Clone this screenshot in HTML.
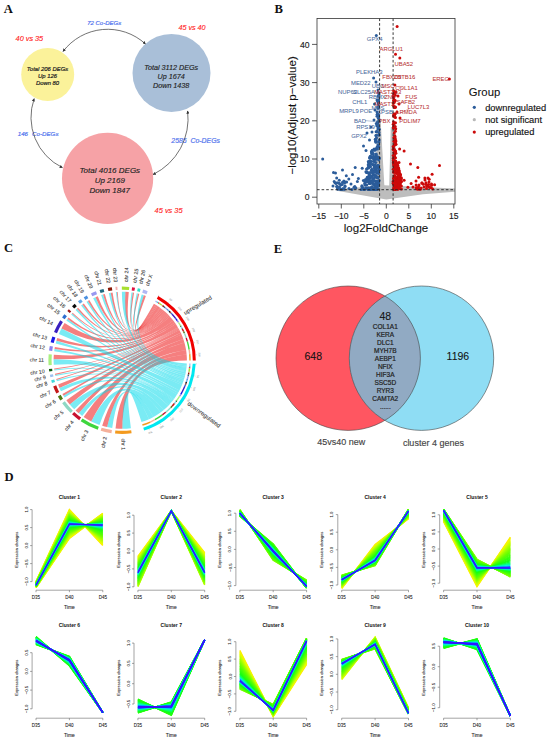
<!DOCTYPE html>
<html><head><meta charset="utf-8"><title>Figure</title>
<style>
html,body{margin:0;padding:0;background:#fff;width:550px;height:744px;overflow:hidden}
svg{display:block}

</style></head><body>
<svg width="550" height="744" viewBox="0 0 550 744" font-family='"Liberation Sans", sans-serif'>
<text x="3.80" y="13.10" font-size="12.6" fill="#111" text-anchor="start" font-weight="bold" font-family='"Liberation Serif", serif'>A</text>
<text x="274.50" y="13.10" font-size="12.6" fill="#111" text-anchor="start" font-weight="bold" font-family='"Liberation Serif", serif'>B</text>
<text x="4.10" y="251.60" font-size="12.6" fill="#111" text-anchor="start" font-weight="bold" font-family='"Liberation Serif", serif'>C</text>
<text x="273.80" y="252.60" font-size="12.6" fill="#111" text-anchor="start" font-weight="bold" font-family='"Liberation Serif", serif'>E</text>
<text x="4.40" y="481.30" font-size="12.6" fill="#111" text-anchor="start" font-weight="bold" font-family='"Liberation Serif", serif'>D</text>
<circle cx="47.7" cy="74.4" r="26.5" fill="#FBF29A"/>
<circle cx="171.5" cy="72.9" r="39" fill="#A9BFD8"/>
<circle cx="107.6" cy="178.4" r="45.6" fill="#F6A2A6"/>
<text x="47.50" y="70.52" font-size="5.9" fill="#222" text-anchor="middle" font-style="italic" stroke="#222" stroke-width="0.20">Total 206 DEGs</text>
<text x="47.50" y="77.92" font-size="5.9" fill="#222" text-anchor="middle" font-style="italic" stroke="#222" stroke-width="0.20">Up 126</text>
<text x="47.50" y="85.32" font-size="5.9" fill="#222" text-anchor="middle" font-style="italic" stroke="#222" stroke-width="0.20">Down 80</text>
<text x="171.20" y="69.79" font-size="7.2" fill="#222" text-anchor="middle" font-style="italic" stroke="#222" stroke-width="0.14">Total 3112 DEGs</text>
<text x="171.20" y="78.79" font-size="7.2" fill="#222" text-anchor="middle" font-style="italic" stroke="#222" stroke-width="0.14">Up 1674</text>
<text x="171.20" y="87.79" font-size="7.2" fill="#222" text-anchor="middle" font-style="italic" stroke="#222" stroke-width="0.14">Down 1438</text>
<text x="109.80" y="172.98" font-size="8.0" fill="#222" text-anchor="middle" font-style="italic" stroke="#222" stroke-width="0.14">Total 4016 DEGs</text>
<text x="109.80" y="182.78" font-size="8.0" fill="#222" text-anchor="middle" font-style="italic" stroke="#222" stroke-width="0.14">Up 2169</text>
<text x="109.80" y="192.58" font-size="8.0" fill="#222" text-anchor="middle" font-style="italic" stroke="#222" stroke-width="0.14">Down 1847</text>
<text x="29.40" y="40.63" font-size="7.3" fill="#F22" text-anchor="middle" font-style="italic" stroke="#F22" stroke-width="0.14">40 vs 35</text>
<text x="192.00" y="30.19" font-size="7.2" fill="#F22" text-anchor="middle" font-style="italic" stroke="#F22" stroke-width="0.14">45 vs 40</text>
<text x="168.60" y="212.66" font-size="7.4" fill="#F22" text-anchor="middle" font-style="italic" stroke="#F22" stroke-width="0.14">45 vs 35</text>
<text x="104.20" y="25.36" font-size="6.0" fill="#5577EE" text-anchor="middle" font-style="italic" stroke="#5577EE" stroke-width="0.20">72 Co-DEGs</text>
<text x="17.70" y="135.73" font-size="6.2" fill="#5577EE" text-anchor="start" font-style="italic" stroke="#5577EE" stroke-width="0.20">146</text>
<text x="32.00" y="135.73" font-size="6.2" fill="#5577EE" text-anchor="start" font-style="italic" stroke="#5577EE" stroke-width="0.20">Co-DEGs</text>
<text x="171.30" y="143.48" font-size="6.9" fill="#5577EE" text-anchor="start" font-style="italic" stroke="#5577EE" stroke-width="0.20">2585</text>
<text x="190.50" y="143.48" font-size="6.9" fill="#5577EE" text-anchor="start" font-style="italic" stroke="#5577EE" stroke-width="0.20">Co-DEGs</text>
<defs><marker id="ah" viewBox="0 0 10 10" refX="9" refY="5" markerWidth="4.2" markerHeight="4.2" orient="auto-start-reverse"><path d="M0,0 L10,5 L0,10 z" fill="#333"/></marker></defs>
<path d="M63,51.5 A56,56 0 0 1 145.5,44" fill="none" stroke="#444" stroke-width="0.75" marker-start="url(#ah)" marker-end="url(#ah)"/>
<path d="M34.2,98.6 A56,56 0 0 0 62.5,167.7" fill="none" stroke="#444" stroke-width="0.75" marker-start="url(#ah)" marker-end="url(#ah)"/>
<path d="M187.6,110.9 A62,62 0 0 1 153,174.5" fill="none" stroke="#444" stroke-width="0.75" marker-start="url(#ah)" marker-end="url(#ah)"/>
<rect x="317.0" y="18.5" width="138.0" height="185.5" fill="#fff"/>
<path d="M336.7,189.2 L384,185.2 L455,188.4 L455,191.8 L423,194.2 L386.3,199.6 L336.7,190.8 Z" fill="#BDBDBD"/>
<path d="M376.5,120 L380.6,120 L384.8,193 L376.5,193 Z" fill="#BDBDBD"/>
<path d="M390.8,127 L395.5,127 L395.5,193 L389.0,193 Z" fill="#BDBDBD"/>
<circle cx="375.7" cy="172.0" r="1.5" fill="#2B5C9A"/>
<circle cx="378.6" cy="165.5" r="1.5" fill="#2B5C9A"/>
<circle cx="378.3" cy="167.6" r="1.5" fill="#2B5C9A"/>
<circle cx="369.2" cy="189.2" r="1.5" fill="#2B5C9A"/>
<circle cx="375.7" cy="159.5" r="1.5" fill="#2B5C9A"/>
<circle cx="369.6" cy="161.2" r="1.5" fill="#2B5C9A"/>
<circle cx="367.5" cy="177.4" r="1.5" fill="#2B5C9A"/>
<circle cx="373.0" cy="174.9" r="1.5" fill="#2B5C9A"/>
<circle cx="364.4" cy="189.4" r="1.5" fill="#2B5C9A"/>
<circle cx="377.9" cy="183.4" r="1.5" fill="#2B5C9A"/>
<circle cx="368.8" cy="166.6" r="1.5" fill="#2B5C9A"/>
<circle cx="368.9" cy="165.4" r="1.5" fill="#2B5C9A"/>
<circle cx="367.0" cy="172.2" r="1.5" fill="#2B5C9A"/>
<circle cx="376.9" cy="189.6" r="1.5" fill="#2B5C9A"/>
<circle cx="365.3" cy="185.3" r="1.5" fill="#2B5C9A"/>
<circle cx="378.1" cy="157.8" r="1.5" fill="#2B5C9A"/>
<circle cx="378.7" cy="183.1" r="1.5" fill="#2B5C9A"/>
<circle cx="374.5" cy="175.0" r="1.5" fill="#2B5C9A"/>
<circle cx="378.3" cy="185.4" r="1.5" fill="#2B5C9A"/>
<circle cx="378.9" cy="169.5" r="1.5" fill="#2B5C9A"/>
<circle cx="371.6" cy="161.5" r="1.5" fill="#2B5C9A"/>
<circle cx="365.4" cy="180.9" r="1.5" fill="#2B5C9A"/>
<circle cx="362.2" cy="186.9" r="1.5" fill="#2B5C9A"/>
<circle cx="372.5" cy="182.7" r="1.5" fill="#2B5C9A"/>
<circle cx="373.2" cy="189.5" r="1.5" fill="#2B5C9A"/>
<circle cx="367.7" cy="181.6" r="1.5" fill="#2B5C9A"/>
<circle cx="373.1" cy="164.5" r="1.5" fill="#2B5C9A"/>
<circle cx="370.5" cy="182.3" r="1.5" fill="#2B5C9A"/>
<circle cx="366.9" cy="169.0" r="1.5" fill="#2B5C9A"/>
<circle cx="369.5" cy="158.1" r="1.5" fill="#2B5C9A"/>
<circle cx="377.4" cy="167.2" r="1.5" fill="#2B5C9A"/>
<circle cx="375.3" cy="189.4" r="1.5" fill="#2B5C9A"/>
<circle cx="372.3" cy="180.8" r="1.5" fill="#2B5C9A"/>
<circle cx="361.1" cy="189.5" r="1.5" fill="#2B5C9A"/>
<circle cx="378.5" cy="186.0" r="1.5" fill="#2B5C9A"/>
<circle cx="374.9" cy="185.6" r="1.5" fill="#2B5C9A"/>
<circle cx="378.7" cy="160.0" r="1.5" fill="#2B5C9A"/>
<circle cx="368.5" cy="181.4" r="1.5" fill="#2B5C9A"/>
<circle cx="375.9" cy="175.5" r="1.5" fill="#2B5C9A"/>
<circle cx="374.6" cy="187.8" r="1.5" fill="#2B5C9A"/>
<circle cx="377.6" cy="165.4" r="1.5" fill="#2B5C9A"/>
<circle cx="378.3" cy="189.1" r="1.5" fill="#2B5C9A"/>
<circle cx="367.0" cy="188.1" r="1.5" fill="#2B5C9A"/>
<circle cx="378.2" cy="172.5" r="1.5" fill="#2B5C9A"/>
<circle cx="378.0" cy="181.6" r="1.5" fill="#2B5C9A"/>
<circle cx="369.1" cy="174.8" r="1.5" fill="#2B5C9A"/>
<circle cx="365.3" cy="182.3" r="1.5" fill="#2B5C9A"/>
<circle cx="363.3" cy="188.4" r="1.5" fill="#2B5C9A"/>
<circle cx="379.3" cy="169.5" r="1.5" fill="#2B5C9A"/>
<circle cx="362.0" cy="186.5" r="1.5" fill="#2B5C9A"/>
<circle cx="374.7" cy="157.7" r="1.5" fill="#2B5C9A"/>
<circle cx="366.9" cy="179.5" r="1.5" fill="#2B5C9A"/>
<circle cx="376.8" cy="173.1" r="1.5" fill="#2B5C9A"/>
<circle cx="370.2" cy="177.9" r="1.5" fill="#2B5C9A"/>
<circle cx="377.7" cy="188.8" r="1.5" fill="#2B5C9A"/>
<circle cx="369.7" cy="189.2" r="1.5" fill="#2B5C9A"/>
<circle cx="369.2" cy="163.7" r="1.5" fill="#2B5C9A"/>
<circle cx="378.7" cy="167.9" r="1.5" fill="#2B5C9A"/>
<circle cx="376.4" cy="171.7" r="1.5" fill="#2B5C9A"/>
<circle cx="368.8" cy="187.8" r="1.5" fill="#2B5C9A"/>
<circle cx="376.5" cy="186.8" r="1.5" fill="#2B5C9A"/>
<circle cx="369.9" cy="182.9" r="1.5" fill="#2B5C9A"/>
<circle cx="377.9" cy="157.1" r="1.5" fill="#2B5C9A"/>
<circle cx="373.8" cy="158.1" r="1.5" fill="#2B5C9A"/>
<circle cx="375.1" cy="176.8" r="1.5" fill="#2B5C9A"/>
<circle cx="368.3" cy="177.1" r="1.5" fill="#2B5C9A"/>
<circle cx="365.5" cy="179.6" r="1.5" fill="#2B5C9A"/>
<circle cx="379.1" cy="180.4" r="1.5" fill="#2B5C9A"/>
<circle cx="375.5" cy="158.8" r="1.5" fill="#2B5C9A"/>
<circle cx="369.2" cy="176.4" r="1.5" fill="#2B5C9A"/>
<circle cx="365.7" cy="188.2" r="1.5" fill="#2B5C9A"/>
<circle cx="377.7" cy="166.0" r="1.5" fill="#2B5C9A"/>
<circle cx="375.8" cy="180.9" r="1.5" fill="#2B5C9A"/>
<circle cx="375.5" cy="166.3" r="1.5" fill="#2B5C9A"/>
<circle cx="376.0" cy="170.5" r="1.5" fill="#2B5C9A"/>
<circle cx="374.4" cy="180.8" r="1.5" fill="#2B5C9A"/>
<circle cx="370.4" cy="183.3" r="1.5" fill="#2B5C9A"/>
<circle cx="375.5" cy="166.5" r="1.5" fill="#2B5C9A"/>
<circle cx="378.4" cy="183.0" r="1.5" fill="#2B5C9A"/>
<circle cx="373.5" cy="171.0" r="1.5" fill="#2B5C9A"/>
<circle cx="370.7" cy="189.5" r="1.5" fill="#2B5C9A"/>
<circle cx="373.6" cy="184.2" r="1.5" fill="#2B5C9A"/>
<circle cx="376.4" cy="177.6" r="1.5" fill="#2B5C9A"/>
<circle cx="376.5" cy="171.1" r="1.5" fill="#2B5C9A"/>
<circle cx="373.4" cy="181.3" r="1.5" fill="#2B5C9A"/>
<circle cx="377.1" cy="167.7" r="1.5" fill="#2B5C9A"/>
<circle cx="376.7" cy="181.3" r="1.5" fill="#2B5C9A"/>
<circle cx="375.8" cy="162.5" r="1.5" fill="#2B5C9A"/>
<circle cx="378.9" cy="158.1" r="1.5" fill="#2B5C9A"/>
<circle cx="372.2" cy="175.7" r="1.5" fill="#2B5C9A"/>
<circle cx="376.3" cy="186.4" r="1.5" fill="#2B5C9A"/>
<circle cx="373.8" cy="159.7" r="1.5" fill="#2B5C9A"/>
<circle cx="375.6" cy="169.5" r="1.5" fill="#2B5C9A"/>
<circle cx="368.6" cy="168.0" r="1.5" fill="#2B5C9A"/>
<circle cx="374.1" cy="166.0" r="1.5" fill="#2B5C9A"/>
<circle cx="371.4" cy="170.4" r="1.5" fill="#2B5C9A"/>
<circle cx="376.2" cy="172.0" r="1.5" fill="#2B5C9A"/>
<circle cx="375.4" cy="171.5" r="1.5" fill="#2B5C9A"/>
<circle cx="363.3" cy="189.3" r="1.5" fill="#2B5C9A"/>
<circle cx="373.8" cy="178.4" r="1.5" fill="#2B5C9A"/>
<circle cx="373.7" cy="185.1" r="1.5" fill="#2B5C9A"/>
<circle cx="365.9" cy="171.7" r="1.5" fill="#2B5C9A"/>
<circle cx="367.2" cy="177.3" r="1.5" fill="#2B5C9A"/>
<circle cx="362.9" cy="188.8" r="1.5" fill="#2B5C9A"/>
<circle cx="365.4" cy="182.3" r="1.5" fill="#2B5C9A"/>
<circle cx="361.9" cy="185.7" r="1.5" fill="#2B5C9A"/>
<circle cx="369.6" cy="177.5" r="1.5" fill="#2B5C9A"/>
<circle cx="373.5" cy="172.4" r="1.5" fill="#2B5C9A"/>
<circle cx="377.6" cy="184.5" r="1.5" fill="#2B5C9A"/>
<circle cx="368.0" cy="189.6" r="1.5" fill="#2B5C9A"/>
<circle cx="369.1" cy="183.4" r="1.5" fill="#2B5C9A"/>
<circle cx="376.2" cy="187.6" r="1.5" fill="#2B5C9A"/>
<circle cx="363.4" cy="180.5" r="1.5" fill="#2B5C9A"/>
<circle cx="366.5" cy="172.4" r="1.5" fill="#2B5C9A"/>
<circle cx="369.5" cy="174.8" r="1.5" fill="#2B5C9A"/>
<circle cx="378.7" cy="173.5" r="1.5" fill="#2B5C9A"/>
<circle cx="372.4" cy="164.5" r="1.5" fill="#2B5C9A"/>
<circle cx="375.0" cy="164.8" r="1.5" fill="#2B5C9A"/>
<circle cx="365.1" cy="180.7" r="1.5" fill="#2B5C9A"/>
<circle cx="373.1" cy="173.0" r="1.5" fill="#2B5C9A"/>
<circle cx="379.0" cy="158.9" r="1.5" fill="#2B5C9A"/>
<circle cx="370.1" cy="172.5" r="1.5" fill="#2B5C9A"/>
<circle cx="368.3" cy="161.5" r="1.5" fill="#2B5C9A"/>
<circle cx="371.2" cy="187.8" r="1.5" fill="#2B5C9A"/>
<circle cx="367.2" cy="172.3" r="1.5" fill="#2B5C9A"/>
<circle cx="377.8" cy="171.8" r="1.5" fill="#2B5C9A"/>
<circle cx="369.9" cy="180.5" r="1.5" fill="#2B5C9A"/>
<circle cx="366.7" cy="184.9" r="1.5" fill="#2B5C9A"/>
<circle cx="373.1" cy="158.2" r="1.5" fill="#2B5C9A"/>
<circle cx="378.4" cy="158.7" r="1.5" fill="#2B5C9A"/>
<circle cx="368.7" cy="173.0" r="1.5" fill="#2B5C9A"/>
<circle cx="374.3" cy="157.9" r="1.5" fill="#2B5C9A"/>
<circle cx="368.3" cy="179.2" r="1.5" fill="#2B5C9A"/>
<circle cx="374.3" cy="157.8" r="1.5" fill="#2B5C9A"/>
<circle cx="370.3" cy="183.2" r="1.5" fill="#2B5C9A"/>
<circle cx="372.3" cy="187.5" r="1.5" fill="#2B5C9A"/>
<circle cx="368.1" cy="178.3" r="1.5" fill="#2B5C9A"/>
<circle cx="377.2" cy="166.0" r="1.5" fill="#2B5C9A"/>
<circle cx="370.4" cy="189.4" r="1.5" fill="#2B5C9A"/>
<circle cx="378.2" cy="183.5" r="1.5" fill="#2B5C9A"/>
<circle cx="370.0" cy="166.0" r="1.5" fill="#2B5C9A"/>
<circle cx="364.6" cy="183.7" r="1.5" fill="#2B5C9A"/>
<circle cx="372.3" cy="157.6" r="1.5" fill="#2B5C9A"/>
<circle cx="371.9" cy="172.6" r="1.5" fill="#2B5C9A"/>
<circle cx="373.8" cy="171.2" r="1.5" fill="#2B5C9A"/>
<circle cx="368.1" cy="167.5" r="1.5" fill="#2B5C9A"/>
<circle cx="370.5" cy="166.8" r="1.5" fill="#2B5C9A"/>
<circle cx="369.4" cy="175.2" r="1.5" fill="#2B5C9A"/>
<circle cx="371.2" cy="182.9" r="1.5" fill="#2B5C9A"/>
<circle cx="369.3" cy="177.6" r="1.5" fill="#2B5C9A"/>
<circle cx="374.1" cy="167.4" r="1.5" fill="#2B5C9A"/>
<circle cx="365.1" cy="189.1" r="1.5" fill="#2B5C9A"/>
<circle cx="378.0" cy="177.9" r="1.5" fill="#2B5C9A"/>
<circle cx="374.3" cy="161.7" r="1.5" fill="#2B5C9A"/>
<circle cx="375.1" cy="189.4" r="1.5" fill="#2B5C9A"/>
<circle cx="372.5" cy="178.8" r="1.5" fill="#2B5C9A"/>
<circle cx="374.5" cy="168.8" r="1.5" fill="#2B5C9A"/>
<circle cx="378.0" cy="177.0" r="1.5" fill="#2B5C9A"/>
<circle cx="369.3" cy="180.2" r="1.5" fill="#2B5C9A"/>
<circle cx="370.1" cy="163.2" r="1.5" fill="#2B5C9A"/>
<circle cx="376.4" cy="182.9" r="1.5" fill="#2B5C9A"/>
<circle cx="376.2" cy="188.6" r="1.5" fill="#2B5C9A"/>
<circle cx="371.8" cy="169.3" r="1.5" fill="#2B5C9A"/>
<circle cx="375.5" cy="183.2" r="1.5" fill="#2B5C9A"/>
<circle cx="370.0" cy="160.8" r="1.5" fill="#2B5C9A"/>
<circle cx="372.3" cy="177.1" r="1.5" fill="#2B5C9A"/>
<circle cx="369.1" cy="176.5" r="1.5" fill="#2B5C9A"/>
<circle cx="371.7" cy="186.7" r="1.5" fill="#2B5C9A"/>
<circle cx="368.2" cy="164.8" r="1.5" fill="#2B5C9A"/>
<circle cx="376.1" cy="184.8" r="1.5" fill="#2B5C9A"/>
<circle cx="375.2" cy="165.6" r="1.5" fill="#2B5C9A"/>
<circle cx="374.0" cy="189.3" r="1.5" fill="#2B5C9A"/>
<circle cx="379.3" cy="158.0" r="1.5" fill="#2B5C9A"/>
<circle cx="366.7" cy="169.1" r="1.5" fill="#2B5C9A"/>
<circle cx="370.2" cy="163.6" r="1.5" fill="#2B5C9A"/>
<circle cx="379.2" cy="121.7" r="1.5" fill="#2B5C9A"/>
<circle cx="377.0" cy="116.2" r="1.5" fill="#2B5C9A"/>
<circle cx="378.8" cy="146.7" r="1.5" fill="#2B5C9A"/>
<circle cx="375.9" cy="154.2" r="1.5" fill="#2B5C9A"/>
<circle cx="375.8" cy="139.0" r="1.5" fill="#2B5C9A"/>
<circle cx="376.3" cy="123.6" r="1.5" fill="#2B5C9A"/>
<circle cx="373.5" cy="155.9" r="1.5" fill="#2B5C9A"/>
<circle cx="370.1" cy="157.3" r="1.5" fill="#2B5C9A"/>
<circle cx="378.4" cy="127.3" r="1.5" fill="#2B5C9A"/>
<circle cx="377.9" cy="101.6" r="1.5" fill="#2B5C9A"/>
<circle cx="376.5" cy="137.8" r="1.5" fill="#2B5C9A"/>
<circle cx="377.7" cy="125.4" r="1.5" fill="#2B5C9A"/>
<circle cx="378.5" cy="96.1" r="1.5" fill="#2B5C9A"/>
<circle cx="376.3" cy="157.8" r="1.5" fill="#2B5C9A"/>
<circle cx="376.1" cy="154.1" r="1.5" fill="#2B5C9A"/>
<circle cx="379.0" cy="132.5" r="1.5" fill="#2B5C9A"/>
<circle cx="378.0" cy="128.9" r="1.5" fill="#2B5C9A"/>
<circle cx="376.2" cy="148.4" r="1.5" fill="#2B5C9A"/>
<circle cx="377.5" cy="148.9" r="1.5" fill="#2B5C9A"/>
<circle cx="376.1" cy="131.7" r="1.5" fill="#2B5C9A"/>
<circle cx="374.6" cy="150.0" r="1.5" fill="#2B5C9A"/>
<circle cx="377.3" cy="114.2" r="1.5" fill="#2B5C9A"/>
<circle cx="378.4" cy="116.2" r="1.5" fill="#2B5C9A"/>
<circle cx="376.1" cy="156.8" r="1.5" fill="#2B5C9A"/>
<circle cx="370.9" cy="156.6" r="1.5" fill="#2B5C9A"/>
<circle cx="376.8" cy="125.8" r="1.5" fill="#2B5C9A"/>
<circle cx="378.5" cy="101.8" r="1.5" fill="#2B5C9A"/>
<circle cx="378.1" cy="144.8" r="1.5" fill="#2B5C9A"/>
<circle cx="376.5" cy="158.5" r="1.5" fill="#2B5C9A"/>
<circle cx="370.8" cy="157.9" r="1.5" fill="#2B5C9A"/>
<circle cx="378.9" cy="94.8" r="1.5" fill="#2B5C9A"/>
<circle cx="372.5" cy="150.6" r="1.5" fill="#2B5C9A"/>
<circle cx="379.0" cy="92.9" r="1.5" fill="#2B5C9A"/>
<circle cx="377.6" cy="106.9" r="1.5" fill="#2B5C9A"/>
<circle cx="377.3" cy="123.4" r="1.5" fill="#2B5C9A"/>
<circle cx="374.3" cy="149.9" r="1.5" fill="#2B5C9A"/>
<circle cx="377.2" cy="124.3" r="1.5" fill="#2B5C9A"/>
<circle cx="375.4" cy="140.9" r="1.5" fill="#2B5C9A"/>
<circle cx="378.6" cy="105.9" r="1.5" fill="#2B5C9A"/>
<circle cx="378.1" cy="108.3" r="1.5" fill="#2B5C9A"/>
<circle cx="378.4" cy="104.1" r="1.5" fill="#2B5C9A"/>
<circle cx="377.9" cy="125.9" r="1.5" fill="#2B5C9A"/>
<circle cx="377.8" cy="113.9" r="1.5" fill="#2B5C9A"/>
<circle cx="370.1" cy="156.4" r="1.5" fill="#2B5C9A"/>
<circle cx="371.6" cy="151.7" r="1.5" fill="#2B5C9A"/>
<circle cx="378.5" cy="100.7" r="1.5" fill="#2B5C9A"/>
<circle cx="377.0" cy="112.1" r="1.5" fill="#2B5C9A"/>
<circle cx="378.9" cy="135.1" r="1.5" fill="#2B5C9A"/>
<circle cx="377.5" cy="123.8" r="1.5" fill="#2B5C9A"/>
<circle cx="375.8" cy="135.4" r="1.5" fill="#2B5C9A"/>
<circle cx="371.9" cy="154.0" r="1.5" fill="#2B5C9A"/>
<circle cx="376.4" cy="141.6" r="1.5" fill="#2B5C9A"/>
<circle cx="377.9" cy="101.5" r="1.5" fill="#2B5C9A"/>
<circle cx="374.1" cy="148.9" r="1.5" fill="#2B5C9A"/>
<circle cx="373.1" cy="153.6" r="1.5" fill="#2B5C9A"/>
<circle cx="375.4" cy="149.9" r="1.5" fill="#2B5C9A"/>
<circle cx="378.6" cy="158.4" r="1.5" fill="#2B5C9A"/>
<circle cx="379.0" cy="142.0" r="1.5" fill="#2B5C9A"/>
<circle cx="378.4" cy="118.3" r="1.5" fill="#2B5C9A"/>
<circle cx="379.1" cy="135.0" r="1.5" fill="#2B5C9A"/>
<circle cx="376.2" cy="155.6" r="1.5" fill="#2B5C9A"/>
<circle cx="377.2" cy="146.8" r="1.5" fill="#2B5C9A"/>
<circle cx="377.2" cy="114.8" r="1.5" fill="#2B5C9A"/>
<circle cx="371.4" cy="151.7" r="1.5" fill="#2B5C9A"/>
<circle cx="372.3" cy="150.2" r="1.5" fill="#2B5C9A"/>
<circle cx="379.2" cy="139.9" r="1.5" fill="#2B5C9A"/>
<circle cx="375.9" cy="142.3" r="1.5" fill="#2B5C9A"/>
<circle cx="376.5" cy="135.2" r="1.5" fill="#2B5C9A"/>
<circle cx="378.6" cy="114.5" r="1.5" fill="#2B5C9A"/>
<circle cx="372.7" cy="153.6" r="1.5" fill="#2B5C9A"/>
<circle cx="379.2" cy="119.6" r="1.5" fill="#2B5C9A"/>
<circle cx="377.6" cy="121.7" r="1.5" fill="#2B5C9A"/>
<circle cx="378.3" cy="92.6" r="1.5" fill="#2B5C9A"/>
<circle cx="377.1" cy="157.6" r="1.5" fill="#2B5C9A"/>
<circle cx="375.3" cy="139.3" r="1.5" fill="#2B5C9A"/>
<circle cx="379.3" cy="129.3" r="1.5" fill="#2B5C9A"/>
<circle cx="376.9" cy="131.6" r="1.5" fill="#2B5C9A"/>
<circle cx="370.4" cy="156.5" r="1.5" fill="#2B5C9A"/>
<circle cx="378.6" cy="99.8" r="1.5" fill="#2B5C9A"/>
<circle cx="378.1" cy="96.3" r="1.5" fill="#2B5C9A"/>
<circle cx="340.6" cy="189.4" r="1.5" fill="#2B5C9A"/>
<circle cx="344.4" cy="189.3" r="1.5" fill="#2B5C9A"/>
<circle cx="340.9" cy="185.1" r="1.5" fill="#2B5C9A"/>
<circle cx="342.1" cy="189.4" r="1.5" fill="#2B5C9A"/>
<circle cx="335.5" cy="173.1" r="1.5" fill="#2B5C9A"/>
<circle cx="339.0" cy="183.3" r="1.5" fill="#2B5C9A"/>
<circle cx="344.5" cy="182.9" r="1.5" fill="#2B5C9A"/>
<circle cx="336.6" cy="186.5" r="1.5" fill="#2B5C9A"/>
<circle cx="337.2" cy="182.7" r="1.5" fill="#2B5C9A"/>
<circle cx="357.4" cy="181.6" r="1.5" fill="#2B5C9A"/>
<circle cx="355.8" cy="187.9" r="1.5" fill="#2B5C9A"/>
<circle cx="335.0" cy="182.7" r="1.5" fill="#2B5C9A"/>
<circle cx="346.6" cy="182.1" r="1.5" fill="#2B5C9A"/>
<circle cx="343.9" cy="181.1" r="1.5" fill="#2B5C9A"/>
<circle cx="352.5" cy="174.6" r="1.5" fill="#2B5C9A"/>
<circle cx="342.2" cy="184.4" r="1.5" fill="#2B5C9A"/>
<circle cx="355.0" cy="187.7" r="1.5" fill="#2B5C9A"/>
<circle cx="337.4" cy="186.6" r="1.5" fill="#2B5C9A"/>
<circle cx="336.7" cy="177.9" r="1.5" fill="#2B5C9A"/>
<circle cx="354.8" cy="186.6" r="1.5" fill="#2B5C9A"/>
<circle cx="337.8" cy="189.2" r="1.5" fill="#2B5C9A"/>
<circle cx="340.6" cy="189.1" r="1.5" fill="#2B5C9A"/>
<circle cx="345.2" cy="182.0" r="1.5" fill="#2B5C9A"/>
<circle cx="340.6" cy="189.3" r="1.5" fill="#2B5C9A"/>
<circle cx="351.9" cy="189.4" r="1.5" fill="#2B5C9A"/>
<circle cx="339.5" cy="186.9" r="1.5" fill="#2B5C9A"/>
<circle cx="343.8" cy="189.0" r="1.5" fill="#2B5C9A"/>
<circle cx="345.0" cy="186.5" r="1.5" fill="#2B5C9A"/>
<circle cx="322.7" cy="159.0" r="1.5" fill="#2B5C9A"/>
<circle cx="333.5" cy="172.6" r="1.5" fill="#2B5C9A"/>
<circle cx="342.5" cy="170.0" r="1.5" fill="#2B5C9A"/>
<circle cx="346.3" cy="175.8" r="1.5" fill="#2B5C9A"/>
<circle cx="334.2" cy="181.5" r="1.5" fill="#2B5C9A"/>
<circle cx="339.3" cy="180.3" r="1.5" fill="#2B5C9A"/>
<circle cx="342.5" cy="182.2" r="1.5" fill="#2B5C9A"/>
<circle cx="348.8" cy="179.0" r="1.5" fill="#2B5C9A"/>
<circle cx="340.0" cy="184.0" r="1.5" fill="#2B5C9A"/>
<circle cx="345.0" cy="186.0" r="1.5" fill="#2B5C9A"/>
<circle cx="337.4" cy="188.0" r="1.5" fill="#2B5C9A"/>
<circle cx="355.2" cy="167.5" r="1.5" fill="#2B5C9A"/>
<circle cx="362.2" cy="168.2" r="1.5" fill="#2B5C9A"/>
<circle cx="358.4" cy="178.4" r="1.5" fill="#2B5C9A"/>
<circle cx="354.0" cy="187.3" r="1.5" fill="#2B5C9A"/>
<circle cx="333.0" cy="186.0" r="1.5" fill="#2B5C9A"/>
<circle cx="343.0" cy="188.5" r="1.5" fill="#2B5C9A"/>
<circle cx="351.0" cy="184.0" r="1.5" fill="#2B5C9A"/>
<circle cx="349.0" cy="188.5" r="1.5" fill="#2B5C9A"/>
<circle cx="336.0" cy="183.5" r="1.5" fill="#2B5C9A"/>
<circle cx="366.0" cy="150.4" r="1.5" fill="#2B5C9A"/>
<circle cx="371.7" cy="153.5" r="1.5" fill="#2B5C9A"/>
<circle cx="368.5" cy="162.5" r="1.5" fill="#2B5C9A"/>
<circle cx="369.5" cy="140.0" r="1.5" fill="#2B5C9A"/>
<circle cx="372.0" cy="132.0" r="1.5" fill="#2B5C9A"/>
<circle cx="374.0" cy="120.0" r="1.5" fill="#2B5C9A"/>
<circle cx="371.0" cy="127.0" r="1.5" fill="#2B5C9A"/>
<circle cx="375.0" cy="110.0" r="1.5" fill="#2B5C9A"/>
<circle cx="373.6" cy="78.0" r="1.5" fill="#2B5C9A"/>
<circle cx="376.0" cy="81.9" r="1.5" fill="#2B5C9A"/>
<circle cx="376.3" cy="35.5" r="1.5" fill="#2B5C9A"/>
<circle cx="377.0" cy="100.0" r="1.5" fill="#2B5C9A"/>
<circle cx="374.5" cy="104.0" r="1.5" fill="#2B5C9A"/>
<circle cx="378.0" cy="90.0" r="1.5" fill="#2B5C9A"/>
<circle cx="367.0" cy="133.0" r="1.5" fill="#2B5C9A"/>
<circle cx="363.5" cy="146.0" r="1.5" fill="#2B5C9A"/>
<circle cx="396.7" cy="171.1" r="1.5" fill="#CC0A0A"/>
<circle cx="396.5" cy="166.4" r="1.5" fill="#CC0A0A"/>
<circle cx="396.8" cy="170.9" r="1.5" fill="#CC0A0A"/>
<circle cx="400.1" cy="180.3" r="1.5" fill="#CC0A0A"/>
<circle cx="400.1" cy="174.1" r="1.5" fill="#CC0A0A"/>
<circle cx="397.8" cy="171.9" r="1.5" fill="#CC0A0A"/>
<circle cx="400.0" cy="184.7" r="1.5" fill="#CC0A0A"/>
<circle cx="394.2" cy="181.9" r="1.5" fill="#CC0A0A"/>
<circle cx="394.6" cy="188.8" r="1.5" fill="#CC0A0A"/>
<circle cx="398.9" cy="184.9" r="1.5" fill="#CC0A0A"/>
<circle cx="393.7" cy="184.3" r="1.5" fill="#CC0A0A"/>
<circle cx="396.7" cy="170.7" r="1.5" fill="#CC0A0A"/>
<circle cx="393.6" cy="189.3" r="1.5" fill="#CC0A0A"/>
<circle cx="396.2" cy="187.7" r="1.5" fill="#CC0A0A"/>
<circle cx="398.3" cy="167.6" r="1.5" fill="#CC0A0A"/>
<circle cx="394.9" cy="175.4" r="1.5" fill="#CC0A0A"/>
<circle cx="396.2" cy="180.7" r="1.5" fill="#CC0A0A"/>
<circle cx="393.2" cy="183.2" r="1.5" fill="#CC0A0A"/>
<circle cx="399.7" cy="176.3" r="1.5" fill="#CC0A0A"/>
<circle cx="393.8" cy="171.9" r="1.5" fill="#CC0A0A"/>
<circle cx="394.6" cy="177.8" r="1.5" fill="#CC0A0A"/>
<circle cx="396.2" cy="172.4" r="1.5" fill="#CC0A0A"/>
<circle cx="396.9" cy="164.9" r="1.5" fill="#CC0A0A"/>
<circle cx="395.8" cy="187.9" r="1.5" fill="#CC0A0A"/>
<circle cx="395.4" cy="165.7" r="1.5" fill="#CC0A0A"/>
<circle cx="396.9" cy="180.5" r="1.5" fill="#CC0A0A"/>
<circle cx="399.1" cy="170.6" r="1.5" fill="#CC0A0A"/>
<circle cx="401.3" cy="177.8" r="1.5" fill="#CC0A0A"/>
<circle cx="394.0" cy="175.9" r="1.5" fill="#CC0A0A"/>
<circle cx="395.6" cy="169.1" r="1.5" fill="#CC0A0A"/>
<circle cx="401.4" cy="189.0" r="1.5" fill="#CC0A0A"/>
<circle cx="398.0" cy="189.2" r="1.5" fill="#CC0A0A"/>
<circle cx="400.6" cy="179.2" r="1.5" fill="#CC0A0A"/>
<circle cx="395.0" cy="181.6" r="1.5" fill="#CC0A0A"/>
<circle cx="394.8" cy="184.5" r="1.5" fill="#CC0A0A"/>
<circle cx="396.0" cy="176.9" r="1.5" fill="#CC0A0A"/>
<circle cx="394.7" cy="171.1" r="1.5" fill="#CC0A0A"/>
<circle cx="395.2" cy="182.7" r="1.5" fill="#CC0A0A"/>
<circle cx="396.8" cy="163.4" r="1.5" fill="#CC0A0A"/>
<circle cx="396.6" cy="167.9" r="1.5" fill="#CC0A0A"/>
<circle cx="394.4" cy="181.4" r="1.5" fill="#CC0A0A"/>
<circle cx="396.0" cy="168.5" r="1.5" fill="#CC0A0A"/>
<circle cx="394.6" cy="189.2" r="1.5" fill="#CC0A0A"/>
<circle cx="399.2" cy="188.2" r="1.5" fill="#CC0A0A"/>
<circle cx="394.2" cy="166.2" r="1.5" fill="#CC0A0A"/>
<circle cx="395.1" cy="169.6" r="1.5" fill="#CC0A0A"/>
<circle cx="399.3" cy="173.3" r="1.5" fill="#CC0A0A"/>
<circle cx="399.2" cy="175.1" r="1.5" fill="#CC0A0A"/>
<circle cx="393.2" cy="182.1" r="1.5" fill="#CC0A0A"/>
<circle cx="398.1" cy="178.4" r="1.5" fill="#CC0A0A"/>
<circle cx="396.4" cy="186.6" r="1.5" fill="#CC0A0A"/>
<circle cx="393.4" cy="183.5" r="1.5" fill="#CC0A0A"/>
<circle cx="396.4" cy="183.7" r="1.5" fill="#CC0A0A"/>
<circle cx="399.1" cy="179.4" r="1.5" fill="#CC0A0A"/>
<circle cx="401.5" cy="181.5" r="1.5" fill="#CC0A0A"/>
<circle cx="398.6" cy="169.0" r="1.5" fill="#CC0A0A"/>
<circle cx="397.8" cy="173.0" r="1.5" fill="#CC0A0A"/>
<circle cx="399.8" cy="177.7" r="1.5" fill="#CC0A0A"/>
<circle cx="398.2" cy="182.4" r="1.5" fill="#CC0A0A"/>
<circle cx="396.9" cy="173.4" r="1.5" fill="#CC0A0A"/>
<circle cx="393.8" cy="184.4" r="1.5" fill="#CC0A0A"/>
<circle cx="396.2" cy="188.4" r="1.5" fill="#CC0A0A"/>
<circle cx="399.2" cy="176.4" r="1.5" fill="#CC0A0A"/>
<circle cx="395.2" cy="172.3" r="1.5" fill="#CC0A0A"/>
<circle cx="394.5" cy="165.3" r="1.5" fill="#CC0A0A"/>
<circle cx="393.6" cy="172.2" r="1.5" fill="#CC0A0A"/>
<circle cx="397.5" cy="171.1" r="1.5" fill="#CC0A0A"/>
<circle cx="397.2" cy="164.3" r="1.5" fill="#CC0A0A"/>
<circle cx="399.1" cy="173.1" r="1.5" fill="#CC0A0A"/>
<circle cx="397.2" cy="171.5" r="1.5" fill="#CC0A0A"/>
<circle cx="397.5" cy="186.1" r="1.5" fill="#CC0A0A"/>
<circle cx="394.4" cy="166.4" r="1.5" fill="#CC0A0A"/>
<circle cx="395.5" cy="163.7" r="1.5" fill="#CC0A0A"/>
<circle cx="393.2" cy="181.6" r="1.5" fill="#CC0A0A"/>
<circle cx="394.6" cy="181.7" r="1.5" fill="#CC0A0A"/>
<circle cx="399.8" cy="174.2" r="1.5" fill="#CC0A0A"/>
<circle cx="396.2" cy="165.9" r="1.5" fill="#CC0A0A"/>
<circle cx="394.1" cy="181.8" r="1.5" fill="#CC0A0A"/>
<circle cx="397.0" cy="173.1" r="1.5" fill="#CC0A0A"/>
<circle cx="395.7" cy="172.3" r="1.5" fill="#CC0A0A"/>
<circle cx="394.3" cy="166.7" r="1.5" fill="#CC0A0A"/>
<circle cx="395.4" cy="183.8" r="1.5" fill="#CC0A0A"/>
<circle cx="400.0" cy="175.1" r="1.5" fill="#CC0A0A"/>
<circle cx="398.5" cy="186.9" r="1.5" fill="#CC0A0A"/>
<circle cx="394.6" cy="170.6" r="1.5" fill="#CC0A0A"/>
<circle cx="397.9" cy="188.8" r="1.5" fill="#CC0A0A"/>
<circle cx="398.2" cy="168.6" r="1.5" fill="#CC0A0A"/>
<circle cx="395.9" cy="171.9" r="1.5" fill="#CC0A0A"/>
<circle cx="397.6" cy="180.8" r="1.5" fill="#CC0A0A"/>
<circle cx="394.7" cy="166.1" r="1.5" fill="#CC0A0A"/>
<circle cx="398.3" cy="184.4" r="1.5" fill="#CC0A0A"/>
<circle cx="394.0" cy="164.0" r="1.5" fill="#CC0A0A"/>
<circle cx="394.1" cy="189.3" r="1.5" fill="#CC0A0A"/>
<circle cx="398.0" cy="176.9" r="1.5" fill="#CC0A0A"/>
<circle cx="394.7" cy="186.6" r="1.5" fill="#CC0A0A"/>
<circle cx="398.2" cy="176.0" r="1.5" fill="#CC0A0A"/>
<circle cx="398.3" cy="173.0" r="1.5" fill="#CC0A0A"/>
<circle cx="397.2" cy="188.8" r="1.5" fill="#CC0A0A"/>
<circle cx="398.6" cy="168.4" r="1.5" fill="#CC0A0A"/>
<circle cx="400.3" cy="183.5" r="1.5" fill="#CC0A0A"/>
<circle cx="400.0" cy="174.4" r="1.5" fill="#CC0A0A"/>
<circle cx="399.0" cy="185.6" r="1.5" fill="#CC0A0A"/>
<circle cx="395.8" cy="168.2" r="1.5" fill="#CC0A0A"/>
<circle cx="394.8" cy="188.2" r="1.5" fill="#CC0A0A"/>
<circle cx="393.9" cy="187.2" r="1.5" fill="#CC0A0A"/>
<circle cx="398.3" cy="187.3" r="1.5" fill="#CC0A0A"/>
<circle cx="399.6" cy="188.1" r="1.5" fill="#CC0A0A"/>
<circle cx="398.5" cy="171.6" r="1.5" fill="#CC0A0A"/>
<circle cx="397.4" cy="169.4" r="1.5" fill="#CC0A0A"/>
<circle cx="397.8" cy="165.4" r="1.5" fill="#CC0A0A"/>
<circle cx="400.5" cy="175.0" r="1.5" fill="#CC0A0A"/>
<circle cx="394.0" cy="188.2" r="1.5" fill="#CC0A0A"/>
<circle cx="394.9" cy="188.8" r="1.5" fill="#CC0A0A"/>
<circle cx="397.0" cy="182.1" r="1.5" fill="#CC0A0A"/>
<circle cx="398.4" cy="173.3" r="1.5" fill="#CC0A0A"/>
<circle cx="396.6" cy="188.5" r="1.5" fill="#CC0A0A"/>
<circle cx="396.2" cy="177.5" r="1.5" fill="#CC0A0A"/>
<circle cx="398.2" cy="187.9" r="1.5" fill="#CC0A0A"/>
<circle cx="398.9" cy="182.1" r="1.5" fill="#CC0A0A"/>
<circle cx="401.3" cy="178.8" r="1.5" fill="#CC0A0A"/>
<circle cx="393.5" cy="164.7" r="1.5" fill="#CC0A0A"/>
<circle cx="397.8" cy="170.9" r="1.5" fill="#CC0A0A"/>
<circle cx="394.1" cy="184.1" r="1.5" fill="#CC0A0A"/>
<circle cx="396.1" cy="179.3" r="1.5" fill="#CC0A0A"/>
<circle cx="399.2" cy="171.6" r="1.5" fill="#CC0A0A"/>
<circle cx="395.6" cy="181.9" r="1.5" fill="#CC0A0A"/>
<circle cx="399.0" cy="178.7" r="1.5" fill="#CC0A0A"/>
<circle cx="396.7" cy="169.9" r="1.5" fill="#CC0A0A"/>
<circle cx="396.0" cy="184.1" r="1.5" fill="#CC0A0A"/>
<circle cx="396.0" cy="168.0" r="1.5" fill="#CC0A0A"/>
<circle cx="396.7" cy="189.0" r="1.5" fill="#CC0A0A"/>
<circle cx="398.8" cy="185.4" r="1.5" fill="#CC0A0A"/>
<circle cx="395.4" cy="188.7" r="1.5" fill="#CC0A0A"/>
<circle cx="397.2" cy="188.3" r="1.5" fill="#CC0A0A"/>
<circle cx="395.5" cy="163.4" r="1.5" fill="#CC0A0A"/>
<circle cx="401.0" cy="181.8" r="1.5" fill="#CC0A0A"/>
<circle cx="396.1" cy="188.4" r="1.5" fill="#CC0A0A"/>
<circle cx="393.2" cy="169.2" r="1.5" fill="#CC0A0A"/>
<circle cx="395.4" cy="170.7" r="1.5" fill="#CC0A0A"/>
<circle cx="395.3" cy="189.4" r="1.5" fill="#CC0A0A"/>
<circle cx="396.4" cy="179.9" r="1.5" fill="#CC0A0A"/>
<circle cx="393.6" cy="178.2" r="1.5" fill="#CC0A0A"/>
<circle cx="401.4" cy="185.9" r="1.5" fill="#CC0A0A"/>
<circle cx="397.1" cy="180.3" r="1.5" fill="#CC0A0A"/>
<circle cx="395.5" cy="188.5" r="1.5" fill="#CC0A0A"/>
<circle cx="396.3" cy="164.4" r="1.5" fill="#CC0A0A"/>
<circle cx="393.6" cy="178.5" r="1.5" fill="#CC0A0A"/>
<circle cx="399.7" cy="181.6" r="1.5" fill="#CC0A0A"/>
<circle cx="398.2" cy="180.5" r="1.5" fill="#CC0A0A"/>
<circle cx="396.4" cy="166.2" r="1.5" fill="#CC0A0A"/>
<circle cx="393.2" cy="124.3" r="1.5" fill="#CC0A0A"/>
<circle cx="396.2" cy="162.4" r="1.5" fill="#CC0A0A"/>
<circle cx="395.6" cy="141.8" r="1.5" fill="#CC0A0A"/>
<circle cx="395.3" cy="107.3" r="1.5" fill="#CC0A0A"/>
<circle cx="396.0" cy="144.2" r="1.5" fill="#CC0A0A"/>
<circle cx="395.3" cy="113.7" r="1.5" fill="#CC0A0A"/>
<circle cx="395.5" cy="157.8" r="1.5" fill="#CC0A0A"/>
<circle cx="395.9" cy="141.1" r="1.5" fill="#CC0A0A"/>
<circle cx="393.6" cy="90.8" r="1.5" fill="#CC0A0A"/>
<circle cx="393.9" cy="141.2" r="1.5" fill="#CC0A0A"/>
<circle cx="393.9" cy="137.6" r="1.5" fill="#CC0A0A"/>
<circle cx="393.5" cy="121.7" r="1.5" fill="#CC0A0A"/>
<circle cx="394.5" cy="156.8" r="1.5" fill="#CC0A0A"/>
<circle cx="394.5" cy="160.9" r="1.5" fill="#CC0A0A"/>
<circle cx="395.2" cy="100.4" r="1.5" fill="#CC0A0A"/>
<circle cx="393.2" cy="155.4" r="1.5" fill="#CC0A0A"/>
<circle cx="395.4" cy="107.1" r="1.5" fill="#CC0A0A"/>
<circle cx="393.5" cy="127.4" r="1.5" fill="#CC0A0A"/>
<circle cx="395.9" cy="153.2" r="1.5" fill="#CC0A0A"/>
<circle cx="393.2" cy="96.5" r="1.5" fill="#CC0A0A"/>
<circle cx="394.4" cy="156.0" r="1.5" fill="#CC0A0A"/>
<circle cx="395.4" cy="151.4" r="1.5" fill="#CC0A0A"/>
<circle cx="395.4" cy="144.6" r="1.5" fill="#CC0A0A"/>
<circle cx="394.7" cy="157.6" r="1.5" fill="#CC0A0A"/>
<circle cx="394.7" cy="92.8" r="1.5" fill="#CC0A0A"/>
<circle cx="393.5" cy="160.3" r="1.5" fill="#CC0A0A"/>
<circle cx="394.1" cy="123.7" r="1.5" fill="#CC0A0A"/>
<circle cx="394.5" cy="144.9" r="1.5" fill="#CC0A0A"/>
<circle cx="395.7" cy="128.8" r="1.5" fill="#CC0A0A"/>
<circle cx="394.8" cy="152.9" r="1.5" fill="#CC0A0A"/>
<circle cx="394.8" cy="151.6" r="1.5" fill="#CC0A0A"/>
<circle cx="393.5" cy="116.0" r="1.5" fill="#CC0A0A"/>
<circle cx="395.1" cy="136.8" r="1.5" fill="#CC0A0A"/>
<circle cx="396.3" cy="162.7" r="1.5" fill="#CC0A0A"/>
<circle cx="394.6" cy="141.4" r="1.5" fill="#CC0A0A"/>
<circle cx="395.2" cy="126.4" r="1.5" fill="#CC0A0A"/>
<circle cx="395.0" cy="161.5" r="1.5" fill="#CC0A0A"/>
<circle cx="394.7" cy="162.1" r="1.5" fill="#CC0A0A"/>
<circle cx="393.2" cy="146.4" r="1.5" fill="#CC0A0A"/>
<circle cx="394.5" cy="149.5" r="1.5" fill="#CC0A0A"/>
<circle cx="395.5" cy="122.7" r="1.5" fill="#CC0A0A"/>
<circle cx="394.7" cy="144.7" r="1.5" fill="#CC0A0A"/>
<circle cx="395.5" cy="117.6" r="1.5" fill="#CC0A0A"/>
<circle cx="395.3" cy="95.3" r="1.5" fill="#CC0A0A"/>
<circle cx="393.6" cy="149.3" r="1.5" fill="#CC0A0A"/>
<circle cx="393.3" cy="97.1" r="1.5" fill="#CC0A0A"/>
<circle cx="395.2" cy="139.2" r="1.5" fill="#CC0A0A"/>
<circle cx="394.2" cy="133.1" r="1.5" fill="#CC0A0A"/>
<circle cx="393.8" cy="97.8" r="1.5" fill="#CC0A0A"/>
<circle cx="395.4" cy="131.3" r="1.5" fill="#CC0A0A"/>
<circle cx="394.2" cy="158.3" r="1.5" fill="#CC0A0A"/>
<circle cx="394.7" cy="135.8" r="1.5" fill="#CC0A0A"/>
<circle cx="394.5" cy="154.8" r="1.5" fill="#CC0A0A"/>
<circle cx="393.5" cy="161.4" r="1.5" fill="#CC0A0A"/>
<circle cx="393.6" cy="146.7" r="1.5" fill="#CC0A0A"/>
<circle cx="393.7" cy="93.5" r="1.5" fill="#CC0A0A"/>
<circle cx="395.5" cy="150.9" r="1.5" fill="#CC0A0A"/>
<circle cx="393.8" cy="115.1" r="1.5" fill="#CC0A0A"/>
<circle cx="394.6" cy="107.0" r="1.5" fill="#CC0A0A"/>
<circle cx="394.9" cy="143.5" r="1.5" fill="#CC0A0A"/>
<circle cx="393.9" cy="152.6" r="1.5" fill="#CC0A0A"/>
<circle cx="394.2" cy="102.5" r="1.5" fill="#CC0A0A"/>
<circle cx="393.5" cy="100.5" r="1.5" fill="#CC0A0A"/>
<circle cx="393.3" cy="158.3" r="1.5" fill="#CC0A0A"/>
<circle cx="394.5" cy="115.2" r="1.5" fill="#CC0A0A"/>
<circle cx="393.3" cy="162.7" r="1.5" fill="#CC0A0A"/>
<circle cx="394.3" cy="107.5" r="1.5" fill="#CC0A0A"/>
<circle cx="393.2" cy="103.0" r="1.5" fill="#CC0A0A"/>
<circle cx="393.5" cy="128.2" r="1.5" fill="#CC0A0A"/>
<circle cx="394.7" cy="116.9" r="1.5" fill="#CC0A0A"/>
<circle cx="393.7" cy="126.3" r="1.5" fill="#CC0A0A"/>
<circle cx="393.4" cy="95.4" r="1.5" fill="#CC0A0A"/>
<circle cx="395.7" cy="161.3" r="1.5" fill="#CC0A0A"/>
<circle cx="393.4" cy="160.2" r="1.5" fill="#CC0A0A"/>
<circle cx="394.9" cy="138.3" r="1.5" fill="#CC0A0A"/>
<circle cx="394.8" cy="101.0" r="1.5" fill="#CC0A0A"/>
<circle cx="395.5" cy="161.1" r="1.5" fill="#CC0A0A"/>
<circle cx="393.4" cy="105.6" r="1.5" fill="#CC0A0A"/>
<circle cx="393.8" cy="113.9" r="1.5" fill="#CC0A0A"/>
<circle cx="393.1" cy="149.5" r="1.5" fill="#CC0A0A"/>
<circle cx="428.7" cy="184.6" r="1.5" fill="#CC0A0A"/>
<circle cx="431.6" cy="185.3" r="1.5" fill="#CC0A0A"/>
<circle cx="416.4" cy="188.2" r="1.5" fill="#CC0A0A"/>
<circle cx="418.6" cy="177.2" r="1.5" fill="#CC0A0A"/>
<circle cx="417.5" cy="189.2" r="1.5" fill="#CC0A0A"/>
<circle cx="420.4" cy="189.3" r="1.5" fill="#CC0A0A"/>
<circle cx="421.9" cy="183.0" r="1.5" fill="#CC0A0A"/>
<circle cx="426.5" cy="188.6" r="1.5" fill="#CC0A0A"/>
<circle cx="416.1" cy="185.0" r="1.5" fill="#CC0A0A"/>
<circle cx="427.2" cy="185.6" r="1.5" fill="#CC0A0A"/>
<circle cx="424.9" cy="177.9" r="1.5" fill="#CC0A0A"/>
<circle cx="416.2" cy="187.7" r="1.5" fill="#CC0A0A"/>
<circle cx="423.3" cy="184.3" r="1.5" fill="#CC0A0A"/>
<circle cx="431.5" cy="184.0" r="1.5" fill="#CC0A0A"/>
<circle cx="426.7" cy="185.9" r="1.5" fill="#CC0A0A"/>
<circle cx="429.2" cy="179.3" r="1.5" fill="#CC0A0A"/>
<circle cx="419.2" cy="189.1" r="1.5" fill="#CC0A0A"/>
<circle cx="418.5" cy="186.7" r="1.5" fill="#CC0A0A"/>
<circle cx="431.3" cy="187.7" r="1.5" fill="#CC0A0A"/>
<circle cx="426.0" cy="182.7" r="1.5" fill="#CC0A0A"/>
<circle cx="432.7" cy="189.0" r="1.5" fill="#CC0A0A"/>
<circle cx="428.9" cy="187.0" r="1.5" fill="#CC0A0A"/>
<circle cx="399.6" cy="149.0" r="1.5" fill="#CC0A0A"/>
<circle cx="404.1" cy="151.0" r="1.5" fill="#CC0A0A"/>
<circle cx="410.5" cy="164.1" r="1.5" fill="#CC0A0A"/>
<circle cx="417.8" cy="167.5" r="1.5" fill="#CC0A0A"/>
<circle cx="439.5" cy="165.6" r="1.5" fill="#CC0A0A"/>
<circle cx="432.1" cy="174.3" r="1.5" fill="#CC0A0A"/>
<circle cx="404.1" cy="180.3" r="1.5" fill="#CC0A0A"/>
<circle cx="411.1" cy="183.5" r="1.5" fill="#CC0A0A"/>
<circle cx="407.9" cy="187.3" r="1.5" fill="#CC0A0A"/>
<circle cx="434.6" cy="184.7" r="1.5" fill="#CC0A0A"/>
<circle cx="416.0" cy="181.0" r="1.5" fill="#CC0A0A"/>
<circle cx="419.0" cy="185.0" r="1.5" fill="#CC0A0A"/>
<circle cx="422.0" cy="183.0" r="1.5" fill="#CC0A0A"/>
<circle cx="425.0" cy="180.0" r="1.5" fill="#CC0A0A"/>
<circle cx="427.0" cy="186.0" r="1.5" fill="#CC0A0A"/>
<circle cx="429.0" cy="182.0" r="1.5" fill="#CC0A0A"/>
<circle cx="421.0" cy="188.0" r="1.5" fill="#CC0A0A"/>
<circle cx="417.0" cy="188.0" r="1.5" fill="#CC0A0A"/>
<circle cx="424.0" cy="187.0" r="1.5" fill="#CC0A0A"/>
<circle cx="430.0" cy="187.5" r="1.5" fill="#CC0A0A"/>
<circle cx="428.0" cy="178.0" r="1.5" fill="#CC0A0A"/>
<circle cx="426.0" cy="184.0" r="1.5" fill="#CC0A0A"/>
<circle cx="413.0" cy="187.0" r="1.5" fill="#CC0A0A"/>
<circle cx="399.0" cy="162.5" r="1.5" fill="#CC0A0A"/>
<circle cx="397.1" cy="26.5" r="1.5" fill="#CC0A0A"/>
<circle cx="395.5" cy="54.3" r="1.5" fill="#CC0A0A"/>
<circle cx="399.8" cy="57.9" r="1.5" fill="#CC0A0A"/>
<circle cx="394.9" cy="85.0" r="1.5" fill="#CC0A0A"/>
<circle cx="449.4" cy="79.0" r="1.5" fill="#CC0A0A"/>
<circle cx="396.0" cy="92.0" r="1.5" fill="#CC0A0A"/>
<circle cx="398.0" cy="96.0" r="1.5" fill="#CC0A0A"/>
<circle cx="394.0" cy="100.0" r="1.5" fill="#CC0A0A"/>
<circle cx="399.0" cy="104.0" r="1.5" fill="#CC0A0A"/>
<circle cx="397.0" cy="112.0" r="1.5" fill="#CC0A0A"/>
<circle cx="400.0" cy="118.0" r="1.5" fill="#CC0A0A"/>
<text x="374.70" y="40.72" font-size="5.9" fill="#4A6A9C" text-anchor="middle" stroke="#4A6A9C" stroke-width="0.05">GPX4</text>
<text x="391.30" y="51.22" font-size="5.9" fill="#B83434" text-anchor="middle" stroke="#B83434" stroke-width="0.05">ARGLU1</text>
<text x="403.80" y="65.72" font-size="5.9" fill="#B83434" text-anchor="middle" stroke="#B83434" stroke-width="0.05">UBA52</text>
<text x="369.30" y="74.42" font-size="5.9" fill="#4A6A9C" text-anchor="middle" stroke="#4A6A9C" stroke-width="0.05">PLEKHA3</text>
<text x="392.00" y="78.52" font-size="5.9" fill="#B83434" text-anchor="middle" stroke="#B83434" stroke-width="0.05">FBXO3</text>
<text x="404.50" y="78.52" font-size="5.9" fill="#B83434" text-anchor="middle" stroke="#B83434" stroke-width="0.05">ZBTB16</text>
<text x="440.80" y="81.42" font-size="5.9" fill="#B83434" text-anchor="middle" stroke="#B83434" stroke-width="0.05">EREG</text>
<text x="360.80" y="84.72" font-size="5.9" fill="#4A6A9C" text-anchor="middle" stroke="#4A6A9C" stroke-width="0.05">MED22</text>
<text x="378.00" y="87.82" font-size="5.9" fill="#4A6A9C" text-anchor="middle" stroke="#4A6A9C" stroke-width="0.05">UBC</text>
<text x="388.00" y="87.82" font-size="5.9" fill="#B83434" text-anchor="middle" stroke="#B83434" stroke-width="0.05">MSC</text>
<text x="406.50" y="89.82" font-size="5.9" fill="#B83434" text-anchor="middle" stroke="#B83434" stroke-width="0.05">COL1A1</text>
<text x="347.50" y="94.02" font-size="5.9" fill="#4A6A9C" text-anchor="middle" stroke="#4A6A9C" stroke-width="0.05">NUP62</text>
<text x="364.00" y="93.62" font-size="5.9" fill="#4A6A9C" text-anchor="middle" stroke="#4A6A9C" stroke-width="0.05">SLC25A</text>
<text x="384.00" y="94.02" font-size="5.9" fill="#B83434" text-anchor="middle" stroke="#B83434" stroke-width="0.05">MAST2</text>
<text x="398.00" y="94.02" font-size="5.9" fill="#B83434" text-anchor="middle" stroke="#B83434" stroke-width="0.05">13</text>
<text x="411.20" y="99.02" font-size="5.9" fill="#B83434" text-anchor="middle" stroke="#B83434" stroke-width="0.05">FUS</text>
<text x="377.30" y="99.42" font-size="5.9" fill="#4A6A9C" text-anchor="middle" stroke="#4A6A9C" stroke-width="0.05">RBMX</text>
<text x="390.00" y="99.42" font-size="5.9" fill="#B83434" text-anchor="middle" stroke="#B83434" stroke-width="0.05">ZNF</text>
<text x="359.80" y="104.12" font-size="5.9" fill="#4A6A9C" text-anchor="middle" stroke="#4A6A9C" stroke-width="0.05">CHL1</text>
<text x="384.30" y="105.62" font-size="5.9" fill="#B83434" text-anchor="middle" stroke="#B83434" stroke-width="0.05">MAST1</text>
<text x="405.80" y="104.12" font-size="5.9" fill="#B83434" text-anchor="middle" stroke="#B83434" stroke-width="0.05">SAFB2</text>
<text x="418.40" y="109.32" font-size="5.9" fill="#B83434" text-anchor="middle" stroke="#B83434" stroke-width="0.05">LUC7L3</text>
<text x="349.00" y="113.32" font-size="5.9" fill="#4A6A9C" text-anchor="middle" stroke="#4A6A9C" stroke-width="0.05">MRPL9</text>
<text x="366.00" y="113.32" font-size="5.9" fill="#4A6A9C" text-anchor="middle" stroke="#4A6A9C" stroke-width="0.05">POE</text>
<text x="378.00" y="110.12" font-size="5.9" fill="#4A6A9C" text-anchor="middle" stroke="#4A6A9C" stroke-width="0.05">MBS</text>
<text x="385.00" y="114.12" font-size="5.9" fill="#4A6A9C" text-anchor="middle" stroke="#4A6A9C" stroke-width="0.05">KPSB</text>
<text x="406.50" y="114.12" font-size="5.9" fill="#B83434" text-anchor="middle" stroke="#B83434" stroke-width="0.05">LRMDA</text>
<text x="360.00" y="122.62" font-size="5.9" fill="#4A6A9C" text-anchor="middle" stroke="#4A6A9C" stroke-width="0.05">BAD</text>
<text x="384.50" y="122.62" font-size="5.9" fill="#B83434" text-anchor="middle" stroke="#B83434" stroke-width="0.05">PBX</text>
<text x="410.00" y="123.42" font-size="5.9" fill="#B83434" text-anchor="middle" stroke="#B83434" stroke-width="0.05">PDLIM7</text>
<text x="365.50" y="128.82" font-size="5.9" fill="#4A6A9C" text-anchor="middle" stroke="#4A6A9C" stroke-width="0.05">RPS19</text>
<text x="359.00" y="137.82" font-size="5.9" fill="#4A6A9C" text-anchor="middle" stroke="#4A6A9C" stroke-width="0.05">GPX2</text>
<line x1="399" y1="86" x2="403" y2="89" stroke="#B83434" stroke-width="0.4"/>
<line x1="404" y1="101" x2="399" y2="104" stroke="#B83434" stroke-width="0.4"/>
<line x1="409" y1="109" x2="400" y2="113" stroke="#B83434" stroke-width="0.4"/>
<line x1="365" y1="120.5" x2="378" y2="122" stroke="#4A6A9C" stroke-width="0.4"/>
<line x1="377" y1="126" x2="380" y2="124" stroke="#4A6A9C" stroke-width="0.4"/>
<line x1="379.6" y1="18.5" x2="379.6" y2="204.0" stroke="#222" stroke-width="0.9" stroke-dasharray="2.6,2"/>
<line x1="393.1" y1="18.5" x2="393.1" y2="204.0" stroke="#222" stroke-width="0.9" stroke-dasharray="2.6,2"/>
<line x1="317.0" y1="189.7" x2="455.0" y2="189.7" stroke="#222" stroke-width="0.9" stroke-dasharray="2.6,2"/>
<rect x="317.0" y="18.5" width="138.0" height="185.5" fill="none" stroke="#333" stroke-width="0.8"/>
<line x1="312.0" y1="197.2" x2="317.0" y2="197.2" stroke="#333" stroke-width="0.8"/>
<text x="309.60" y="200.30" font-size="8.6" fill="#222" text-anchor="end" stroke="#222" stroke-width="0.14">0</text>
<line x1="312.0" y1="159.0" x2="317.0" y2="159.0" stroke="#333" stroke-width="0.8"/>
<text x="309.60" y="162.10" font-size="8.6" fill="#222" text-anchor="end" stroke="#222" stroke-width="0.14">10</text>
<line x1="312.0" y1="120.8" x2="317.0" y2="120.8" stroke="#333" stroke-width="0.8"/>
<text x="309.60" y="123.90" font-size="8.6" fill="#222" text-anchor="end" stroke="#222" stroke-width="0.14">20</text>
<line x1="312.0" y1="82.6" x2="317.0" y2="82.6" stroke="#333" stroke-width="0.8"/>
<text x="309.60" y="85.70" font-size="8.6" fill="#222" text-anchor="end" stroke="#222" stroke-width="0.14">30</text>
<line x1="312.0" y1="44.4" x2="317.0" y2="44.4" stroke="#333" stroke-width="0.8"/>
<text x="309.60" y="47.50" font-size="8.6" fill="#222" text-anchor="end" stroke="#222" stroke-width="0.14">40</text>
<line x1="318.8" y1="204.0" x2="318.8" y2="208.5" stroke="#333" stroke-width="0.8"/>
<text x="318.80" y="219.30" font-size="8.6" fill="#222" text-anchor="middle" stroke="#222" stroke-width="0.14">−15</text>
<line x1="341.3" y1="204.0" x2="341.3" y2="208.5" stroke="#333" stroke-width="0.8"/>
<text x="341.30" y="219.30" font-size="8.6" fill="#222" text-anchor="middle" stroke="#222" stroke-width="0.14">−10</text>
<line x1="363.8" y1="204.0" x2="363.8" y2="208.5" stroke="#333" stroke-width="0.8"/>
<text x="363.80" y="219.30" font-size="8.6" fill="#222" text-anchor="middle" stroke="#222" stroke-width="0.14">−5</text>
<line x1="386.3" y1="204.0" x2="386.3" y2="208.5" stroke="#333" stroke-width="0.8"/>
<text x="386.30" y="219.30" font-size="8.6" fill="#222" text-anchor="middle" stroke="#222" stroke-width="0.14">0</text>
<line x1="408.8" y1="204.0" x2="408.8" y2="208.5" stroke="#333" stroke-width="0.8"/>
<text x="408.80" y="219.30" font-size="8.6" fill="#222" text-anchor="middle" stroke="#222" stroke-width="0.14">5</text>
<line x1="431.3" y1="204.0" x2="431.3" y2="208.5" stroke="#333" stroke-width="0.8"/>
<text x="431.30" y="219.30" font-size="8.6" fill="#222" text-anchor="middle" stroke="#222" stroke-width="0.14">10</text>
<line x1="453.8" y1="204.0" x2="453.8" y2="208.5" stroke="#333" stroke-width="0.8"/>
<text x="453.80" y="219.30" font-size="8.6" fill="#222" text-anchor="middle" stroke="#222" stroke-width="0.14">15</text>
<text x="386.00" y="232.44" font-size="11.5" fill="#111" text-anchor="middle" stroke="#111" stroke-width="0.08">log2FoldChange</text>
<text x="295.94" y="115.40" font-size="11.5" fill="#111" text-anchor="middle" transform="rotate(-90.00 295.94 115.40)" stroke="#111" stroke-width="0.08">−log10(Adjust p−value)</text>
<text x="468.80" y="95.70" font-size="11.3" fill="#111" text-anchor="start" stroke="#111" stroke-width="0.08">Group</text>
<circle cx="474.3" cy="107.3" r="1.6" fill="#2B5C9A"/>
<text x="485.20" y="110.65" font-size="9.3" fill="#111" text-anchor="start" stroke="#111" stroke-width="0.14">downregulated</text>
<circle cx="474.3" cy="119.7" r="1.6" fill="#B8B8B8"/>
<text x="485.20" y="123.05" font-size="9.3" fill="#111" text-anchor="start" stroke="#111" stroke-width="0.14">not significant</text>
<circle cx="474.3" cy="132.1" r="1.6" fill="#CC0A0A"/>
<text x="485.20" y="135.45" font-size="9.3" fill="#111" text-anchor="start" stroke="#111" stroke-width="0.14">upregulated</text>
<circle cx="348.2" cy="358.2" r="72.2" fill="#FF5661"/>
<circle cx="421.5" cy="358.2" r="72.2" fill="#8FDDF4"/>
<clipPath id="vc"><circle cx="348.2" cy="358.2" r="72.2"/></clipPath>
<circle cx="421.5" cy="358.2" r="72.2" fill="#91AAC3" clip-path="url(#vc)"/>
<circle cx="348.2" cy="358.2" r="72.2" fill="none" stroke="#444" stroke-width="0.6"/>
<circle cx="421.5" cy="358.2" r="72.2" fill="none" stroke="#444" stroke-width="0.6"/>
<text x="385.30" y="319.58" font-size="10.5" fill="#111" text-anchor="middle" stroke="#111" stroke-width="0.08">48</text>
<text x="385.30" y="329.34" font-size="6.5" fill="#222" text-anchor="middle" stroke="#222" stroke-width="0.20">COL1A1</text>
<text x="385.30" y="337.31" font-size="6.5" fill="#222" text-anchor="middle" stroke="#222" stroke-width="0.20">KERA</text>
<text x="385.30" y="345.28" font-size="6.5" fill="#222" text-anchor="middle" stroke="#222" stroke-width="0.20">DLC1</text>
<text x="385.30" y="353.25" font-size="6.5" fill="#222" text-anchor="middle" stroke="#222" stroke-width="0.20">MYH7B</text>
<text x="385.30" y="361.22" font-size="6.5" fill="#222" text-anchor="middle" stroke="#222" stroke-width="0.20">AEBP1</text>
<text x="385.30" y="369.19" font-size="6.5" fill="#222" text-anchor="middle" stroke="#222" stroke-width="0.20">NFIX</text>
<text x="385.30" y="377.16" font-size="6.5" fill="#222" text-anchor="middle" stroke="#222" stroke-width="0.20">HIF3A</text>
<text x="385.30" y="385.13" font-size="6.5" fill="#222" text-anchor="middle" stroke="#222" stroke-width="0.20">SSC5D</text>
<text x="385.30" y="393.10" font-size="6.5" fill="#222" text-anchor="middle" stroke="#222" stroke-width="0.20">RYR3</text>
<text x="385.30" y="401.07" font-size="6.5" fill="#222" text-anchor="middle" stroke="#222" stroke-width="0.20">CAMTA2</text>
<text x="385.30" y="409.04" font-size="6.5" fill="#222" text-anchor="middle" stroke="#222" stroke-width="0.20">......</text>
<text x="313.30" y="360.28" font-size="10.5" fill="#111" text-anchor="middle" stroke="#111" stroke-width="0.08">648</text>
<text x="457.90" y="360.28" font-size="10.5" fill="#111" text-anchor="middle" stroke="#111" stroke-width="0.08">1196</text>
<text x="341.20" y="445.04" font-size="9.0" fill="#444" text-anchor="middle" stroke="#444" stroke-width="0.14">45vs40 new</text>
<text x="433.40" y="445.74" font-size="9.0" fill="#444" text-anchor="middle" stroke="#444" stroke-width="0.14">cluster 4 genes</text>
<path d="M131.59,433.34 A73.7,73.7 0 0 1 115.04,433.61 L115.34,430.43 A70.5,70.5 0 0 0 131.18,430.16 Z" fill="#F39A1E"/>
<path d="M111.46,433.18 A73.7,73.7 0 0 1 100.68,430.77 L101.61,427.71 A70.5,70.5 0 0 0 111.92,430.01 Z" fill="#F5B09A"/>
<path d="M97.74,429.81 A73.7,73.7 0 0 1 80.67,421.21 L82.47,418.56 A70.5,70.5 0 0 0 98.80,426.79 Z" fill="#3DD63D"/>
<path d="M79.20,420.18 A73.7,73.7 0 0 1 72.03,414.33 L74.20,411.98 A70.5,70.5 0 0 0 81.06,417.57 Z" fill="#C8102E"/>
<path d="M70.63,413.00 A73.7,73.7 0 0 1 62.17,403.15 L64.78,401.29 A70.5,70.5 0 0 0 72.86,410.71 Z" fill="#8FD8C4"/>
<path d="M60.29,400.39 A73.7,73.7 0 0 1 57.89,396.43 L60.68,394.86 A70.5,70.5 0 0 0 62.97,398.65 Z" fill="#4E7A12"/>
<path d="M56.32,393.48 A73.7,73.7 0 0 1 53.20,386.42 L56.19,385.29 A70.5,70.5 0 0 0 59.17,392.04 Z" fill="#C41818"/>
<path d="M51.97,382.90 A73.7,73.7 0 0 1 51.18,380.32 L54.26,379.45 A70.5,70.5 0 0 0 55.01,381.92 Z" fill="#40D8D8"/>
<path d="M50.41,377.33 A73.7,73.7 0 0 1 49.85,374.82 L52.99,374.18 A70.5,70.5 0 0 0 53.52,376.59 Z" fill="#9CC0F0"/>
<path d="M49.25,371.40 A73.7,73.7 0 0 1 48.93,369.10 L52.11,368.72 A70.5,70.5 0 0 0 52.41,370.91 Z" fill="#0E5A0E"/>
<path d="M48.56,365.13 A73.7,73.7 0 0 1 48.64,354.34 L51.83,354.60 A70.5,70.5 0 0 0 51.75,364.92 Z" fill="#A8F080"/>
<path d="M49.05,350.50 A73.7,73.7 0 0 1 49.80,345.93 L52.94,346.56 A70.5,70.5 0 0 0 52.22,350.93 Z" fill="#8A80F0"/>
<path d="M50.62,342.30 A73.7,73.7 0 0 1 52.37,336.38 L55.40,337.41 A70.5,70.5 0 0 0 53.72,343.08 Z" fill="#1A1AE8"/>
<path d="M54.01,332.05 A73.7,73.7 0 0 1 60.22,320.22 L62.91,321.96 A70.5,70.5 0 0 0 56.97,333.27 Z" fill="#3A20C0"/>
<path d="M62.10,317.45 A73.7,73.7 0 0 1 64.42,314.37 L66.93,316.36 A70.5,70.5 0 0 0 64.70,319.31 Z" fill="#2E6ED0"/>
<path d="M67.33,310.94 A73.7,73.7 0 0 1 68.91,309.24 L71.22,311.45 A70.5,70.5 0 0 0 69.71,313.08 Z" fill="#A01818"/>
<path d="M72.03,306.17 A73.7,73.7 0 0 1 74.73,303.79 L76.78,306.24 A70.5,70.5 0 0 0 74.20,308.52 Z" fill="#0A0A0A"/>
<path d="M77.95,301.24 A73.7,73.7 0 0 1 80.89,299.15 L82.68,301.80 A70.5,70.5 0 0 0 79.87,303.80 Z" fill="#60A8E8"/>
<path d="M83.70,297.34 A73.7,73.7 0 0 1 86.82,295.54 L88.35,298.35 A70.5,70.5 0 0 0 85.37,300.07 Z" fill="#4A90E0"/>
<path d="M90.95,293.46 A73.7,73.7 0 0 1 95.93,291.35 L97.06,294.34 A70.5,70.5 0 0 0 92.31,296.36 Z" fill="#9898F0"/>
<path d="M99.57,290.08 A73.7,73.7 0 0 1 103.52,288.93 L104.33,292.03 A70.5,70.5 0 0 0 100.55,293.12 Z" fill="#1E6A80"/>
<path d="M107.78,287.95 A73.7,73.7 0 0 1 111.84,287.27 L112.29,290.44 A70.5,70.5 0 0 0 108.41,291.09 Z" fill="#8A1A08"/>
<path d="M115.42,286.85 A73.7,73.7 0 0 1 117.34,286.70 L117.55,289.90 A70.5,70.5 0 0 0 115.71,290.04 Z" fill="#F4B0B0"/>
<path d="M121.84,286.55 A73.7,73.7 0 0 1 129.29,286.90 L128.98,290.09 A70.5,70.5 0 0 0 121.85,289.75 Z" fill="#A8E030"/>
<path d="M132.10,287.23 A73.7,73.7 0 0 1 135.02,287.69 L134.46,290.84 A70.5,70.5 0 0 0 131.67,290.40 Z" fill="#E01040"/>
<path d="M137.80,288.24 A73.7,73.7 0 0 1 140.55,288.90 L139.75,292.00 A70.5,70.5 0 0 0 137.12,291.37 Z" fill="#30E0C8"/>
<path d="M143.16,289.62 A73.7,73.7 0 0 1 147.67,291.13 L146.56,294.13 A70.5,70.5 0 0 0 142.24,292.69 Z" fill="#B0B8F4"/>
<path d="M158.28,296.04 A73.7,73.7 0 0 1 195.80,360.51 L192.80,360.50 A70.7,70.7 0 0 0 156.81,298.66 Z" fill="#F00000"/>
<path d="M195.71,363.85 A73.7,73.7 0 0 1 144.14,430.58 L143.24,427.71 A70.7,70.7 0 0 0 192.72,363.70 Z" fill="#00E8F0"/>
<path d="M190.62,363.60 A68.6,68.6 0 0 1 190.47,365.82 L189.08,365.71 A67.2,67.2 0 0 0 189.22,363.53 Z" fill="#B0B8F4"/>
<path d="M155.78,300.48 A68.6,68.6 0 0 1 157.53,301.51 L156.81,302.71 A67.2,67.2 0 0 0 155.09,301.70 Z" fill="#B0B8F4"/>
<path d="M190.47,365.82 A68.6,68.6 0 0 1 190.35,367.14 L188.96,367.00 A67.2,67.2 0 0 0 189.08,365.71 Z" fill="#30E0C8"/>
<path d="M157.53,301.51 A68.6,68.6 0 0 1 158.56,302.14 L157.82,303.33 A67.2,67.2 0 0 0 156.81,302.71 Z" fill="#30E0C8"/>
<path d="M190.35,367.14 A68.6,68.6 0 0 1 190.20,368.52 L188.81,368.35 A67.2,67.2 0 0 0 188.96,367.00 Z" fill="#E01040"/>
<path d="M158.56,302.14 A68.6,68.6 0 0 1 159.62,302.82 L158.86,303.99 A67.2,67.2 0 0 0 157.82,303.33 Z" fill="#E01040"/>
<path d="M190.20,368.52 A68.6,68.6 0 0 1 189.69,371.97 L188.31,371.73 A67.2,67.2 0 0 0 188.81,368.35 Z" fill="#A8E030"/>
<path d="M159.62,302.82 A68.6,68.6 0 0 1 162.25,304.63 L161.43,305.76 A67.2,67.2 0 0 0 158.86,303.99 Z" fill="#A8E030"/>
<path d="M189.69,371.97 A68.6,68.6 0 0 1 189.53,372.86 L188.15,372.60 A67.2,67.2 0 0 0 188.31,371.73 Z" fill="#F4B0B0"/>
<path d="M162.25,304.63 A68.6,68.6 0 0 1 162.91,305.11 L162.08,306.24 A67.2,67.2 0 0 0 161.43,305.76 Z" fill="#F4B0B0"/>
<path d="M189.53,372.86 A68.6,68.6 0 0 1 189.15,374.75 L187.78,374.45 A67.2,67.2 0 0 0 188.15,372.60 Z" fill="#8A1A08"/>
<path d="M162.91,305.11 A68.6,68.6 0 0 1 164.31,306.18 L163.45,307.28 A67.2,67.2 0 0 0 162.08,306.24 Z" fill="#8A1A08"/>
<path d="M189.15,374.75 A68.6,68.6 0 0 1 188.72,376.62 L187.36,376.29 A67.2,67.2 0 0 0 187.78,374.45 Z" fill="#1E6A80"/>
<path d="M164.31,306.18 A68.6,68.6 0 0 1 165.68,307.27 L164.79,308.36 A67.2,67.2 0 0 0 163.45,307.28 Z" fill="#1E6A80"/>
<path d="M188.72,376.62 A68.6,68.6 0 0 1 188.07,379.07 L186.72,378.68 A67.2,67.2 0 0 0 187.36,376.29 Z" fill="#9898F0"/>
<path d="M165.68,307.27 A68.6,68.6 0 0 1 167.44,308.77 L166.51,309.82 A67.2,67.2 0 0 0 164.79,308.36 Z" fill="#9898F0"/>
<path d="M188.07,379.07 A68.6,68.6 0 0 1 187.59,380.68 L186.25,380.27 A67.2,67.2 0 0 0 186.72,378.68 Z" fill="#4A90E0"/>
<path d="M167.44,308.77 A68.6,68.6 0 0 1 168.58,309.80 L167.63,310.83 A67.2,67.2 0 0 0 166.51,309.82 Z" fill="#4A90E0"/>
<path d="M187.59,380.68 A68.6,68.6 0 0 1 187.06,382.29 L185.74,381.84 A67.2,67.2 0 0 0 186.25,380.27 Z" fill="#60A8E8"/>
<path d="M168.58,309.80 A68.6,68.6 0 0 1 169.70,310.85 L168.73,311.86 A67.2,67.2 0 0 0 167.63,310.83 Z" fill="#60A8E8"/>
<path d="M187.06,382.29 A68.6,68.6 0 0 1 186.50,383.87 L185.19,383.39 A67.2,67.2 0 0 0 185.74,381.84 Z" fill="#0A0A0A"/>
<path d="M169.70,310.85 A68.6,68.6 0 0 1 170.80,311.93 L169.80,312.92 A67.2,67.2 0 0 0 168.73,311.86 Z" fill="#0A0A0A"/>
<path d="M186.50,383.87 A68.6,68.6 0 0 1 186.12,384.89 L184.82,384.39 A67.2,67.2 0 0 0 185.19,383.39 Z" fill="#A01818"/>
<path d="M170.80,311.93 A68.6,68.6 0 0 1 171.49,312.64 L170.48,313.61 A67.2,67.2 0 0 0 169.80,312.92 Z" fill="#A01818"/>
<path d="M186.12,384.89 A68.6,68.6 0 0 1 185.45,386.57 L184.16,386.03 A67.2,67.2 0 0 0 184.82,384.39 Z" fill="#2E6ED0"/>
<path d="M171.49,312.64 A68.6,68.6 0 0 1 172.62,313.84 L171.59,314.79 A67.2,67.2 0 0 0 170.48,313.61 Z" fill="#2E6ED0"/>
<path d="M185.45,386.57 A68.6,68.6 0 0 1 182.79,392.23 L181.55,391.58 A67.2,67.2 0 0 0 184.16,386.03 Z" fill="#3A20C0"/>
<path d="M172.62,313.84 A68.6,68.6 0 0 1 176.30,318.20 L175.20,319.06 A67.2,67.2 0 0 0 171.59,314.79 Z" fill="#3A20C0"/>
<path d="M182.79,392.23 A68.6,68.6 0 0 1 181.39,394.76 L180.18,394.05 A67.2,67.2 0 0 0 181.55,391.58 Z" fill="#1A1AE8"/>
<path d="M176.30,318.20 A68.6,68.6 0 0 1 177.88,320.31 L176.74,321.13 A67.2,67.2 0 0 0 175.20,319.06 Z" fill="#1A1AE8"/>
<path d="M181.39,394.76 A68.6,68.6 0 0 1 180.27,396.61 L179.08,395.87 A67.2,67.2 0 0 0 180.18,394.05 Z" fill="#8A80F0"/>
<path d="M177.88,320.31 A68.6,68.6 0 0 1 179.00,321.94 L177.84,322.72 A67.2,67.2 0 0 0 176.74,321.13 Z" fill="#8A80F0"/>
<path d="M180.27,396.61 A68.6,68.6 0 0 1 177.13,401.20 L176.01,400.37 A67.2,67.2 0 0 0 179.08,395.87 Z" fill="#A8F080"/>
<path d="M179.00,321.94 A68.6,68.6 0 0 1 181.22,325.45 L180.01,326.16 A67.2,67.2 0 0 0 177.84,322.72 Z" fill="#A8F080"/>
<path d="M177.13,401.20 A68.6,68.6 0 0 1 176.48,402.07 L175.37,401.21 A67.2,67.2 0 0 0 176.01,400.37 Z" fill="#0E5A0E"/>
<path d="M181.22,325.45 A68.6,68.6 0 0 1 181.71,326.30 L180.50,327.00 A67.2,67.2 0 0 0 180.01,326.16 Z" fill="#0E5A0E"/>
<path d="M176.48,402.07 A68.6,68.6 0 0 1 175.74,403.02 L174.64,402.14 A67.2,67.2 0 0 0 175.37,401.21 Z" fill="#9CC0F0"/>
<path d="M181.71,326.30 A68.6,68.6 0 0 1 182.25,327.26 L181.02,327.94 A67.2,67.2 0 0 0 180.50,327.00 Z" fill="#9CC0F0"/>
<path d="M175.74,403.02 A68.6,68.6 0 0 1 174.94,404.00 L173.86,403.10 A67.2,67.2 0 0 0 174.64,402.14 Z" fill="#40D8D8"/>
<path d="M182.25,327.26 A68.6,68.6 0 0 1 182.79,328.28 L181.56,328.93 A67.2,67.2 0 0 0 181.02,327.94 Z" fill="#40D8D8"/>
<path d="M174.94,404.00 A68.6,68.6 0 0 1 172.57,406.72 L171.54,405.77 A67.2,67.2 0 0 0 173.86,403.10 Z" fill="#C41818"/>
<path d="M182.79,328.28 A68.6,68.6 0 0 1 184.26,331.23 L182.99,331.82 A67.2,67.2 0 0 0 181.56,328.93 Z" fill="#C41818"/>
<path d="M172.57,406.72 A68.6,68.6 0 0 1 171.07,408.29 L170.07,407.31 A67.2,67.2 0 0 0 171.54,405.77 Z" fill="#4E7A12"/>
<path d="M184.26,331.23 A68.6,68.6 0 0 1 185.07,333.03 L183.78,333.59 A67.2,67.2 0 0 0 182.99,331.82 Z" fill="#4E7A12"/>
<path d="M171.07,408.29 A68.6,68.6 0 0 1 166.17,412.83 L165.27,411.75 A67.2,67.2 0 0 0 170.07,407.31 Z" fill="#8FD8C4"/>
<path d="M185.07,333.03 A68.6,68.6 0 0 1 186.88,337.68 L185.56,338.14 A67.2,67.2 0 0 0 183.78,333.59 Z" fill="#8FD8C4"/>
<path d="M166.17,412.83 A68.6,68.6 0 0 1 162.76,415.50 L161.93,414.37 A67.2,67.2 0 0 0 165.27,411.75 Z" fill="#C8102E"/>
<path d="M186.88,337.68 A68.6,68.6 0 0 1 188.07,341.45 L186.73,341.84 A67.2,67.2 0 0 0 185.56,338.14 Z" fill="#C8102E"/>
<path d="M162.76,415.50 A68.6,68.6 0 0 1 155.21,420.33 L154.53,419.11 A67.2,67.2 0 0 0 161.93,414.37 Z" fill="#3DD63D"/>
<path d="M188.07,341.45 A68.6,68.6 0 0 1 189.84,349.44 L188.46,349.66 A67.2,67.2 0 0 0 186.73,341.84 Z" fill="#3DD63D"/>
<path d="M155.21,420.33 A68.6,68.6 0 0 1 150.58,422.66 L150.00,421.38 A67.2,67.2 0 0 0 154.53,419.11 Z" fill="#F5B09A"/>
<path d="M189.84,349.44 A68.6,68.6 0 0 1 190.43,354.12 L189.03,354.25 A67.2,67.2 0 0 0 188.46,349.66 Z" fill="#F5B09A"/>
<path d="M150.58,422.66 A68.6,68.6 0 0 1 142.61,425.71 L142.20,424.37 A67.2,67.2 0 0 0 150.00,421.38 Z" fill="#F39A1E"/>
<path d="M190.43,354.12 A68.6,68.6 0 0 1 190.70,360.49 L189.30,360.48 A67.2,67.2 0 0 0 189.03,354.25 Z" fill="#F39A1E"/>
<path d="M122.46,428.75 A68.5,68.5 0 0 1 115.53,428.43 Q122.10,360.25 186.64,354.46 A64.8,64.8 0 0 1 186.90,360.48 Q122.10,360.25 122.46,428.75 Z" fill="#EB0000" fill-opacity="0.5"/>
<path d="M130.92,428.18 A68.5,68.5 0 0 1 122.46,428.75 Q122.10,360.25 149.01,419.20 A64.8,64.8 0 0 1 141.48,422.08 Q122.10,360.25 130.92,428.18 Z" fill="#00D8EA" fill-opacity="0.52"/>
<path d="M107.16,427.10 A68.5,68.5 0 0 1 102.19,425.79 Q122.10,360.25 186.09,350.04 A64.8,64.8 0 0 1 186.64,354.46 Q122.10,360.25 107.16,427.10 Z" fill="#EB0000" fill-opacity="0.5"/>
<path d="M112.21,428.03 A68.5,68.5 0 0 1 107.16,427.10 Q122.10,360.25 153.37,417.00 A64.8,64.8 0 0 1 149.01,419.20 Q122.10,360.25 112.21,428.03 Z" fill="#00D8EA" fill-opacity="0.52"/>
<path d="M91.27,421.42 A68.5,68.5 0 0 1 83.60,416.91 Q122.10,360.25 184.42,342.49 A64.8,64.8 0 0 1 186.09,350.04 Q122.10,360.25 91.27,421.42 Z" fill="#EB0000" fill-opacity="0.5"/>
<path d="M99.46,424.90 A68.5,68.5 0 0 1 91.27,421.42 Q122.10,360.25 160.51,412.44 A64.8,64.8 0 0 1 153.37,417.00 Q122.10,360.25 99.46,424.90 Z" fill="#00D8EA" fill-opacity="0.52"/>
<path d="M78.81,413.33 A68.5,68.5 0 0 1 75.56,410.51 Q122.10,360.25 183.29,338.93 A64.8,64.8 0 0 1 184.42,342.49 Q122.10,360.25 78.81,413.33 Z" fill="#EB0000" fill-opacity="0.5"/>
<path d="M82.22,415.95 A68.5,68.5 0 0 1 78.81,413.33 Q122.10,360.25 163.72,409.91 A64.8,64.8 0 0 1 160.51,412.44 Q122.10,360.25 82.22,415.95 Z" fill="#00D8EA" fill-opacity="0.52"/>
<path d="M69.74,404.41 A68.5,68.5 0 0 1 66.40,400.13 Q122.10,360.25 181.58,334.54 A64.8,64.8 0 0 1 183.29,338.93 Q122.10,360.25 69.74,404.41 Z" fill="#EB0000" fill-opacity="0.5"/>
<path d="M74.26,409.27 A68.5,68.5 0 0 1 69.74,404.41 Q122.10,360.25 168.36,405.63 A64.8,64.8 0 0 1 163.72,409.91 Q122.10,360.25 74.26,409.27 Z" fill="#00D8EA" fill-opacity="0.52"/>
<path d="M63.51,395.73 A68.5,68.5 0 0 1 62.42,393.88 Q122.10,360.25 180.82,332.84 A64.8,64.8 0 0 1 181.58,334.54 Q122.10,360.25 63.51,395.73 Z" fill="#EB0000" fill-opacity="0.5"/>
<path d="M64.65,397.56 A68.5,68.5 0 0 1 63.51,395.73 Q122.10,360.25 169.77,404.14 A64.8,64.8 0 0 1 168.36,405.63 Q122.10,360.25 64.65,397.56 Z" fill="#00D8EA" fill-opacity="0.52"/>
<path d="M59.43,387.89 A68.5,68.5 0 0 1 58.06,384.57 Q122.10,360.25 179.43,330.05 A64.8,64.8 0 0 1 180.82,332.84 Q122.10,360.25 59.43,387.89 Z" fill="#EB0000" fill-opacity="0.5"/>
<path d="M60.96,391.14 A68.5,68.5 0 0 1 59.43,387.89 Q122.10,360.25 172.01,401.57 A64.8,64.8 0 0 1 169.77,404.14 Q122.10,360.25 60.96,391.14 Z" fill="#00D8EA" fill-opacity="0.52"/>
<path d="M56.54,380.11 A68.5,68.5 0 0 1 56.19,378.90 Q122.10,360.25 178.92,329.09 A64.8,64.8 0 0 1 179.43,330.05 Q122.10,360.25 56.54,380.11 Z" fill="#EB0000" fill-opacity="0.5"/>
<path d="M56.92,381.30 A68.5,68.5 0 0 1 56.54,380.11 Q122.10,360.25 172.77,400.65 A64.8,64.8 0 0 1 172.01,401.57 Q122.10,360.25 56.92,381.30 Z" fill="#00D8EA" fill-opacity="0.52"/>
<path d="M55.20,374.96 A68.5,68.5 0 0 1 54.95,373.79 Q122.10,360.25 178.41,328.18 A64.8,64.8 0 0 1 178.92,329.09 Q122.10,360.25 55.20,374.96 Z" fill="#EB0000" fill-opacity="0.5"/>
<path d="M55.46,376.12 A68.5,68.5 0 0 1 55.20,374.96 Q122.10,360.25 173.47,399.75 A64.8,64.8 0 0 1 172.77,400.65 Q122.10,360.25 55.46,376.12 Z" fill="#00D8EA" fill-opacity="0.52"/>
<path d="M54.23,369.55 A68.5,68.5 0 0 1 54.10,368.48 Q122.10,360.25 177.94,327.38 A64.8,64.8 0 0 1 178.41,328.18 Q122.10,360.25 54.23,369.55 Z" fill="#EB0000" fill-opacity="0.5"/>
<path d="M54.39,370.61 A68.5,68.5 0 0 1 54.23,369.55 Q122.10,360.25 174.09,398.93 A64.8,64.8 0 0 1 173.47,399.75 Q122.10,360.25 54.39,370.61 Z" fill="#00D8EA" fill-opacity="0.52"/>
<path d="M53.61,359.27 A68.5,68.5 0 0 1 53.82,354.76 Q122.10,360.25 175.85,324.06 A64.8,64.8 0 0 1 177.94,327.38 Q122.10,360.25 53.61,359.27 Z" fill="#EB0000" fill-opacity="0.5"/>
<path d="M53.75,364.79 A68.5,68.5 0 0 1 53.61,359.27 Q122.10,360.25 177.05,394.60 A64.8,64.8 0 0 1 174.09,398.93 Q122.10,360.25 53.75,364.79 Z" fill="#00D8EA" fill-opacity="0.52"/>
<path d="M54.52,349.06 A68.5,68.5 0 0 1 54.90,346.94 Q122.10,360.25 174.79,322.53 A64.8,64.8 0 0 1 175.85,324.06 Q122.10,360.25 54.52,349.06 Z" fill="#EB0000" fill-opacity="0.5"/>
<path d="M54.20,351.19 A68.5,68.5 0 0 1 54.52,349.06 Q122.10,360.25 178.11,392.84 A64.8,64.8 0 0 1 177.05,394.60 Q122.10,360.25 54.20,351.19 Z" fill="#00D8EA" fill-opacity="0.52"/>
<path d="M56.42,340.79 A68.5,68.5 0 0 1 57.29,338.06 Q122.10,360.25 173.30,320.53 A64.8,64.8 0 0 1 174.79,322.53 Q122.10,360.25 56.42,340.79 Z" fill="#EB0000" fill-opacity="0.5"/>
<path d="M55.66,343.56 A68.5,68.5 0 0 1 56.42,340.79 Q122.10,360.25 179.43,390.46 A64.8,64.8 0 0 1 178.11,392.84 Q122.10,360.25 55.66,343.56 Z" fill="#00D8EA" fill-opacity="0.52"/>
<path d="M61.45,328.41 A68.5,68.5 0 0 1 64.59,323.04 Q122.10,360.25 169.82,316.41 A64.8,64.8 0 0 1 173.30,320.53 Q122.10,360.25 61.45,328.41 Z" fill="#EB0000" fill-opacity="0.5"/>
<path d="M58.81,334.04 A68.5,68.5 0 0 1 61.45,328.41 Q122.10,360.25 181.94,385.11 A64.8,64.8 0 0 1 179.43,390.46 Q122.10,360.25 58.81,334.04 Z" fill="#00D8EA" fill-opacity="0.52"/>
<path d="M67.39,319.03 A68.5,68.5 0 0 1 68.49,317.61 Q122.10,360.25 168.75,315.28 A64.8,64.8 0 0 1 169.82,316.41 Q122.10,360.25 67.39,319.03 Z" fill="#EB0000" fill-opacity="0.5"/>
<path d="M66.33,320.47 A68.5,68.5 0 0 1 67.39,319.03 Q122.10,360.25 182.58,383.52 A64.8,64.8 0 0 1 181.94,385.11 Q122.10,360.25 66.33,320.47 Z" fill="#00D8EA" fill-opacity="0.52"/>
<path d="M71.92,313.62 A68.5,68.5 0 0 1 72.66,312.84 Q122.10,360.25 168.10,314.61 A64.8,64.8 0 0 1 168.75,315.28 Q122.10,360.25 71.92,313.62 Z" fill="#EB0000" fill-opacity="0.5"/>
<path d="M71.19,314.41 A68.5,68.5 0 0 1 71.92,313.62 Q122.10,360.25 182.94,382.57 A64.8,64.8 0 0 1 182.58,383.52 Q122.10,360.25 71.19,314.41 Z" fill="#00D8EA" fill-opacity="0.52"/>
<path d="M76.80,308.87 A68.5,68.5 0 0 1 78.07,307.78 Q122.10,360.25 167.06,313.59 A64.8,64.8 0 0 1 168.10,314.61 Q122.10,360.25 76.80,308.87 Z" fill="#EB0000" fill-opacity="0.5"/>
<path d="M75.56,309.99 A68.5,68.5 0 0 1 76.80,308.87 Q122.10,360.25 183.47,381.07 A64.8,64.8 0 0 1 182.94,382.57 Q122.10,360.25 75.56,309.99 Z" fill="#00D8EA" fill-opacity="0.52"/>
<path d="M82.42,304.41 A68.5,68.5 0 0 1 83.80,303.46 Q122.10,360.25 166.01,312.59 A64.8,64.8 0 0 1 167.06,313.59 Q122.10,360.25 82.42,304.41 Z" fill="#EB0000" fill-opacity="0.5"/>
<path d="M81.07,305.40 A68.5,68.5 0 0 1 82.42,304.41 Q122.10,360.25 183.96,379.55 A64.8,64.8 0 0 1 183.47,381.07 Q122.10,360.25 81.07,305.40 Z" fill="#00D8EA" fill-opacity="0.52"/>
<path d="M87.85,300.93 A68.5,68.5 0 0 1 89.31,300.11 Q122.10,360.25 164.93,311.62 A64.8,64.8 0 0 1 166.01,312.59 Q122.10,360.25 87.85,300.93 Z" fill="#EB0000" fill-opacity="0.5"/>
<path d="M86.41,301.78 A68.5,68.5 0 0 1 87.85,300.93 Q122.10,360.25 184.41,378.03 A64.8,64.8 0 0 1 183.96,379.55 Q122.10,360.25 86.41,301.78 Z" fill="#00D8EA" fill-opacity="0.52"/>
<path d="M95.45,297.15 A68.5,68.5 0 0 1 97.78,296.21 Q122.10,360.25 163.27,310.21 A64.8,64.8 0 0 1 164.93,311.62 Q122.10,360.25 95.45,297.15 Z" fill="#EB0000" fill-opacity="0.5"/>
<path d="M93.15,298.17 A68.5,68.5 0 0 1 95.45,297.15 Q122.10,360.25 185.03,375.72 A64.8,64.8 0 0 1 184.41,378.03 Q122.10,360.25 93.15,298.17 Z" fill="#00D8EA" fill-opacity="0.52"/>
<path d="M102.99,294.47 A68.5,68.5 0 0 1 104.83,293.96 Q122.10,360.25 161.97,309.17 A64.8,64.8 0 0 1 163.27,310.21 Q122.10,360.25 102.99,294.47 Z" fill="#EB0000" fill-opacity="0.5"/>
<path d="M101.16,295.03 A68.5,68.5 0 0 1 102.99,294.47 Q122.10,360.25 185.44,373.95 A64.8,64.8 0 0 1 185.03,375.72 Q122.10,360.25 101.16,295.03 Z" fill="#00D8EA" fill-opacity="0.52"/>
<path d="M110.68,292.71 A68.5,68.5 0 0 1 112.57,292.42 Q122.10,360.25 160.65,308.17 A64.8,64.8 0 0 1 161.97,309.17 Q122.10,360.25 110.68,292.71 Z" fill="#EB0000" fill-opacity="0.5"/>
<path d="M108.79,293.05 A68.5,68.5 0 0 1 110.68,292.71 Q122.10,360.25 185.80,372.16 A64.8,64.8 0 0 1 185.44,373.95 Q122.10,360.25 108.79,293.05 Z" fill="#00D8EA" fill-opacity="0.52"/>
<path d="M116.79,291.96 A68.5,68.5 0 0 1 117.68,291.89 Q122.10,360.25 160.02,307.71 A64.8,64.8 0 0 1 160.65,308.17 Q122.10,360.25 116.79,291.96 Z" fill="#EB0000" fill-opacity="0.5"/>
<path d="M115.89,292.03 A68.5,68.5 0 0 1 116.79,291.96 Q122.10,360.25 185.95,371.32 A64.8,64.8 0 0 1 185.80,372.16 Q122.10,360.25 115.89,292.03 Z" fill="#00D8EA" fill-opacity="0.52"/>
<path d="M125.33,291.83 A68.5,68.5 0 0 1 128.78,292.08 Q122.10,360.25 157.55,306.00 A64.8,64.8 0 0 1 160.02,307.71 Q122.10,360.25 125.33,291.83 Z" fill="#EB0000" fill-opacity="0.5"/>
<path d="M121.86,291.75 A68.5,68.5 0 0 1 125.33,291.83 Q122.10,360.25 186.43,368.06 A64.8,64.8 0 0 1 185.95,371.32 Q122.10,360.25 121.86,291.75 Z" fill="#00D8EA" fill-opacity="0.52"/>
<path d="M132.76,292.58 A68.5,68.5 0 0 1 134.11,292.81 Q122.10,360.25 156.54,305.36 A64.8,64.8 0 0 1 157.55,306.00 Q122.10,360.25 132.76,292.58 Z" fill="#EB0000" fill-opacity="0.5"/>
<path d="M131.40,292.38 A68.5,68.5 0 0 1 132.76,292.58 Q122.10,360.25 186.57,366.76 A64.8,64.8 0 0 1 186.43,368.06 Q122.10,360.25 131.40,292.38 Z" fill="#00D8EA" fill-opacity="0.52"/>
<path d="M137.97,293.61 A68.5,68.5 0 0 1 139.25,293.93 Q122.10,360.25 155.57,304.76 A64.8,64.8 0 0 1 156.54,305.36 Q122.10,360.25 137.97,293.61 Z" fill="#EB0000" fill-opacity="0.5"/>
<path d="M136.69,293.32 A68.5,68.5 0 0 1 137.97,293.61 Q122.10,360.25 186.69,365.51 A64.8,64.8 0 0 1 186.57,366.76 Q122.10,360.25 136.69,293.32 Z" fill="#00D8EA" fill-opacity="0.52"/>
<path d="M143.78,295.27 A68.5,68.5 0 0 1 145.87,296.00 Q122.10,360.25 153.91,303.80 A64.8,64.8 0 0 1 155.57,304.76 Q122.10,360.25 143.78,295.27 Z" fill="#EB0000" fill-opacity="0.5"/>
<path d="M141.67,294.60 A68.5,68.5 0 0 1 143.78,295.27 Q122.10,360.25 186.82,363.42 A64.8,64.8 0 0 1 186.69,365.51 Q122.10,360.25 141.67,294.60 Z" fill="#00D8EA" fill-opacity="0.52"/>
<text x="123.40" y="438.54" font-size="5.2" fill="#333" text-anchor="start" transform="rotate(89.05 123.40 438.54)" stroke="#333" stroke-width="0.08" dominant-baseline="central">chr 1</text>
<text x="105.02" y="436.66" font-size="5.2" fill="#333" text-anchor="end" transform="rotate(282.60 105.02 436.66)" stroke="#333" stroke-width="0.08" dominant-baseline="central">chr 2</text>
<text x="86.86" y="430.17" font-size="5.2" fill="#333" text-anchor="end" transform="rotate(296.75 86.86 430.17)" stroke="#333" stroke-width="0.08" dominant-baseline="central">chr 3</text>
<text x="72.61" y="420.93" font-size="5.2" fill="#333" text-anchor="end" transform="rotate(309.20 72.61 420.93)" stroke="#333" stroke-width="0.08" dominant-baseline="central">chr 4</text>
<text x="62.69" y="411.26" font-size="5.2" fill="#333" text-anchor="end" transform="rotate(319.35 62.69 411.26)" stroke="#333" stroke-width="0.08" dominant-baseline="central">chr 5</text>
<text x="55.12" y="400.81" font-size="5.2" fill="#333" text-anchor="end" transform="rotate(328.80 55.12 400.81)" stroke="#333" stroke-width="0.08" dominant-baseline="central">chr 6</text>
<text x="50.46" y="391.85" font-size="5.2" fill="#333" text-anchor="end" transform="rotate(336.20 50.46 391.85)" stroke="#333" stroke-width="0.08" dominant-baseline="central">chr 7</text>
<text x="47.16" y="382.95" font-size="5.2" fill="#333" text-anchor="end" transform="rotate(343.15 47.16 382.95)" stroke="#333" stroke-width="0.08" dominant-baseline="central">chr 8</text>
<text x="45.63" y="377.06" font-size="5.2" fill="#333" text-anchor="end" transform="rotate(347.60 45.63 377.06)" stroke="#333" stroke-width="0.08" dominant-baseline="central">chr 9</text>
<text x="44.52" y="370.88" font-size="5.2" fill="#333" text-anchor="end" transform="rotate(352.20 44.52 370.88)" stroke="#333" stroke-width="0.08" dominant-baseline="central">chr 10</text>
<text x="43.80" y="359.70" font-size="5.2" fill="#333" text-anchor="end" transform="rotate(360.40 43.80 359.70)" stroke="#333" stroke-width="0.08" dominant-baseline="central">chr 11</text>
<text x="44.85" y="347.46" font-size="5.2" fill="#333" text-anchor="end" transform="rotate(369.40 44.85 347.46)" stroke="#333" stroke-width="0.08" dominant-baseline="central">chr 12</text>
<text x="47.02" y="338.01" font-size="5.2" fill="#333" text-anchor="end" transform="rotate(376.50 47.02 338.01)" stroke="#333" stroke-width="0.08" dominant-baseline="central">chr 13</text>
<text x="52.77" y="323.85" font-size="5.2" fill="#333" text-anchor="end" transform="rotate(387.70 52.77 323.85)" stroke="#333" stroke-width="0.08" dominant-baseline="central">chr 14</text>
<text x="59.57" y="313.13" font-size="5.2" fill="#333" text-anchor="end" transform="rotate(397.00 59.57 313.13)" stroke="#333" stroke-width="0.08" dominant-baseline="central">chr 15</text>
<text x="64.74" y="306.95" font-size="5.2" fill="#333" text-anchor="end" transform="rotate(402.90 64.74 306.95)" stroke="#333" stroke-width="0.08" dominant-baseline="central">chr 16</text>
<text x="70.32" y="301.52" font-size="5.2" fill="#333" text-anchor="end" transform="rotate(408.60 70.32 301.52)" stroke="#333" stroke-width="0.08" dominant-baseline="central">chr 17</text>
<text x="76.74" y="296.43" font-size="5.2" fill="#333" text-anchor="end" transform="rotate(414.60 76.74 296.43)" stroke="#333" stroke-width="0.08" dominant-baseline="central">chr 18</text>
<text x="82.95" y="292.44" font-size="5.2" fill="#333" text-anchor="end" transform="rotate(420.00 82.95 292.44)" stroke="#333" stroke-width="0.08" dominant-baseline="central">chr 19</text>
<text x="91.63" y="288.12" font-size="5.2" fill="#333" text-anchor="end" transform="rotate(427.10 91.63 288.12)" stroke="#333" stroke-width="0.08" dominant-baseline="central">chr 20</text>
<text x="100.25" y="285.06" font-size="5.2" fill="#333" text-anchor="end" transform="rotate(433.80 100.25 285.06)" stroke="#333" stroke-width="0.08" dominant-baseline="central">chr 21</text>
<text x="109.04" y="283.05" font-size="5.2" fill="#333" text-anchor="end" transform="rotate(440.40 109.04 283.05)" stroke="#333" stroke-width="0.08" dominant-baseline="central">chr 22</text>
<text x="116.02" y="282.19" font-size="5.2" fill="#333" text-anchor="end" transform="rotate(445.55 116.02 282.19)" stroke="#333" stroke-width="0.08" dominant-baseline="central">chr 23</text>
<text x="125.79" y="282.04" font-size="5.2" fill="#333" text-anchor="start" transform="rotate(272.70 125.79 282.04)" stroke="#333" stroke-width="0.08" dominant-baseline="central">chr 24</text>
<text x="134.28" y="282.90" font-size="5.2" fill="#333" text-anchor="start" transform="rotate(278.95 134.28 282.90)" stroke="#333" stroke-width="0.08" dominant-baseline="central">chr 25</text>
<text x="140.25" y="284.08" font-size="5.2" fill="#333" text-anchor="start" transform="rotate(283.40 140.25 284.08)" stroke="#333" stroke-width="0.08" dominant-baseline="central">chr 26</text>
<text x="146.88" y="285.97" font-size="5.2" fill="#333" text-anchor="start" transform="rotate(288.45 146.88 285.97)" stroke="#333" stroke-width="0.08" dominant-baseline="central">chr X</text>
<text x="184.20" y="313.20" font-size="6.0" fill="#3A3A3A" text-anchor="start" transform="rotate(-30.80 184.20 313.20)" stroke="#3A3A3A" stroke-width="0.06" dominant-baseline="central">upregulated</text>
<text x="188.30" y="403.00" font-size="6.0" fill="#3A3A3A" text-anchor="start" transform="rotate(36.40 188.30 403.00)" stroke="#3A3A3A" stroke-width="0.06" dominant-baseline="central">downregulated</text>
<line x1="158.38" y1="295.87" x2="158.92" y2="294.91" stroke="#999" stroke-width="0.35"/>
<line x1="168.41" y1="302.66" x2="169.10" y2="301.80" stroke="#999" stroke-width="0.35"/>
<text x="170.47" y="300.09" font-size="2.6" fill="#888" text-anchor="middle" transform="rotate(38.80 170.47 300.09)" dominant-baseline="central">50</text>
<line x1="177.19" y1="310.99" x2="178.01" y2="310.26" stroke="#999" stroke-width="0.35"/>
<text x="179.65" y="308.79" font-size="2.6" fill="#888" text-anchor="middle" transform="rotate(48.20 179.65 308.79)" dominant-baseline="central">100</text>
<line x1="184.50" y1="320.65" x2="185.42" y2="320.06" stroke="#999" stroke-width="0.35"/>
<text x="187.28" y="318.88" font-size="2.6" fill="#888" text-anchor="middle" transform="rotate(57.60 187.28 318.88)" dominant-baseline="central">150</text>
<line x1="190.13" y1="331.37" x2="191.14" y2="330.95" stroke="#999" stroke-width="0.35"/>
<text x="193.16" y="330.09" font-size="2.6" fill="#888" text-anchor="middle" transform="rotate(67.00 193.16 330.09)" dominant-baseline="central">200</text>
<line x1="193.93" y1="342.87" x2="195.00" y2="342.61" stroke="#999" stroke-width="0.35"/>
<text x="197.14" y="342.10" font-size="2.6" fill="#888" text-anchor="middle" transform="rotate(76.40 197.14 342.10)" dominant-baseline="central">250</text>
<line x1="195.80" y1="354.84" x2="196.90" y2="354.76" stroke="#999" stroke-width="0.35"/>
<text x="199.09" y="354.60" font-size="2.6" fill="#888" text-anchor="middle" transform="rotate(85.80 199.09 354.60)" dominant-baseline="central">300</text>
<line x1="195.91" y1="363.86" x2="197.01" y2="363.91" stroke="#999" stroke-width="0.35"/>
<line x1="194.33" y1="375.87" x2="195.41" y2="376.10" stroke="#999" stroke-width="0.35"/>
<text x="197.56" y="376.56" font-size="2.6" fill="#888" text-anchor="middle" transform="rotate(102.20 197.56 376.56)" dominant-baseline="central">50</text>
<line x1="190.81" y1="387.45" x2="191.83" y2="387.86" stroke="#999" stroke-width="0.35"/>
<text x="193.88" y="388.67" font-size="2.6" fill="#888" text-anchor="middle" transform="rotate(111.60 193.88 388.67)" dominant-baseline="central">100</text>
<line x1="185.44" y1="398.31" x2="186.39" y2="398.88" stroke="#999" stroke-width="0.35"/>
<text x="188.27" y="400.01" font-size="2.6" fill="#888" text-anchor="middle" transform="rotate(121.00 188.27 400.01)" dominant-baseline="central">150</text>
<line x1="178.38" y1="408.15" x2="179.22" y2="408.86" stroke="#999" stroke-width="0.35"/>
<text x="180.89" y="410.28" font-size="2.6" fill="#888" text-anchor="middle" transform="rotate(130.40 180.89 410.28)" dominant-baseline="central">200</text>
<line x1="169.80" y1="416.69" x2="170.51" y2="417.53" stroke="#999" stroke-width="0.35"/>
<text x="171.93" y="419.22" font-size="2.6" fill="#888" text-anchor="middle" transform="rotate(139.80 171.93 419.22)" dominant-baseline="central">250</text>
<line x1="159.94" y1="423.73" x2="160.50" y2="424.67" stroke="#999" stroke-width="0.35"/>
<text x="161.63" y="426.56" font-size="2.6" fill="#888" text-anchor="middle" transform="rotate(149.20 161.63 426.56)" dominant-baseline="central">300</text>
<line x1="149.06" y1="429.06" x2="149.47" y2="430.08" stroke="#999" stroke-width="0.35"/>
<text x="150.27" y="432.13" font-size="2.6" fill="#888" text-anchor="middle" transform="rotate(158.60 150.27 432.13)" dominant-baseline="central">350</text>
<path d="M36.00,581.60 L69.40,509.60 L102.80,545.60" fill="none" stroke="#FFE800" stroke-width="1.4" stroke-linejoin="miter"/>
<path d="M36.00,587.72 L69.40,538.40 L102.80,513.20" fill="none" stroke="#FFE800" stroke-width="1.4" stroke-linejoin="miter"/>
<path d="M36.00,581.74 L69.40,510.15 L102.80,544.81" fill="none" stroke="#F7F300" stroke-width="1.4" stroke-linejoin="miter"/>
<path d="M36.00,587.62 L69.40,537.85 L102.80,513.66" fill="none" stroke="#F7F300" stroke-width="1.4" stroke-linejoin="miter"/>
<path d="M36.00,581.88 L69.40,510.71 L102.80,544.02" fill="none" stroke="#EEFC00" stroke-width="1.4" stroke-linejoin="miter"/>
<path d="M36.00,587.53 L69.40,537.29 L102.80,514.11" fill="none" stroke="#EEFC00" stroke-width="1.4" stroke-linejoin="miter"/>
<path d="M36.00,582.02 L69.40,511.26 L102.80,543.23" fill="none" stroke="#E0FD00" stroke-width="1.4" stroke-linejoin="miter"/>
<path d="M36.00,587.43 L69.40,536.74 L102.80,514.57" fill="none" stroke="#E0FD00" stroke-width="1.4" stroke-linejoin="miter"/>
<path d="M36.00,582.15 L69.40,511.82 L102.80,542.44" fill="none" stroke="#D3FE00" stroke-width="1.4" stroke-linejoin="miter"/>
<path d="M36.00,587.33 L69.40,536.18 L102.80,515.03" fill="none" stroke="#D3FE00" stroke-width="1.4" stroke-linejoin="miter"/>
<path d="M36.00,582.29 L69.40,512.37 L102.80,541.65" fill="none" stroke="#C6FF00" stroke-width="1.4" stroke-linejoin="miter"/>
<path d="M36.00,587.24 L69.40,535.63 L102.80,515.48" fill="none" stroke="#C6FF00" stroke-width="1.4" stroke-linejoin="miter"/>
<path d="M36.00,582.43 L69.40,512.92 L102.80,540.86" fill="none" stroke="#B9FF00" stroke-width="1.4" stroke-linejoin="miter"/>
<path d="M36.00,587.14 L69.40,535.08 L102.80,515.94" fill="none" stroke="#B9FF00" stroke-width="1.4" stroke-linejoin="miter"/>
<path d="M36.00,582.57 L69.40,513.48 L102.80,540.08" fill="none" stroke="#ABFF00" stroke-width="1.4" stroke-linejoin="miter"/>
<path d="M36.00,587.04 L69.40,534.52 L102.80,516.40" fill="none" stroke="#ABFF00" stroke-width="1.4" stroke-linejoin="miter"/>
<path d="M36.00,582.71 L69.40,514.03 L102.80,539.29" fill="none" stroke="#9EFF00" stroke-width="1.4" stroke-linejoin="miter"/>
<path d="M36.00,586.94 L69.40,533.97 L102.80,516.86" fill="none" stroke="#9EFF00" stroke-width="1.4" stroke-linejoin="miter"/>
<path d="M36.00,582.85 L69.40,514.58 L102.80,538.50" fill="none" stroke="#91FF00" stroke-width="1.4" stroke-linejoin="miter"/>
<path d="M36.00,586.85 L69.40,533.42 L102.80,517.31" fill="none" stroke="#91FF00" stroke-width="1.4" stroke-linejoin="miter"/>
<path d="M36.00,582.98 L69.40,515.14 L102.80,537.71" fill="none" stroke="#84FF00" stroke-width="1.4" stroke-linejoin="miter"/>
<path d="M36.00,586.75 L69.40,532.86 L102.80,517.77" fill="none" stroke="#84FF00" stroke-width="1.4" stroke-linejoin="miter"/>
<path d="M36.00,583.12 L69.40,515.69 L102.80,536.92" fill="none" stroke="#77FF00" stroke-width="1.4" stroke-linejoin="miter"/>
<path d="M36.00,586.65 L69.40,532.31 L102.80,518.23" fill="none" stroke="#77FF00" stroke-width="1.4" stroke-linejoin="miter"/>
<path d="M36.00,583.26 L69.40,516.25 L102.80,536.13" fill="none" stroke="#6BFF01" stroke-width="1.4" stroke-linejoin="miter"/>
<path d="M36.00,586.56 L69.40,531.75 L102.80,518.68" fill="none" stroke="#6BFF01" stroke-width="1.4" stroke-linejoin="miter"/>
<path d="M36.00,583.40 L69.40,516.80 L102.80,535.34" fill="none" stroke="#60FF03" stroke-width="1.4" stroke-linejoin="miter"/>
<path d="M36.00,586.46 L69.40,531.20 L102.80,519.14" fill="none" stroke="#60FF03" stroke-width="1.4" stroke-linejoin="miter"/>
<path d="M36.00,583.54 L69.40,517.35 L102.80,534.55" fill="none" stroke="#56FF05" stroke-width="1.4" stroke-linejoin="miter"/>
<path d="M36.00,586.36 L69.40,530.65 L102.80,519.60" fill="none" stroke="#56FF05" stroke-width="1.4" stroke-linejoin="miter"/>
<path d="M36.00,583.68 L69.40,517.91 L102.80,533.76" fill="none" stroke="#4BFF08" stroke-width="1.4" stroke-linejoin="miter"/>
<path d="M36.00,586.27 L69.40,530.09 L102.80,520.05" fill="none" stroke="#4BFF08" stroke-width="1.4" stroke-linejoin="miter"/>
<path d="M36.00,583.82 L69.40,518.46 L102.80,532.97" fill="none" stroke="#41FF0A" stroke-width="1.4" stroke-linejoin="miter"/>
<path d="M36.00,586.17 L69.40,529.54 L102.80,520.51" fill="none" stroke="#41FF0A" stroke-width="1.4" stroke-linejoin="miter"/>
<path d="M36.00,583.95 L69.40,519.02 L102.80,532.18" fill="none" stroke="#36FF0C" stroke-width="1.4" stroke-linejoin="miter"/>
<path d="M36.00,586.07 L69.40,528.98 L102.80,520.97" fill="none" stroke="#36FF0C" stroke-width="1.4" stroke-linejoin="miter"/>
<path d="M36.00,584.09 L69.40,519.57 L102.80,531.39" fill="none" stroke="#2CFF0F" stroke-width="1.4" stroke-linejoin="miter"/>
<path d="M36.00,585.98 L69.40,528.43 L102.80,521.42" fill="none" stroke="#2CFF0F" stroke-width="1.4" stroke-linejoin="miter"/>
<path d="M36.00,584.23 L69.40,520.12 L102.80,530.60" fill="none" stroke="#21FF11" stroke-width="1.4" stroke-linejoin="miter"/>
<path d="M36.00,585.88 L69.40,527.88 L102.80,521.88" fill="none" stroke="#21FF11" stroke-width="1.4" stroke-linejoin="miter"/>
<path d="M36.00,584.37 L69.40,520.68 L102.80,529.82" fill="none" stroke="#17FF13" stroke-width="1.4" stroke-linejoin="miter"/>
<path d="M36.00,585.78 L69.40,527.32 L102.80,522.34" fill="none" stroke="#17FF13" stroke-width="1.4" stroke-linejoin="miter"/>
<path d="M36.00,584.51 L69.40,521.23 L102.80,529.03" fill="none" stroke="#0FFF37" stroke-width="1.4" stroke-linejoin="miter"/>
<path d="M36.00,585.68 L69.40,526.77 L102.80,522.80" fill="none" stroke="#0FFF37" stroke-width="1.4" stroke-linejoin="miter"/>
<path d="M36.00,584.65 L69.40,521.78 L102.80,528.24" fill="none" stroke="#08FF68" stroke-width="1.4" stroke-linejoin="miter"/>
<path d="M36.00,585.59 L69.40,526.22 L102.80,523.25" fill="none" stroke="#08FF68" stroke-width="1.4" stroke-linejoin="miter"/>
<path d="M36.00,584.78 L69.40,522.34 L102.80,527.45" fill="none" stroke="#01FF99" stroke-width="1.4" stroke-linejoin="miter"/>
<path d="M36.00,585.49 L69.40,525.66 L102.80,523.71" fill="none" stroke="#01FF99" stroke-width="1.4" stroke-linejoin="miter"/>
<path d="M36.00,584.92 L69.40,522.89 L102.80,526.66" fill="none" stroke="#00E9E6" stroke-width="1.4" stroke-linejoin="miter"/>
<path d="M36.00,585.39 L69.40,525.11 L102.80,524.17" fill="none" stroke="#00E9E6" stroke-width="1.4" stroke-linejoin="miter"/>
<path d="M36.00,585.06 L69.40,523.45 L102.80,525.87" fill="none" stroke="#007BFF" stroke-width="1.4" stroke-linejoin="miter"/>
<path d="M36.00,585.30 L69.40,524.55 L102.80,524.62" fill="none" stroke="#007BFF" stroke-width="1.4" stroke-linejoin="miter"/>
<path d="M36.00,585.20 L69.40,524.00 L102.80,525.08" fill="none" stroke="#2018FF" stroke-width="1.15"/>
<path d="M36.00,585.20 L69.40,524.00 L102.80,525.08" fill="none" stroke="#6A00FF" stroke-width="0.5"/>
<line x1="32.1" y1="509.6" x2="32.1" y2="581.6" stroke="#666" stroke-width="0.6"/>
<line x1="30.1" y1="509.6" x2="32.1" y2="509.6" stroke="#666" stroke-width="0.6"/>
<text x="27.70" y="509.60" font-size="4.3" fill="#222" text-anchor="middle" transform="rotate(-90.00 27.70 509.60)" stroke="#222" stroke-width="0.08">1.0</text>
<line x1="30.1" y1="527.6" x2="32.1" y2="527.6" stroke="#666" stroke-width="0.6"/>
<text x="27.70" y="527.60" font-size="4.3" fill="#222" text-anchor="middle" transform="rotate(-90.00 27.70 527.60)" stroke="#222" stroke-width="0.08">0.5</text>
<line x1="30.1" y1="545.6" x2="32.1" y2="545.6" stroke="#666" stroke-width="0.6"/>
<text x="27.70" y="545.60" font-size="4.3" fill="#222" text-anchor="middle" transform="rotate(-90.00 27.70 545.60)" stroke="#222" stroke-width="0.08">0.0</text>
<line x1="30.1" y1="563.6" x2="32.1" y2="563.6" stroke="#666" stroke-width="0.6"/>
<text x="27.70" y="563.60" font-size="4.3" fill="#222" text-anchor="middle" transform="rotate(-90.00 27.70 563.60)" stroke="#222" stroke-width="0.08">−0.5</text>
<line x1="30.1" y1="581.6" x2="32.1" y2="581.6" stroke="#666" stroke-width="0.6"/>
<text x="27.70" y="581.60" font-size="4.3" fill="#222" text-anchor="middle" transform="rotate(-90.00 27.70 581.60)" stroke="#222" stroke-width="0.08">−1.0</text>
<line x1="36.0" y1="590.2" x2="102.8" y2="590.2" stroke="#666" stroke-width="0.6"/>
<line x1="36.0" y1="590.2" x2="36.0" y2="592.2" stroke="#666" stroke-width="0.6"/>
<text x="36.00" y="599.30" font-size="4.5" fill="#222" text-anchor="middle" stroke="#222" stroke-width="0.08">D35</text>
<line x1="69.4" y1="590.2" x2="69.4" y2="592.2" stroke="#666" stroke-width="0.6"/>
<text x="69.40" y="599.30" font-size="4.5" fill="#222" text-anchor="middle" stroke="#222" stroke-width="0.08">D40</text>
<line x1="102.8" y1="590.2" x2="102.8" y2="592.2" stroke="#666" stroke-width="0.6"/>
<text x="102.80" y="599.30" font-size="4.5" fill="#222" text-anchor="middle" stroke="#222" stroke-width="0.08">D45</text>
<text x="69.40" y="608.90" font-size="5.0" fill="#222" text-anchor="middle" stroke="#222" stroke-width="0.08">Time</text>
<text x="17.70" y="549.70" font-size="4.0" fill="#222" text-anchor="middle" transform="rotate(-90.00 17.70 549.70)" stroke="#222" stroke-width="0.08">Expression changes</text>
<text x="69.40" y="498.90" font-size="5.0" fill="#111" text-anchor="middle" font-weight="bold">Cluster 1</text>
<path d="M137.90,556.37 L171.30,510.90 L204.70,552.79" fill="none" stroke="#FFE800" stroke-width="1.4" stroke-linejoin="miter"/>
<path d="M137.90,556.99 L171.30,510.90 L204.70,553.55" fill="none" stroke="#F7F300" stroke-width="1.4" stroke-linejoin="miter"/>
<path d="M137.90,557.61 L171.30,510.90 L204.70,554.30" fill="none" stroke="#EEFC00" stroke-width="1.4" stroke-linejoin="miter"/>
<path d="M137.90,558.23 L171.30,510.90 L204.70,555.06" fill="none" stroke="#E0FD00" stroke-width="1.4" stroke-linejoin="miter"/>
<path d="M137.90,558.85 L171.30,510.90 L204.70,555.82" fill="none" stroke="#D3FE00" stroke-width="1.4" stroke-linejoin="miter"/>
<path d="M137.90,559.47 L171.30,510.90 L204.70,556.58" fill="none" stroke="#C6FF00" stroke-width="1.4" stroke-linejoin="miter"/>
<path d="M137.90,586.80 L171.30,510.90 L204.70,585.01" fill="none" stroke="#C3FF00" stroke-width="1.4" stroke-linejoin="miter"/>
<path d="M137.90,560.09 L171.30,510.90 L204.70,557.33" fill="none" stroke="#B9FF00" stroke-width="1.4" stroke-linejoin="miter"/>
<path d="M137.90,586.25 L171.30,510.90 L204.70,584.53" fill="none" stroke="#B9FF00" stroke-width="1.4" stroke-linejoin="miter"/>
<path d="M137.90,585.70 L171.30,510.90 L204.70,584.05" fill="none" stroke="#AEFF00" stroke-width="1.4" stroke-linejoin="miter"/>
<path d="M137.90,560.71 L171.30,510.90 L204.70,558.09" fill="none" stroke="#ABFF00" stroke-width="1.4" stroke-linejoin="miter"/>
<path d="M137.90,585.15 L171.30,510.90 L204.70,583.56" fill="none" stroke="#A4FF00" stroke-width="1.4" stroke-linejoin="miter"/>
<path d="M137.90,561.33 L171.30,510.90 L204.70,558.85" fill="none" stroke="#9EFF00" stroke-width="1.4" stroke-linejoin="miter"/>
<path d="M137.90,584.60 L171.30,510.90 L204.70,583.08" fill="none" stroke="#99FF00" stroke-width="1.4" stroke-linejoin="miter"/>
<path d="M137.90,561.95 L171.30,510.90 L204.70,559.61" fill="none" stroke="#91FF00" stroke-width="1.4" stroke-linejoin="miter"/>
<path d="M137.90,584.05 L171.30,510.90 L204.70,582.60" fill="none" stroke="#8FFF00" stroke-width="1.4" stroke-linejoin="miter"/>
<path d="M137.90,562.57 L171.30,510.90 L204.70,560.36" fill="none" stroke="#84FF00" stroke-width="1.4" stroke-linejoin="miter"/>
<path d="M137.90,583.50 L171.30,510.90 L204.70,582.12" fill="none" stroke="#84FF00" stroke-width="1.4" stroke-linejoin="miter"/>
<path d="M137.90,582.94 L171.30,510.90 L204.70,581.64" fill="none" stroke="#7AFF00" stroke-width="1.4" stroke-linejoin="miter"/>
<path d="M137.90,563.19 L171.30,510.90 L204.70,561.12" fill="none" stroke="#77FF00" stroke-width="1.4" stroke-linejoin="miter"/>
<path d="M137.90,582.39 L171.30,510.90 L204.70,581.15" fill="none" stroke="#6FFF00" stroke-width="1.4" stroke-linejoin="miter"/>
<path d="M137.90,563.81 L171.30,510.90 L204.70,561.88" fill="none" stroke="#6BFF01" stroke-width="1.4" stroke-linejoin="miter"/>
<path d="M137.90,581.84 L171.30,510.90 L204.70,580.67" fill="none" stroke="#67FF02" stroke-width="1.4" stroke-linejoin="miter"/>
<path d="M137.90,564.42 L171.30,510.90 L204.70,562.63" fill="none" stroke="#60FF03" stroke-width="1.4" stroke-linejoin="miter"/>
<path d="M137.90,581.29 L171.30,510.90 L204.70,580.19" fill="none" stroke="#5EFF03" stroke-width="1.4" stroke-linejoin="miter"/>
<path d="M137.90,565.04 L171.30,510.90 L204.70,563.39" fill="none" stroke="#56FF05" stroke-width="1.4" stroke-linejoin="miter"/>
<path d="M137.90,580.74 L171.30,510.90 L204.70,579.71" fill="none" stroke="#56FF05" stroke-width="1.4" stroke-linejoin="miter"/>
<path d="M137.90,580.19 L171.30,510.90 L204.70,579.23" fill="none" stroke="#4DFF07" stroke-width="1.4" stroke-linejoin="miter"/>
<path d="M137.90,565.66 L171.30,510.90 L204.70,564.15" fill="none" stroke="#4BFF08" stroke-width="1.4" stroke-linejoin="miter"/>
<path d="M137.90,579.64 L171.30,510.90 L204.70,578.75" fill="none" stroke="#45FF09" stroke-width="1.4" stroke-linejoin="miter"/>
<path d="M137.90,566.28 L171.30,510.90 L204.70,564.91" fill="none" stroke="#41FF0A" stroke-width="1.4" stroke-linejoin="miter"/>
<path d="M137.90,579.09 L171.30,510.90 L204.70,578.26" fill="none" stroke="#3DFF0B" stroke-width="1.4" stroke-linejoin="miter"/>
<path d="M137.90,566.90 L171.30,510.90 L204.70,565.66" fill="none" stroke="#36FF0C" stroke-width="1.4" stroke-linejoin="miter"/>
<path d="M137.90,578.54 L171.30,510.90 L204.70,577.78" fill="none" stroke="#34FF0D" stroke-width="1.4" stroke-linejoin="miter"/>
<path d="M137.90,567.52 L171.30,510.90 L204.70,566.42" fill="none" stroke="#2CFF0F" stroke-width="1.4" stroke-linejoin="miter"/>
<path d="M137.90,577.99 L171.30,510.90 L204.70,577.30" fill="none" stroke="#2CFF0F" stroke-width="1.4" stroke-linejoin="miter"/>
<path d="M137.90,577.44 L171.30,510.90 L204.70,576.82" fill="none" stroke="#24FF11" stroke-width="1.4" stroke-linejoin="miter"/>
<path d="M137.90,568.14 L171.30,510.90 L204.70,567.18" fill="none" stroke="#21FF11" stroke-width="1.4" stroke-linejoin="miter"/>
<path d="M137.90,576.89 L171.30,510.90 L204.70,576.34" fill="none" stroke="#1BFF12" stroke-width="1.4" stroke-linejoin="miter"/>
<path d="M137.90,568.76 L171.30,510.90 L204.70,567.94" fill="none" stroke="#17FF13" stroke-width="1.4" stroke-linejoin="miter"/>
<path d="M137.90,576.34 L171.30,510.90 L204.70,575.85" fill="none" stroke="#13FF1A" stroke-width="1.4" stroke-linejoin="miter"/>
<path d="M137.90,569.38 L171.30,510.90 L204.70,568.69" fill="none" stroke="#0FFF37" stroke-width="1.4" stroke-linejoin="miter"/>
<path d="M137.90,575.78 L171.30,510.90 L204.70,575.37" fill="none" stroke="#0EFF41" stroke-width="1.4" stroke-linejoin="miter"/>
<path d="M137.90,570.00 L171.30,510.90 L204.70,569.45" fill="none" stroke="#08FF68" stroke-width="1.4" stroke-linejoin="miter"/>
<path d="M137.90,575.23 L171.30,510.90 L204.70,574.89" fill="none" stroke="#08FF68" stroke-width="1.4" stroke-linejoin="miter"/>
<path d="M137.90,574.68 L171.30,510.90 L204.70,574.41" fill="none" stroke="#02FF8F" stroke-width="1.4" stroke-linejoin="miter"/>
<path d="M137.90,570.62 L171.30,510.90 L204.70,570.21" fill="none" stroke="#01FF99" stroke-width="1.4" stroke-linejoin="miter"/>
<path d="M137.90,574.13 L171.30,510.90 L204.70,573.93" fill="none" stroke="#00F3C5" stroke-width="1.4" stroke-linejoin="miter"/>
<path d="M137.90,571.24 L171.30,510.90 L204.70,570.97" fill="none" stroke="#00E9E6" stroke-width="1.4" stroke-linejoin="miter"/>
<path d="M137.90,573.58 L171.30,510.90 L204.70,573.44" fill="none" stroke="#00D4FF" stroke-width="1.4" stroke-linejoin="miter"/>
<path d="M137.90,571.86 L171.30,510.90 L204.70,571.72" fill="none" stroke="#007BFF" stroke-width="1.4" stroke-linejoin="miter"/>
<path d="M137.90,573.03 L171.30,510.90 L204.70,572.96" fill="none" stroke="#065DFF" stroke-width="1.4" stroke-linejoin="miter"/>
<path d="M137.90,572.48 L171.30,510.90 L204.70,572.48" fill="none" stroke="#2018FF" stroke-width="1.15"/>
<path d="M137.90,572.48 L171.30,510.90 L204.70,572.48" fill="none" stroke="#6A00FF" stroke-width="0.5"/>
<line x1="134.0" y1="515.2" x2="134.0" y2="586.8" stroke="#666" stroke-width="0.6"/>
<line x1="132.0" y1="515.2" x2="134.0" y2="515.2" stroke="#666" stroke-width="0.6"/>
<text x="129.60" y="515.20" font-size="4.3" fill="#222" text-anchor="middle" transform="rotate(-90.00 129.60 515.20)" stroke="#222" stroke-width="0.08">1.0</text>
<line x1="132.0" y1="533.1" x2="134.0" y2="533.1" stroke="#666" stroke-width="0.6"/>
<text x="129.60" y="533.10" font-size="4.3" fill="#222" text-anchor="middle" transform="rotate(-90.00 129.60 533.10)" stroke="#222" stroke-width="0.08">0.5</text>
<line x1="132.0" y1="551.0" x2="134.0" y2="551.0" stroke="#666" stroke-width="0.6"/>
<text x="129.60" y="551.00" font-size="4.3" fill="#222" text-anchor="middle" transform="rotate(-90.00 129.60 551.00)" stroke="#222" stroke-width="0.08">0.0</text>
<line x1="132.0" y1="568.9" x2="134.0" y2="568.9" stroke="#666" stroke-width="0.6"/>
<text x="129.60" y="568.90" font-size="4.3" fill="#222" text-anchor="middle" transform="rotate(-90.00 129.60 568.90)" stroke="#222" stroke-width="0.08">−0.5</text>
<line x1="132.0" y1="586.8" x2="134.0" y2="586.8" stroke="#666" stroke-width="0.6"/>
<text x="129.60" y="586.80" font-size="4.3" fill="#222" text-anchor="middle" transform="rotate(-90.00 129.60 586.80)" stroke="#222" stroke-width="0.08">−1.0</text>
<line x1="137.9" y1="590.2" x2="204.7" y2="590.2" stroke="#666" stroke-width="0.6"/>
<line x1="137.9" y1="590.2" x2="137.9" y2="592.2" stroke="#666" stroke-width="0.6"/>
<text x="137.90" y="599.30" font-size="4.5" fill="#222" text-anchor="middle" stroke="#222" stroke-width="0.08">D35</text>
<line x1="171.3" y1="590.2" x2="171.3" y2="592.2" stroke="#666" stroke-width="0.6"/>
<text x="171.30" y="599.30" font-size="4.5" fill="#222" text-anchor="middle" stroke="#222" stroke-width="0.08">D40</text>
<line x1="204.7" y1="590.2" x2="204.7" y2="592.2" stroke="#666" stroke-width="0.6"/>
<text x="204.70" y="599.30" font-size="4.5" fill="#222" text-anchor="middle" stroke="#222" stroke-width="0.08">D45</text>
<text x="171.30" y="608.90" font-size="5.0" fill="#222" text-anchor="middle" stroke="#222" stroke-width="0.08">Time</text>
<text x="119.60" y="549.70" font-size="4.0" fill="#222" text-anchor="middle" transform="rotate(-90.00 119.60 549.70)" stroke="#222" stroke-width="0.08">Expression changes</text>
<text x="171.30" y="498.90" font-size="5.0" fill="#111" text-anchor="middle" font-weight="bold">Cluster 2</text>
<path d="M239.80,509.58 L273.20,560.26 L306.60,580.17" fill="none" stroke="#86FF00" stroke-width="1.4" stroke-linejoin="miter"/>
<path d="M239.80,509.72 L273.20,559.91 L306.60,580.41" fill="none" stroke="#7EFF00" stroke-width="1.4" stroke-linejoin="miter"/>
<path d="M239.80,509.86 L273.20,559.56 L306.60,580.64" fill="none" stroke="#76FF00" stroke-width="1.4" stroke-linejoin="miter"/>
<path d="M239.80,510.00 L273.20,559.22 L306.60,580.88" fill="none" stroke="#6EFF00" stroke-width="1.4" stroke-linejoin="miter"/>
<path d="M239.80,510.14 L273.20,558.87 L306.60,581.12" fill="none" stroke="#67FF02" stroke-width="1.4" stroke-linejoin="miter"/>
<path d="M239.80,510.28 L273.20,558.52 L306.60,581.35" fill="none" stroke="#61FF03" stroke-width="1.4" stroke-linejoin="miter"/>
<path d="M239.80,510.42 L273.20,558.17 L306.60,581.59" fill="none" stroke="#5AFF04" stroke-width="1.4" stroke-linejoin="miter"/>
<path d="M239.80,510.55 L273.20,557.82 L306.60,581.83" fill="none" stroke="#54FF06" stroke-width="1.4" stroke-linejoin="miter"/>
<path d="M239.80,516.10 L273.20,543.97 L306.60,588.13" fill="none" stroke="#53FF06" stroke-width="1.4" stroke-linejoin="miter"/>
<path d="M239.80,515.98 L273.20,544.25 L306.60,588.06" fill="none" stroke="#4EFF07" stroke-width="1.4" stroke-linejoin="miter"/>
<path d="M239.80,510.69 L273.20,557.48 L306.60,582.06" fill="none" stroke="#4DFF07" stroke-width="1.4" stroke-linejoin="miter"/>
<path d="M239.80,515.87 L273.20,544.53 L306.60,587.99" fill="none" stroke="#49FF08" stroke-width="1.4" stroke-linejoin="miter"/>
<path d="M239.80,510.83 L273.20,557.13 L306.60,582.30" fill="none" stroke="#47FF09" stroke-width="1.4" stroke-linejoin="miter"/>
<path d="M239.80,515.76 L273.20,544.81 L306.60,587.93" fill="none" stroke="#45FF09" stroke-width="1.4" stroke-linejoin="miter"/>
<path d="M239.80,510.97 L273.20,556.78 L306.60,582.54" fill="none" stroke="#40FF0A" stroke-width="1.4" stroke-linejoin="miter"/>
<path d="M239.80,515.65 L273.20,545.08 L306.60,587.86" fill="none" stroke="#40FF0A" stroke-width="1.4" stroke-linejoin="miter"/>
<path d="M239.80,515.54 L273.20,545.36 L306.60,587.79" fill="none" stroke="#3BFF0B" stroke-width="1.4" stroke-linejoin="miter"/>
<path d="M239.80,511.11 L273.20,556.43 L306.60,582.77" fill="none" stroke="#3AFF0C" stroke-width="1.4" stroke-linejoin="miter"/>
<path d="M239.80,515.43 L273.20,545.64 L306.60,587.72" fill="none" stroke="#36FF0C" stroke-width="1.4" stroke-linejoin="miter"/>
<path d="M239.80,511.25 L273.20,556.08 L306.60,583.01" fill="none" stroke="#33FF0D" stroke-width="1.4" stroke-linejoin="miter"/>
<path d="M239.80,515.32 L273.20,545.92 L306.60,587.65" fill="none" stroke="#32FF0D" stroke-width="1.4" stroke-linejoin="miter"/>
<path d="M239.80,515.20 L273.20,546.20 L306.60,587.58" fill="none" stroke="#2DFF0E" stroke-width="1.4" stroke-linejoin="miter"/>
<path d="M239.80,511.39 L273.20,555.74 L306.60,583.25" fill="none" stroke="#2DFF0F" stroke-width="1.4" stroke-linejoin="miter"/>
<path d="M239.80,515.09 L273.20,546.48 L306.60,587.51" fill="none" stroke="#28FF10" stroke-width="1.4" stroke-linejoin="miter"/>
<path d="M239.80,511.53 L273.20,555.39 L306.60,583.48" fill="none" stroke="#26FF10" stroke-width="1.4" stroke-linejoin="miter"/>
<path d="M239.80,514.98 L273.20,546.75 L306.60,587.44" fill="none" stroke="#24FF11" stroke-width="1.4" stroke-linejoin="miter"/>
<path d="M239.80,511.67 L273.20,555.04 L306.60,583.72" fill="none" stroke="#20FF11" stroke-width="1.4" stroke-linejoin="miter"/>
<path d="M239.80,514.87 L273.20,547.03 L306.60,587.37" fill="none" stroke="#1FFF12" stroke-width="1.4" stroke-linejoin="miter"/>
<path d="M239.80,514.76 L273.20,547.31 L306.60,587.30" fill="none" stroke="#1AFF13" stroke-width="1.4" stroke-linejoin="miter"/>
<path d="M239.80,511.81 L273.20,554.69 L306.60,583.96" fill="none" stroke="#19FF13" stroke-width="1.4" stroke-linejoin="miter"/>
<path d="M239.80,514.65 L273.20,547.59 L306.60,587.23" fill="none" stroke="#15FF14" stroke-width="1.4" stroke-linejoin="miter"/>
<path d="M239.80,511.95 L273.20,554.34 L306.60,584.19" fill="none" stroke="#13FF1B" stroke-width="1.4" stroke-linejoin="miter"/>
<path d="M239.80,514.54 L273.20,547.87 L306.60,587.16" fill="none" stroke="#12FF24" stroke-width="1.4" stroke-linejoin="miter"/>
<path d="M239.80,512.09 L273.20,553.99 L306.60,584.43" fill="none" stroke="#0FFF39" stroke-width="1.4" stroke-linejoin="miter"/>
<path d="M239.80,514.43 L273.20,548.15 L306.60,587.09" fill="none" stroke="#0FFF3A" stroke-width="1.4" stroke-linejoin="miter"/>
<path d="M239.80,514.31 L273.20,548.43 L306.60,587.02" fill="none" stroke="#0BFF50" stroke-width="1.4" stroke-linejoin="miter"/>
<path d="M239.80,512.23 L273.20,553.65 L306.60,584.67" fill="none" stroke="#0AFF58" stroke-width="1.4" stroke-linejoin="miter"/>
<path d="M239.80,514.20 L273.20,548.70 L306.60,586.95" fill="none" stroke="#08FF66" stroke-width="1.4" stroke-linejoin="miter"/>
<path d="M239.80,512.36 L273.20,553.30 L306.60,584.90" fill="none" stroke="#06FF76" stroke-width="1.4" stroke-linejoin="miter"/>
<path d="M239.80,514.09 L273.20,548.98 L306.60,586.88" fill="none" stroke="#05FF7C" stroke-width="1.4" stroke-linejoin="miter"/>
<path d="M239.80,513.98 L273.20,549.26 L306.60,586.81" fill="none" stroke="#02FF92" stroke-width="1.4" stroke-linejoin="miter"/>
<path d="M239.80,512.50 L273.20,552.95 L306.60,585.14" fill="none" stroke="#02FF94" stroke-width="1.4" stroke-linejoin="miter"/>
<path d="M239.80,513.87 L273.20,549.54 L306.60,586.74" fill="none" stroke="#00FBAD" stroke-width="1.4" stroke-linejoin="miter"/>
<path d="M239.80,512.64 L273.20,552.60 L306.60,585.38" fill="none" stroke="#00F5BF" stroke-width="1.4" stroke-linejoin="miter"/>
<path d="M239.80,513.76 L273.20,549.82 L306.60,586.67" fill="none" stroke="#00EFD2" stroke-width="1.4" stroke-linejoin="miter"/>
<path d="M239.80,512.78 L273.20,552.25 L306.60,585.61" fill="none" stroke="#00E5F1" stroke-width="1.4" stroke-linejoin="miter"/>
<path d="M239.80,513.65 L273.20,550.10 L306.60,586.60" fill="none" stroke="#00E4F6" stroke-width="1.4" stroke-linejoin="miter"/>
<path d="M239.80,513.53 L273.20,550.37 L306.60,586.53" fill="none" stroke="#00AFFF" stroke-width="1.4" stroke-linejoin="miter"/>
<path d="M239.80,512.92 L273.20,551.91 L306.60,585.85" fill="none" stroke="#009FFF" stroke-width="1.4" stroke-linejoin="miter"/>
<path d="M239.80,513.42 L273.20,550.65 L306.60,586.46" fill="none" stroke="#016CFF" stroke-width="1.4" stroke-linejoin="miter"/>
<path d="M239.80,513.06 L273.20,551.56 L306.60,586.09" fill="none" stroke="#1141FF" stroke-width="1.4" stroke-linejoin="miter"/>
<path d="M239.80,513.31 L273.20,550.93 L306.60,586.39" fill="none" stroke="#1B27FF" stroke-width="1.4" stroke-linejoin="miter"/>
<path d="M239.80,513.20 L273.20,551.21 L306.60,586.32" fill="none" stroke="#2018FF" stroke-width="1.15"/>
<path d="M239.80,513.20 L273.20,551.21 L306.60,586.32" fill="none" stroke="#6A00FF" stroke-width="0.5"/>
<line x1="235.9" y1="513.2" x2="235.9" y2="585.6" stroke="#666" stroke-width="0.6"/>
<line x1="233.9" y1="513.2" x2="235.9" y2="513.2" stroke="#666" stroke-width="0.6"/>
<text x="231.50" y="513.20" font-size="4.3" fill="#222" text-anchor="middle" transform="rotate(-90.00 231.50 513.20)" stroke="#222" stroke-width="0.08">1.0</text>
<line x1="233.9" y1="531.3" x2="235.9" y2="531.3" stroke="#666" stroke-width="0.6"/>
<text x="231.50" y="531.30" font-size="4.3" fill="#222" text-anchor="middle" transform="rotate(-90.00 231.50 531.30)" stroke="#222" stroke-width="0.08">0.5</text>
<line x1="233.9" y1="549.4" x2="235.9" y2="549.4" stroke="#666" stroke-width="0.6"/>
<text x="231.50" y="549.40" font-size="4.3" fill="#222" text-anchor="middle" transform="rotate(-90.00 231.50 549.40)" stroke="#222" stroke-width="0.08">0.0</text>
<line x1="233.9" y1="567.5" x2="235.9" y2="567.5" stroke="#666" stroke-width="0.6"/>
<text x="231.50" y="567.50" font-size="4.3" fill="#222" text-anchor="middle" transform="rotate(-90.00 231.50 567.50)" stroke="#222" stroke-width="0.08">−0.5</text>
<line x1="233.9" y1="585.6" x2="235.9" y2="585.6" stroke="#666" stroke-width="0.6"/>
<text x="231.50" y="585.60" font-size="4.3" fill="#222" text-anchor="middle" transform="rotate(-90.00 231.50 585.60)" stroke="#222" stroke-width="0.08">−1.0</text>
<line x1="239.8" y1="590.2" x2="306.6" y2="590.2" stroke="#666" stroke-width="0.6"/>
<line x1="239.8" y1="590.2" x2="239.8" y2="592.2" stroke="#666" stroke-width="0.6"/>
<text x="239.80" y="599.30" font-size="4.5" fill="#222" text-anchor="middle" stroke="#222" stroke-width="0.08">D35</text>
<line x1="273.2" y1="590.2" x2="273.2" y2="592.2" stroke="#666" stroke-width="0.6"/>
<text x="273.20" y="599.30" font-size="4.5" fill="#222" text-anchor="middle" stroke="#222" stroke-width="0.08">D40</text>
<line x1="306.6" y1="590.2" x2="306.6" y2="592.2" stroke="#666" stroke-width="0.6"/>
<text x="306.60" y="599.30" font-size="4.5" fill="#222" text-anchor="middle" stroke="#222" stroke-width="0.08">D45</text>
<text x="273.20" y="608.90" font-size="5.0" fill="#222" text-anchor="middle" stroke="#222" stroke-width="0.08">Time</text>
<text x="221.50" y="549.70" font-size="4.0" fill="#222" text-anchor="middle" transform="rotate(-90.00 221.50 549.70)" stroke="#222" stroke-width="0.08">Expression changes</text>
<text x="273.20" y="498.90" font-size="5.0" fill="#111" text-anchor="middle" font-weight="bold">Cluster 3</text>
<path d="M341.70,588.52 L375.10,544.52 L408.50,518.82" fill="none" stroke="#FFE800" stroke-width="1.4" stroke-linejoin="miter"/>
<path d="M341.70,588.18 L375.10,545.13 L408.50,518.53" fill="none" stroke="#F7F300" stroke-width="1.4" stroke-linejoin="miter"/>
<path d="M341.70,587.84 L375.10,545.74 L408.50,518.23" fill="none" stroke="#EEFC00" stroke-width="1.4" stroke-linejoin="miter"/>
<path d="M341.70,587.50 L375.10,546.35 L408.50,517.93" fill="none" stroke="#E0FD00" stroke-width="1.4" stroke-linejoin="miter"/>
<path d="M341.70,587.17 L375.10,546.96 L408.50,517.63" fill="none" stroke="#D3FE00" stroke-width="1.4" stroke-linejoin="miter"/>
<path d="M341.70,586.83 L375.10,547.57 L408.50,517.33" fill="none" stroke="#C6FF00" stroke-width="1.4" stroke-linejoin="miter"/>
<path d="M341.70,586.49 L375.10,548.18 L408.50,517.04" fill="none" stroke="#B9FF00" stroke-width="1.4" stroke-linejoin="miter"/>
<path d="M341.70,586.15 L375.10,548.78 L408.50,516.74" fill="none" stroke="#ABFF00" stroke-width="1.4" stroke-linejoin="miter"/>
<path d="M341.70,585.81 L375.10,549.39 L408.50,516.44" fill="none" stroke="#9EFF00" stroke-width="1.4" stroke-linejoin="miter"/>
<path d="M341.70,585.47 L375.10,550.00 L408.50,516.14" fill="none" stroke="#91FF00" stroke-width="1.4" stroke-linejoin="miter"/>
<path d="M341.70,575.14 L375.10,565.64 L408.50,509.32" fill="none" stroke="#90FF00" stroke-width="1.4" stroke-linejoin="miter"/>
<path d="M341.70,575.32 L375.10,565.44 L408.50,509.39" fill="none" stroke="#88FF00" stroke-width="1.4" stroke-linejoin="miter"/>
<path d="M341.70,585.14 L375.10,550.61 L408.50,515.85" fill="none" stroke="#84FF00" stroke-width="1.4" stroke-linejoin="miter"/>
<path d="M341.70,575.50 L375.10,565.23 L408.50,509.46" fill="none" stroke="#7FFF00" stroke-width="1.4" stroke-linejoin="miter"/>
<path d="M341.70,584.80 L375.10,551.22 L408.50,515.55" fill="none" stroke="#77FF00" stroke-width="1.4" stroke-linejoin="miter"/>
<path d="M341.70,575.67 L375.10,565.03 L408.50,509.52" fill="none" stroke="#76FF00" stroke-width="1.4" stroke-linejoin="miter"/>
<path d="M341.70,575.85 L375.10,564.83 L408.50,509.59" fill="none" stroke="#6EFF00" stroke-width="1.4" stroke-linejoin="miter"/>
<path d="M341.70,584.46 L375.10,551.83 L408.50,515.25" fill="none" stroke="#6BFF01" stroke-width="1.4" stroke-linejoin="miter"/>
<path d="M341.70,576.02 L375.10,564.62 L408.50,509.66" fill="none" stroke="#67FF02" stroke-width="1.4" stroke-linejoin="miter"/>
<path d="M341.70,576.20 L375.10,564.42 L408.50,509.73" fill="none" stroke="#60FF03" stroke-width="1.4" stroke-linejoin="miter"/>
<path d="M341.70,584.12 L375.10,552.44 L408.50,514.95" fill="none" stroke="#60FF03" stroke-width="1.4" stroke-linejoin="miter"/>
<path d="M341.70,576.38 L375.10,564.22 L408.50,509.79" fill="none" stroke="#5AFF05" stroke-width="1.4" stroke-linejoin="miter"/>
<path d="M341.70,583.78 L375.10,553.05 L408.50,514.65" fill="none" stroke="#56FF05" stroke-width="1.4" stroke-linejoin="miter"/>
<path d="M341.70,576.55 L375.10,564.02 L408.50,509.86" fill="none" stroke="#53FF06" stroke-width="1.4" stroke-linejoin="miter"/>
<path d="M341.70,576.73 L375.10,563.81 L408.50,509.93" fill="none" stroke="#4CFF08" stroke-width="1.4" stroke-linejoin="miter"/>
<path d="M341.70,583.44 L375.10,553.66 L408.50,514.36" fill="none" stroke="#4BFF08" stroke-width="1.4" stroke-linejoin="miter"/>
<path d="M341.70,576.90 L375.10,563.61 L408.50,510.00" fill="none" stroke="#45FF09" stroke-width="1.4" stroke-linejoin="miter"/>
<path d="M341.70,583.10 L375.10,554.27 L408.50,514.06" fill="none" stroke="#41FF0A" stroke-width="1.4" stroke-linejoin="miter"/>
<path d="M341.70,577.08 L375.10,563.41 L408.50,510.06" fill="none" stroke="#3EFF0B" stroke-width="1.4" stroke-linejoin="miter"/>
<path d="M341.70,577.26 L375.10,563.20 L408.50,510.13" fill="none" stroke="#37FF0C" stroke-width="1.4" stroke-linejoin="miter"/>
<path d="M341.70,582.77 L375.10,554.88 L408.50,513.76" fill="none" stroke="#36FF0C" stroke-width="1.4" stroke-linejoin="miter"/>
<path d="M341.70,577.43 L375.10,563.00 L408.50,510.20" fill="none" stroke="#31FF0E" stroke-width="1.4" stroke-linejoin="miter"/>
<path d="M341.70,582.43 L375.10,555.49 L408.50,513.46" fill="none" stroke="#2CFF0F" stroke-width="1.4" stroke-linejoin="miter"/>
<path d="M341.70,577.61 L375.10,562.80 L408.50,510.27" fill="none" stroke="#2AFF0F" stroke-width="1.4" stroke-linejoin="miter"/>
<path d="M341.70,577.78 L375.10,562.59 L408.50,510.34" fill="none" stroke="#23FF11" stroke-width="1.4" stroke-linejoin="miter"/>
<path d="M341.70,582.09 L375.10,556.10 L408.50,513.16" fill="none" stroke="#21FF11" stroke-width="1.4" stroke-linejoin="miter"/>
<path d="M341.70,577.96 L375.10,562.39 L408.50,510.40" fill="none" stroke="#1CFF12" stroke-width="1.4" stroke-linejoin="miter"/>
<path d="M341.70,581.75 L375.10,556.70 L408.50,512.87" fill="none" stroke="#17FF13" stroke-width="1.4" stroke-linejoin="miter"/>
<path d="M341.70,578.14 L375.10,562.19 L408.50,510.47" fill="none" stroke="#15FF14" stroke-width="1.4" stroke-linejoin="miter"/>
<path d="M341.70,578.31 L375.10,561.98 L408.50,510.54" fill="none" stroke="#10FF2D" stroke-width="1.4" stroke-linejoin="miter"/>
<path d="M341.70,581.41 L375.10,557.31 L408.50,512.57" fill="none" stroke="#0FFF37" stroke-width="1.4" stroke-linejoin="miter"/>
<path d="M341.70,578.49 L375.10,561.78 L408.50,510.61" fill="none" stroke="#0CFF4D" stroke-width="1.4" stroke-linejoin="miter"/>
<path d="M341.70,581.07 L375.10,557.92 L408.50,512.27" fill="none" stroke="#08FF68" stroke-width="1.4" stroke-linejoin="miter"/>
<path d="M341.70,578.66 L375.10,561.58 L408.50,510.67" fill="none" stroke="#07FF6D" stroke-width="1.4" stroke-linejoin="miter"/>
<path d="M341.70,578.84 L375.10,561.38 L408.50,510.74" fill="none" stroke="#03FF8D" stroke-width="1.4" stroke-linejoin="miter"/>
<path d="M341.70,580.74 L375.10,558.53 L408.50,511.97" fill="none" stroke="#01FF99" stroke-width="1.4" stroke-linejoin="miter"/>
<path d="M341.70,579.02 L375.10,561.17 L408.50,510.81" fill="none" stroke="#00F8B5" stroke-width="1.4" stroke-linejoin="miter"/>
<path d="M341.70,580.40 L375.10,559.14 L408.50,511.68" fill="none" stroke="#00E9E6" stroke-width="1.4" stroke-linejoin="miter"/>
<path d="M341.70,579.19 L375.10,560.97 L408.50,510.88" fill="none" stroke="#00E8EA" stroke-width="1.4" stroke-linejoin="miter"/>
<path d="M341.70,579.37 L375.10,560.77 L408.50,510.94" fill="none" stroke="#00A8FF" stroke-width="1.4" stroke-linejoin="miter"/>
<path d="M341.70,580.06 L375.10,559.75 L408.50,511.38" fill="none" stroke="#007BFF" stroke-width="1.4" stroke-linejoin="miter"/>
<path d="M341.70,579.54 L375.10,560.56 L408.50,511.01" fill="none" stroke="#0F46FF" stroke-width="1.4" stroke-linejoin="miter"/>
<path d="M341.70,579.72 L375.10,560.36 L408.50,511.08" fill="none" stroke="#2018FF" stroke-width="1.15"/>
<path d="M341.70,579.72 L375.10,560.36 L408.50,511.08" fill="none" stroke="#6A00FF" stroke-width="0.5"/>
<line x1="337.8" y1="514.6" x2="337.8" y2="585.0" stroke="#666" stroke-width="0.6"/>
<line x1="335.8" y1="514.6" x2="337.8" y2="514.6" stroke="#666" stroke-width="0.6"/>
<text x="333.40" y="514.60" font-size="4.3" fill="#222" text-anchor="middle" transform="rotate(-90.00 333.40 514.60)" stroke="#222" stroke-width="0.08">1.0</text>
<line x1="335.8" y1="532.2" x2="337.8" y2="532.2" stroke="#666" stroke-width="0.6"/>
<text x="333.40" y="532.20" font-size="4.3" fill="#222" text-anchor="middle" transform="rotate(-90.00 333.40 532.20)" stroke="#222" stroke-width="0.08">0.5</text>
<line x1="335.8" y1="549.8" x2="337.8" y2="549.8" stroke="#666" stroke-width="0.6"/>
<text x="333.40" y="549.80" font-size="4.3" fill="#222" text-anchor="middle" transform="rotate(-90.00 333.40 549.80)" stroke="#222" stroke-width="0.08">0.0</text>
<line x1="335.8" y1="567.4" x2="337.8" y2="567.4" stroke="#666" stroke-width="0.6"/>
<text x="333.40" y="567.40" font-size="4.3" fill="#222" text-anchor="middle" transform="rotate(-90.00 333.40 567.40)" stroke="#222" stroke-width="0.08">−0.5</text>
<line x1="335.8" y1="585.0" x2="337.8" y2="585.0" stroke="#666" stroke-width="0.6"/>
<text x="333.40" y="585.00" font-size="4.3" fill="#222" text-anchor="middle" transform="rotate(-90.00 333.40 585.00)" stroke="#222" stroke-width="0.08">−1.0</text>
<line x1="341.7" y1="590.2" x2="408.5" y2="590.2" stroke="#666" stroke-width="0.6"/>
<line x1="341.7" y1="590.2" x2="341.7" y2="592.2" stroke="#666" stroke-width="0.6"/>
<text x="341.70" y="599.30" font-size="4.5" fill="#222" text-anchor="middle" stroke="#222" stroke-width="0.08">D35</text>
<line x1="375.1" y1="590.2" x2="375.1" y2="592.2" stroke="#666" stroke-width="0.6"/>
<text x="375.10" y="599.30" font-size="4.5" fill="#222" text-anchor="middle" stroke="#222" stroke-width="0.08">D40</text>
<line x1="408.5" y1="590.2" x2="408.5" y2="592.2" stroke="#666" stroke-width="0.6"/>
<text x="408.50" y="599.30" font-size="4.5" fill="#222" text-anchor="middle" stroke="#222" stroke-width="0.08">D45</text>
<text x="375.10" y="608.90" font-size="5.0" fill="#222" text-anchor="middle" stroke="#222" stroke-width="0.08">Time</text>
<text x="323.40" y="549.70" font-size="4.0" fill="#222" text-anchor="middle" transform="rotate(-90.00 323.40 549.70)" stroke="#222" stroke-width="0.08">Expression changes</text>
<text x="375.10" y="498.90" font-size="5.0" fill="#111" text-anchor="middle" font-weight="bold">Cluster 4</text>
<path d="M443.60,521.64 L477.00,586.62 L510.40,537.03" fill="none" stroke="#FFE800" stroke-width="1.4" stroke-linejoin="miter"/>
<path d="M443.60,521.21 L477.00,585.90 L510.40,538.21" fill="none" stroke="#F7F300" stroke-width="1.4" stroke-linejoin="miter"/>
<path d="M443.60,520.77 L477.00,585.17 L510.40,539.40" fill="none" stroke="#EEFC00" stroke-width="1.4" stroke-linejoin="miter"/>
<path d="M443.60,520.34 L477.00,584.45 L510.40,540.58" fill="none" stroke="#E0FD00" stroke-width="1.4" stroke-linejoin="miter"/>
<path d="M443.60,519.90 L477.00,583.73 L510.40,541.77" fill="none" stroke="#D3FE00" stroke-width="1.4" stroke-linejoin="miter"/>
<path d="M443.60,519.47 L477.00,583.00 L510.40,542.95" fill="none" stroke="#C6FF00" stroke-width="1.4" stroke-linejoin="miter"/>
<path d="M443.60,519.04 L477.00,582.28 L510.40,544.13" fill="none" stroke="#B9FF00" stroke-width="1.4" stroke-linejoin="miter"/>
<path d="M443.60,518.60 L477.00,581.56 L510.40,545.32" fill="none" stroke="#ABFF00" stroke-width="1.4" stroke-linejoin="miter"/>
<path d="M443.60,518.17 L477.00,580.83 L510.40,546.50" fill="none" stroke="#9EFF00" stroke-width="1.4" stroke-linejoin="miter"/>
<path d="M443.60,517.73 L477.00,580.11 L510.40,547.68" fill="none" stroke="#91FF00" stroke-width="1.4" stroke-linejoin="miter"/>
<path d="M443.60,509.33 L477.00,559.26 L510.40,577.04" fill="none" stroke="#90FF00" stroke-width="1.4" stroke-linejoin="miter"/>
<path d="M443.60,509.37 L477.00,559.59 L510.40,576.69" fill="none" stroke="#88FF00" stroke-width="1.4" stroke-linejoin="miter"/>
<path d="M443.60,517.30 L477.00,579.39 L510.40,548.87" fill="none" stroke="#84FF00" stroke-width="1.4" stroke-linejoin="miter"/>
<path d="M443.60,509.41 L477.00,559.92 L510.40,576.33" fill="none" stroke="#7FFF00" stroke-width="1.4" stroke-linejoin="miter"/>
<path d="M443.60,516.87 L477.00,578.66 L510.40,550.05" fill="none" stroke="#77FF00" stroke-width="1.4" stroke-linejoin="miter"/>
<path d="M443.60,509.45 L477.00,560.25 L510.40,575.98" fill="none" stroke="#76FF00" stroke-width="1.4" stroke-linejoin="miter"/>
<path d="M443.60,509.49 L477.00,560.58 L510.40,575.62" fill="none" stroke="#6EFF00" stroke-width="1.4" stroke-linejoin="miter"/>
<path d="M443.60,516.43 L477.00,577.94 L510.40,551.24" fill="none" stroke="#6BFF01" stroke-width="1.4" stroke-linejoin="miter"/>
<path d="M443.60,509.53 L477.00,560.90 L510.40,575.27" fill="none" stroke="#67FF02" stroke-width="1.4" stroke-linejoin="miter"/>
<path d="M443.60,509.56 L477.00,561.23 L510.40,574.91" fill="none" stroke="#60FF03" stroke-width="1.4" stroke-linejoin="miter"/>
<path d="M443.60,516.00 L477.00,577.22 L510.40,552.42" fill="none" stroke="#60FF03" stroke-width="1.4" stroke-linejoin="miter"/>
<path d="M443.60,509.60 L477.00,561.56 L510.40,574.56" fill="none" stroke="#5AFF05" stroke-width="1.4" stroke-linejoin="miter"/>
<path d="M443.60,515.56 L477.00,576.49 L510.40,553.60" fill="none" stroke="#56FF05" stroke-width="1.4" stroke-linejoin="miter"/>
<path d="M443.60,509.64 L477.00,561.89 L510.40,574.20" fill="none" stroke="#53FF06" stroke-width="1.4" stroke-linejoin="miter"/>
<path d="M443.60,509.68 L477.00,562.22 L510.40,573.85" fill="none" stroke="#4CFF08" stroke-width="1.4" stroke-linejoin="miter"/>
<path d="M443.60,515.13 L477.00,575.77 L510.40,554.79" fill="none" stroke="#4BFF08" stroke-width="1.4" stroke-linejoin="miter"/>
<path d="M443.60,509.72 L477.00,562.55 L510.40,573.49" fill="none" stroke="#45FF09" stroke-width="1.4" stroke-linejoin="miter"/>
<path d="M443.60,514.69 L477.00,575.04 L510.40,555.97" fill="none" stroke="#41FF0A" stroke-width="1.4" stroke-linejoin="miter"/>
<path d="M443.60,509.76 L477.00,562.88 L510.40,573.14" fill="none" stroke="#3EFF0B" stroke-width="1.4" stroke-linejoin="miter"/>
<path d="M443.60,509.80 L477.00,563.21 L510.40,572.78" fill="none" stroke="#37FF0C" stroke-width="1.4" stroke-linejoin="miter"/>
<path d="M443.60,514.26 L477.00,574.32 L510.40,557.16" fill="none" stroke="#36FF0C" stroke-width="1.4" stroke-linejoin="miter"/>
<path d="M443.60,509.84 L477.00,563.53 L510.40,572.43" fill="none" stroke="#31FF0E" stroke-width="1.4" stroke-linejoin="miter"/>
<path d="M443.60,513.83 L477.00,573.60 L510.40,558.34" fill="none" stroke="#2CFF0F" stroke-width="1.4" stroke-linejoin="miter"/>
<path d="M443.60,509.88 L477.00,563.86 L510.40,572.07" fill="none" stroke="#2AFF0F" stroke-width="1.4" stroke-linejoin="miter"/>
<path d="M443.60,509.92 L477.00,564.19 L510.40,571.72" fill="none" stroke="#23FF11" stroke-width="1.4" stroke-linejoin="miter"/>
<path d="M443.60,513.39 L477.00,572.87 L510.40,559.52" fill="none" stroke="#21FF11" stroke-width="1.4" stroke-linejoin="miter"/>
<path d="M443.60,509.96 L477.00,564.52 L510.40,571.36" fill="none" stroke="#1CFF12" stroke-width="1.4" stroke-linejoin="miter"/>
<path d="M443.60,512.96 L477.00,572.15 L510.40,560.71" fill="none" stroke="#17FF13" stroke-width="1.4" stroke-linejoin="miter"/>
<path d="M443.60,510.00 L477.00,564.85 L510.40,571.01" fill="none" stroke="#15FF14" stroke-width="1.4" stroke-linejoin="miter"/>
<path d="M443.60,510.04 L477.00,565.18 L510.40,570.65" fill="none" stroke="#10FF2D" stroke-width="1.4" stroke-linejoin="miter"/>
<path d="M443.60,512.52 L477.00,571.43 L510.40,561.89" fill="none" stroke="#0FFF37" stroke-width="1.4" stroke-linejoin="miter"/>
<path d="M443.60,510.08 L477.00,565.51 L510.40,570.30" fill="none" stroke="#0CFF4D" stroke-width="1.4" stroke-linejoin="miter"/>
<path d="M443.60,512.09 L477.00,570.70 L510.40,563.07" fill="none" stroke="#08FF68" stroke-width="1.4" stroke-linejoin="miter"/>
<path d="M443.60,510.12 L477.00,565.84 L510.40,569.94" fill="none" stroke="#07FF6D" stroke-width="1.4" stroke-linejoin="miter"/>
<path d="M443.60,510.16 L477.00,566.17 L510.40,569.59" fill="none" stroke="#03FF8D" stroke-width="1.4" stroke-linejoin="miter"/>
<path d="M443.60,511.66 L477.00,569.98 L510.40,564.26" fill="none" stroke="#01FF99" stroke-width="1.4" stroke-linejoin="miter"/>
<path d="M443.60,510.20 L477.00,566.49 L510.40,569.23" fill="none" stroke="#00F8B5" stroke-width="1.4" stroke-linejoin="miter"/>
<path d="M443.60,511.22 L477.00,569.26 L510.40,565.44" fill="none" stroke="#00E9E6" stroke-width="1.4" stroke-linejoin="miter"/>
<path d="M443.60,510.24 L477.00,566.82 L510.40,568.88" fill="none" stroke="#00E8EA" stroke-width="1.4" stroke-linejoin="miter"/>
<path d="M443.60,510.28 L477.00,567.15 L510.40,568.52" fill="none" stroke="#00A8FF" stroke-width="1.4" stroke-linejoin="miter"/>
<path d="M443.60,510.79 L477.00,568.53 L510.40,566.63" fill="none" stroke="#007BFF" stroke-width="1.4" stroke-linejoin="miter"/>
<path d="M443.60,510.31 L477.00,567.48 L510.40,568.17" fill="none" stroke="#0F46FF" stroke-width="1.4" stroke-linejoin="miter"/>
<path d="M443.60,510.35 L477.00,567.81 L510.40,567.81" fill="none" stroke="#2018FF" stroke-width="1.15"/>
<path d="M443.60,510.35 L477.00,567.81 L510.40,567.81" fill="none" stroke="#6A00FF" stroke-width="0.5"/>
<line x1="439.7" y1="514.8" x2="439.7" y2="583.2" stroke="#666" stroke-width="0.6"/>
<line x1="437.7" y1="514.8" x2="439.7" y2="514.8" stroke="#666" stroke-width="0.6"/>
<text x="435.30" y="514.80" font-size="4.3" fill="#222" text-anchor="middle" transform="rotate(-90.00 435.30 514.80)" stroke="#222" stroke-width="0.08">1.0</text>
<line x1="437.7" y1="531.9" x2="439.7" y2="531.9" stroke="#666" stroke-width="0.6"/>
<text x="435.30" y="531.90" font-size="4.3" fill="#222" text-anchor="middle" transform="rotate(-90.00 435.30 531.90)" stroke="#222" stroke-width="0.08">0.5</text>
<line x1="437.7" y1="549.0" x2="439.7" y2="549.0" stroke="#666" stroke-width="0.6"/>
<text x="435.30" y="549.00" font-size="4.3" fill="#222" text-anchor="middle" transform="rotate(-90.00 435.30 549.00)" stroke="#222" stroke-width="0.08">0.0</text>
<line x1="437.7" y1="566.1" x2="439.7" y2="566.1" stroke="#666" stroke-width="0.6"/>
<text x="435.30" y="566.10" font-size="4.3" fill="#222" text-anchor="middle" transform="rotate(-90.00 435.30 566.10)" stroke="#222" stroke-width="0.08">−0.5</text>
<line x1="437.7" y1="583.2" x2="439.7" y2="583.2" stroke="#666" stroke-width="0.6"/>
<text x="435.30" y="583.20" font-size="4.3" fill="#222" text-anchor="middle" transform="rotate(-90.00 435.30 583.20)" stroke="#222" stroke-width="0.08">−1.0</text>
<line x1="443.6" y1="590.2" x2="510.4" y2="590.2" stroke="#666" stroke-width="0.6"/>
<line x1="443.6" y1="590.2" x2="443.6" y2="592.2" stroke="#666" stroke-width="0.6"/>
<text x="443.60" y="599.30" font-size="4.5" fill="#222" text-anchor="middle" stroke="#222" stroke-width="0.08">D35</text>
<line x1="477.0" y1="590.2" x2="477.0" y2="592.2" stroke="#666" stroke-width="0.6"/>
<text x="477.00" y="599.30" font-size="4.5" fill="#222" text-anchor="middle" stroke="#222" stroke-width="0.08">D40</text>
<line x1="510.4" y1="590.2" x2="510.4" y2="592.2" stroke="#666" stroke-width="0.6"/>
<text x="510.40" y="599.30" font-size="4.5" fill="#222" text-anchor="middle" stroke="#222" stroke-width="0.08">D45</text>
<text x="477.00" y="608.90" font-size="5.0" fill="#222" text-anchor="middle" stroke="#222" stroke-width="0.08">Time</text>
<text x="425.30" y="549.70" font-size="4.0" fill="#222" text-anchor="middle" transform="rotate(-90.00 425.30 549.70)" stroke="#222" stroke-width="0.08">Expression changes</text>
<text x="477.00" y="498.90" font-size="5.0" fill="#111" text-anchor="middle" font-weight="bold">Cluster 5</text>
<path d="M36.00,636.62 L69.40,665.79 L102.80,712.54" fill="none" stroke="#2AFF0F" stroke-width="1.4" stroke-linejoin="miter"/>
<path d="M36.00,644.47 L69.40,656.44 L102.80,712.54" fill="none" stroke="#2AFF0F" stroke-width="1.4" stroke-linejoin="miter"/>
<path d="M36.00,636.78 L69.40,665.57 L102.80,712.54" fill="none" stroke="#27FF10" stroke-width="1.4" stroke-linejoin="miter"/>
<path d="M36.00,644.33 L69.40,656.58 L102.80,712.54" fill="none" stroke="#27FF10" stroke-width="1.4" stroke-linejoin="miter"/>
<path d="M36.00,636.93 L69.40,665.36 L102.80,712.54" fill="none" stroke="#24FF11" stroke-width="1.4" stroke-linejoin="miter"/>
<path d="M36.00,644.18 L69.40,656.73 L102.80,712.54" fill="none" stroke="#24FF11" stroke-width="1.4" stroke-linejoin="miter"/>
<path d="M36.00,637.09 L69.40,665.14 L102.80,712.54" fill="none" stroke="#20FF11" stroke-width="1.4" stroke-linejoin="miter"/>
<path d="M36.00,644.04 L69.40,656.87 L102.80,712.54" fill="none" stroke="#20FF11" stroke-width="1.4" stroke-linejoin="miter"/>
<path d="M36.00,637.25 L69.40,664.93 L102.80,712.54" fill="none" stroke="#1DFF12" stroke-width="1.4" stroke-linejoin="miter"/>
<path d="M36.00,643.90 L69.40,657.02 L102.80,712.54" fill="none" stroke="#1DFF12" stroke-width="1.4" stroke-linejoin="miter"/>
<path d="M36.00,637.41 L69.40,664.71 L102.80,712.54" fill="none" stroke="#1AFF13" stroke-width="1.4" stroke-linejoin="miter"/>
<path d="M36.00,643.75 L69.40,657.16 L102.80,712.54" fill="none" stroke="#1AFF13" stroke-width="1.4" stroke-linejoin="miter"/>
<path d="M36.00,637.57 L69.40,664.50 L102.80,712.54" fill="none" stroke="#17FF13" stroke-width="1.4" stroke-linejoin="miter"/>
<path d="M36.00,643.61 L69.40,657.30 L102.80,712.54" fill="none" stroke="#17FF13" stroke-width="1.4" stroke-linejoin="miter"/>
<path d="M36.00,637.73 L69.40,664.28 L102.80,712.54" fill="none" stroke="#14FF15" stroke-width="1.4" stroke-linejoin="miter"/>
<path d="M36.00,643.47 L69.40,657.45 L102.80,712.54" fill="none" stroke="#14FF15" stroke-width="1.4" stroke-linejoin="miter"/>
<path d="M36.00,637.88 L69.40,664.06 L102.80,712.54" fill="none" stroke="#12FF24" stroke-width="1.4" stroke-linejoin="miter"/>
<path d="M36.00,643.32 L69.40,657.59 L102.80,712.54" fill="none" stroke="#12FF24" stroke-width="1.4" stroke-linejoin="miter"/>
<path d="M36.00,638.04 L69.40,663.85 L102.80,712.54" fill="none" stroke="#10FF32" stroke-width="1.4" stroke-linejoin="miter"/>
<path d="M36.00,643.18 L69.40,657.73 L102.80,712.54" fill="none" stroke="#10FF32" stroke-width="1.4" stroke-linejoin="miter"/>
<path d="M36.00,638.20 L69.40,663.63 L102.80,712.54" fill="none" stroke="#0EFF41" stroke-width="1.4" stroke-linejoin="miter"/>
<path d="M36.00,643.03 L69.40,657.88 L102.80,712.54" fill="none" stroke="#0EFF41" stroke-width="1.4" stroke-linejoin="miter"/>
<path d="M36.00,638.36 L69.40,663.42 L102.80,712.54" fill="none" stroke="#0BFF50" stroke-width="1.4" stroke-linejoin="miter"/>
<path d="M36.00,642.89 L69.40,658.02 L102.80,712.54" fill="none" stroke="#0BFF50" stroke-width="1.4" stroke-linejoin="miter"/>
<path d="M36.00,638.52 L69.40,663.20 L102.80,712.54" fill="none" stroke="#09FF5E" stroke-width="1.4" stroke-linejoin="miter"/>
<path d="M36.00,642.75 L69.40,658.17 L102.80,712.54" fill="none" stroke="#09FF5E" stroke-width="1.4" stroke-linejoin="miter"/>
<path d="M36.00,638.67 L69.40,662.99 L102.80,712.54" fill="none" stroke="#07FF6D" stroke-width="1.4" stroke-linejoin="miter"/>
<path d="M36.00,642.60 L69.40,658.31 L102.80,712.54" fill="none" stroke="#07FF6D" stroke-width="1.4" stroke-linejoin="miter"/>
<path d="M36.00,638.83 L69.40,662.77 L102.80,712.54" fill="none" stroke="#05FF7C" stroke-width="1.4" stroke-linejoin="miter"/>
<path d="M36.00,642.46 L69.40,658.45 L102.80,712.54" fill="none" stroke="#05FF7C" stroke-width="1.4" stroke-linejoin="miter"/>
<path d="M36.00,638.99 L69.40,662.55 L102.80,712.54" fill="none" stroke="#03FF8A" stroke-width="1.4" stroke-linejoin="miter"/>
<path d="M36.00,642.31 L69.40,658.60 L102.80,712.54" fill="none" stroke="#03FF8A" stroke-width="1.4" stroke-linejoin="miter"/>
<path d="M36.00,639.15 L69.40,662.34 L102.80,712.54" fill="none" stroke="#01FF99" stroke-width="1.4" stroke-linejoin="miter"/>
<path d="M36.00,642.17 L69.40,658.74 L102.80,712.54" fill="none" stroke="#01FF99" stroke-width="1.4" stroke-linejoin="miter"/>
<path d="M36.00,639.31 L69.40,662.12 L102.80,712.54" fill="none" stroke="#00FBAD" stroke-width="1.4" stroke-linejoin="miter"/>
<path d="M36.00,642.03 L69.40,658.89 L102.80,712.54" fill="none" stroke="#00FBAD" stroke-width="1.4" stroke-linejoin="miter"/>
<path d="M36.00,639.47 L69.40,661.91 L102.80,712.54" fill="none" stroke="#00F3C5" stroke-width="1.4" stroke-linejoin="miter"/>
<path d="M36.00,641.88 L69.40,659.03 L102.80,712.54" fill="none" stroke="#00F3C5" stroke-width="1.4" stroke-linejoin="miter"/>
<path d="M36.00,639.62 L69.40,661.69 L102.80,712.54" fill="none" stroke="#00ECDE" stroke-width="1.4" stroke-linejoin="miter"/>
<path d="M36.00,641.74 L69.40,659.17 L102.80,712.54" fill="none" stroke="#00ECDE" stroke-width="1.4" stroke-linejoin="miter"/>
<path d="M36.00,639.78 L69.40,661.47 L102.80,712.54" fill="none" stroke="#00E4F6" stroke-width="1.4" stroke-linejoin="miter"/>
<path d="M36.00,641.60 L69.40,659.32 L102.80,712.54" fill="none" stroke="#00E4F6" stroke-width="1.4" stroke-linejoin="miter"/>
<path d="M36.00,639.94 L69.40,661.26 L102.80,712.54" fill="none" stroke="#00C5FF" stroke-width="1.4" stroke-linejoin="miter"/>
<path d="M36.00,641.45 L69.40,659.46 L102.80,712.54" fill="none" stroke="#00C5FF" stroke-width="1.4" stroke-linejoin="miter"/>
<path d="M36.00,640.10 L69.40,661.04 L102.80,712.54" fill="none" stroke="#0099FF" stroke-width="1.4" stroke-linejoin="miter"/>
<path d="M36.00,641.31 L69.40,659.60 L102.80,712.54" fill="none" stroke="#0099FF" stroke-width="1.4" stroke-linejoin="miter"/>
<path d="M36.00,640.26 L69.40,660.83 L102.80,712.54" fill="none" stroke="#016CFF" stroke-width="1.4" stroke-linejoin="miter"/>
<path d="M36.00,641.16 L69.40,659.75 L102.80,712.54" fill="none" stroke="#016CFF" stroke-width="1.4" stroke-linejoin="miter"/>
<path d="M36.00,640.42 L69.40,660.61 L102.80,712.54" fill="none" stroke="#123EFF" stroke-width="1.4" stroke-linejoin="miter"/>
<path d="M36.00,641.02 L69.40,659.89 L102.80,712.54" fill="none" stroke="#123EFF" stroke-width="1.4" stroke-linejoin="miter"/>
<path d="M36.00,640.57 L69.40,660.40 L102.80,712.54" fill="none" stroke="#2517FF" stroke-width="1.4" stroke-linejoin="miter"/>
<path d="M36.00,640.88 L69.40,660.04 L102.80,712.54" fill="none" stroke="#2517FF" stroke-width="1.4" stroke-linejoin="miter"/>
<path d="M36.00,640.73 L69.40,660.18 L102.80,712.54" fill="none" stroke="#2018FF" stroke-width="1.15"/>
<path d="M36.00,640.73 L69.40,660.18 L102.80,712.54" fill="none" stroke="#6A00FF" stroke-width="0.5"/>
<line x1="32.1" y1="652.7" x2="32.1" y2="708.8" stroke="#666" stroke-width="0.6"/>
<line x1="30.1" y1="652.7" x2="32.1" y2="652.7" stroke="#666" stroke-width="0.6"/>
<text x="27.70" y="652.70" font-size="4.3" fill="#222" text-anchor="middle" transform="rotate(-90.00 27.70 652.70)" stroke="#222" stroke-width="0.08">0.5</text>
<line x1="30.1" y1="671.4" x2="32.1" y2="671.4" stroke="#666" stroke-width="0.6"/>
<text x="27.70" y="671.40" font-size="4.3" fill="#222" text-anchor="middle" transform="rotate(-90.00 27.70 671.40)" stroke="#222" stroke-width="0.08">0.0</text>
<line x1="30.1" y1="690.1" x2="32.1" y2="690.1" stroke="#666" stroke-width="0.6"/>
<text x="27.70" y="690.10" font-size="4.3" fill="#222" text-anchor="middle" transform="rotate(-90.00 27.70 690.10)" stroke="#222" stroke-width="0.08">−0.5</text>
<line x1="30.1" y1="708.8" x2="32.1" y2="708.8" stroke="#666" stroke-width="0.6"/>
<text x="27.70" y="708.80" font-size="4.3" fill="#222" text-anchor="middle" transform="rotate(-90.00 27.70 708.80)" stroke="#222" stroke-width="0.08">−1.0</text>
<line x1="36.0" y1="718.2" x2="102.8" y2="718.2" stroke="#666" stroke-width="0.6"/>
<line x1="36.0" y1="718.2" x2="36.0" y2="720.2" stroke="#666" stroke-width="0.6"/>
<text x="36.00" y="727.30" font-size="4.5" fill="#222" text-anchor="middle" stroke="#222" stroke-width="0.08">D35</text>
<line x1="69.4" y1="718.2" x2="69.4" y2="720.2" stroke="#666" stroke-width="0.6"/>
<text x="69.40" y="727.30" font-size="4.5" fill="#222" text-anchor="middle" stroke="#222" stroke-width="0.08">D40</text>
<line x1="102.8" y1="718.2" x2="102.8" y2="720.2" stroke="#666" stroke-width="0.6"/>
<text x="102.80" y="727.30" font-size="4.5" fill="#222" text-anchor="middle" stroke="#222" stroke-width="0.08">D45</text>
<text x="69.40" y="736.90" font-size="5.0" fill="#222" text-anchor="middle" stroke="#222" stroke-width="0.08">Time</text>
<text x="17.70" y="677.70" font-size="4.0" fill="#222" text-anchor="middle" transform="rotate(-90.00 17.70 677.70)" stroke="#222" stroke-width="0.08">Expression changes</text>
<text x="69.40" y="626.50" font-size="5.0" fill="#111" text-anchor="middle" font-weight="bold">Cluster 6</text>
<path d="M137.90,699.13 L171.30,715.37 L204.70,639.85" fill="none" stroke="#2FFF0E" stroke-width="1.4" stroke-linejoin="miter"/>
<path d="M137.90,712.93 L171.30,701.97 L204.70,639.85" fill="none" stroke="#2FFF0E" stroke-width="1.4" stroke-linejoin="miter"/>
<path d="M137.90,699.44 L171.30,715.02 L204.70,639.85" fill="none" stroke="#2CFF0F" stroke-width="1.4" stroke-linejoin="miter"/>
<path d="M137.90,712.71 L171.30,702.14 L204.70,639.85" fill="none" stroke="#2CFF0F" stroke-width="1.4" stroke-linejoin="miter"/>
<path d="M137.90,699.75 L171.30,714.68 L204.70,639.85" fill="none" stroke="#29FF0F" stroke-width="1.4" stroke-linejoin="miter"/>
<path d="M137.90,712.49 L171.30,702.31 L204.70,639.85" fill="none" stroke="#29FF0F" stroke-width="1.4" stroke-linejoin="miter"/>
<path d="M137.90,700.06 L171.30,714.34 L204.70,639.85" fill="none" stroke="#25FF10" stroke-width="1.4" stroke-linejoin="miter"/>
<path d="M137.90,712.28 L171.30,702.49 L204.70,639.85" fill="none" stroke="#25FF10" stroke-width="1.4" stroke-linejoin="miter"/>
<path d="M137.90,700.38 L171.30,713.99 L204.70,639.85" fill="none" stroke="#22FF11" stroke-width="1.4" stroke-linejoin="miter"/>
<path d="M137.90,712.06 L171.30,702.66 L204.70,639.85" fill="none" stroke="#22FF11" stroke-width="1.4" stroke-linejoin="miter"/>
<path d="M137.90,700.69 L171.30,713.65 L204.70,639.85" fill="none" stroke="#1EFF12" stroke-width="1.4" stroke-linejoin="miter"/>
<path d="M137.90,711.84 L171.30,702.83 L204.70,639.85" fill="none" stroke="#1EFF12" stroke-width="1.4" stroke-linejoin="miter"/>
<path d="M137.90,701.00 L171.30,713.31 L204.70,639.85" fill="none" stroke="#1BFF12" stroke-width="1.4" stroke-linejoin="miter"/>
<path d="M137.90,711.62 L171.30,703.00 L204.70,639.85" fill="none" stroke="#1BFF12" stroke-width="1.4" stroke-linejoin="miter"/>
<path d="M137.90,701.31 L171.30,712.96 L204.70,639.85" fill="none" stroke="#18FF13" stroke-width="1.4" stroke-linejoin="miter"/>
<path d="M137.90,711.40 L171.30,703.17 L204.70,639.85" fill="none" stroke="#18FF13" stroke-width="1.4" stroke-linejoin="miter"/>
<path d="M137.90,701.63 L171.30,712.62 L204.70,639.85" fill="none" stroke="#14FF14" stroke-width="1.4" stroke-linejoin="miter"/>
<path d="M137.90,711.18 L171.30,703.34 L204.70,639.85" fill="none" stroke="#14FF14" stroke-width="1.4" stroke-linejoin="miter"/>
<path d="M137.90,701.94 L171.30,712.28 L204.70,639.85" fill="none" stroke="#12FF22" stroke-width="1.4" stroke-linejoin="miter"/>
<path d="M137.90,710.96 L171.30,703.52 L204.70,639.85" fill="none" stroke="#12FF22" stroke-width="1.4" stroke-linejoin="miter"/>
<path d="M137.90,702.25 L171.30,711.93 L204.70,639.85" fill="none" stroke="#10FF31" stroke-width="1.4" stroke-linejoin="miter"/>
<path d="M137.90,710.75 L171.30,703.69 L204.70,639.85" fill="none" stroke="#10FF31" stroke-width="1.4" stroke-linejoin="miter"/>
<path d="M137.90,702.56 L171.30,711.59 L204.70,639.85" fill="none" stroke="#0EFF41" stroke-width="1.4" stroke-linejoin="miter"/>
<path d="M137.90,710.53 L171.30,703.86 L204.70,639.85" fill="none" stroke="#0EFF41" stroke-width="1.4" stroke-linejoin="miter"/>
<path d="M137.90,702.88 L171.30,711.25 L204.70,639.85" fill="none" stroke="#0BFF51" stroke-width="1.4" stroke-linejoin="miter"/>
<path d="M137.90,710.31 L171.30,704.03 L204.70,639.85" fill="none" stroke="#0BFF51" stroke-width="1.4" stroke-linejoin="miter"/>
<path d="M137.90,703.19 L171.30,710.90 L204.70,639.85" fill="none" stroke="#09FF60" stroke-width="1.4" stroke-linejoin="miter"/>
<path d="M137.90,710.09 L171.30,704.20 L204.70,639.85" fill="none" stroke="#09FF60" stroke-width="1.4" stroke-linejoin="miter"/>
<path d="M137.90,703.50 L171.30,710.56 L204.70,639.85" fill="none" stroke="#07FF70" stroke-width="1.4" stroke-linejoin="miter"/>
<path d="M137.90,709.87 L171.30,704.37 L204.70,639.85" fill="none" stroke="#07FF70" stroke-width="1.4" stroke-linejoin="miter"/>
<path d="M137.90,703.81 L171.30,710.21 L204.70,639.85" fill="none" stroke="#05FF80" stroke-width="1.4" stroke-linejoin="miter"/>
<path d="M137.90,709.65 L171.30,704.55 L204.70,639.85" fill="none" stroke="#05FF80" stroke-width="1.4" stroke-linejoin="miter"/>
<path d="M137.90,704.12 L171.30,709.87 L204.70,639.85" fill="none" stroke="#02FF8F" stroke-width="1.4" stroke-linejoin="miter"/>
<path d="M137.90,709.43 L171.30,704.72 L204.70,639.85" fill="none" stroke="#02FF8F" stroke-width="1.4" stroke-linejoin="miter"/>
<path d="M137.90,704.44 L171.30,709.53 L204.70,639.85" fill="none" stroke="#00FF9F" stroke-width="1.4" stroke-linejoin="miter"/>
<path d="M137.90,709.22 L171.30,704.89 L204.70,639.85" fill="none" stroke="#00FF9F" stroke-width="1.4" stroke-linejoin="miter"/>
<path d="M137.90,704.75 L171.30,709.18 L204.70,639.85" fill="none" stroke="#00F7B8" stroke-width="1.4" stroke-linejoin="miter"/>
<path d="M137.90,709.00 L171.30,705.06 L204.70,639.85" fill="none" stroke="#00F7B8" stroke-width="1.4" stroke-linejoin="miter"/>
<path d="M137.90,705.06 L171.30,708.84 L204.70,639.85" fill="none" stroke="#00EFD2" stroke-width="1.4" stroke-linejoin="miter"/>
<path d="M137.90,708.78 L171.30,705.23 L204.70,639.85" fill="none" stroke="#00EFD2" stroke-width="1.4" stroke-linejoin="miter"/>
<path d="M137.90,705.37 L171.30,708.50 L204.70,639.85" fill="none" stroke="#00E7EC" stroke-width="1.4" stroke-linejoin="miter"/>
<path d="M137.90,708.56 L171.30,705.41 L204.70,639.85" fill="none" stroke="#00E7EC" stroke-width="1.4" stroke-linejoin="miter"/>
<path d="M137.90,705.69 L171.30,708.15 L204.70,639.85" fill="none" stroke="#00D4FF" stroke-width="1.4" stroke-linejoin="miter"/>
<path d="M137.90,708.34 L171.30,705.58 L204.70,639.85" fill="none" stroke="#00D4FF" stroke-width="1.4" stroke-linejoin="miter"/>
<path d="M137.90,706.00 L171.30,707.81 L204.70,639.85" fill="none" stroke="#00A5FF" stroke-width="1.4" stroke-linejoin="miter"/>
<path d="M137.90,708.12 L171.30,705.75 L204.70,639.85" fill="none" stroke="#00A5FF" stroke-width="1.4" stroke-linejoin="miter"/>
<path d="M137.90,706.31 L171.30,707.47 L204.70,639.85" fill="none" stroke="#0075FF" stroke-width="1.4" stroke-linejoin="miter"/>
<path d="M137.90,707.90 L171.30,705.92 L204.70,639.85" fill="none" stroke="#0075FF" stroke-width="1.4" stroke-linejoin="miter"/>
<path d="M137.90,706.62 L171.30,707.12 L204.70,639.85" fill="none" stroke="#1044FF" stroke-width="1.4" stroke-linejoin="miter"/>
<path d="M137.90,707.69 L171.30,706.09 L204.70,639.85" fill="none" stroke="#1044FF" stroke-width="1.4" stroke-linejoin="miter"/>
<path d="M137.90,706.94 L171.30,706.78 L204.70,639.85" fill="none" stroke="#2319FF" stroke-width="1.4" stroke-linejoin="miter"/>
<path d="M137.90,707.47 L171.30,706.26 L204.70,639.85" fill="none" stroke="#2319FF" stroke-width="1.4" stroke-linejoin="miter"/>
<path d="M137.90,707.25 L171.30,706.44 L204.70,639.85" fill="none" stroke="#2018FF" stroke-width="1.15"/>
<path d="M137.90,707.25 L171.30,706.44 L204.70,639.85" fill="none" stroke="#6A00FF" stroke-width="0.5"/>
<line x1="134.0" y1="643.1" x2="134.0" y2="704.0" stroke="#666" stroke-width="0.6"/>
<line x1="132.0" y1="643.1" x2="134.0" y2="643.1" stroke="#666" stroke-width="0.6"/>
<text x="129.60" y="643.10" font-size="4.3" fill="#222" text-anchor="middle" transform="rotate(-90.00 129.60 643.10)" stroke="#222" stroke-width="0.08">1.0</text>
<line x1="132.0" y1="663.4" x2="134.0" y2="663.4" stroke="#666" stroke-width="0.6"/>
<text x="129.60" y="663.40" font-size="4.3" fill="#222" text-anchor="middle" transform="rotate(-90.00 129.60 663.40)" stroke="#222" stroke-width="0.08">0.5</text>
<line x1="132.0" y1="683.7" x2="134.0" y2="683.7" stroke="#666" stroke-width="0.6"/>
<text x="129.60" y="683.70" font-size="4.3" fill="#222" text-anchor="middle" transform="rotate(-90.00 129.60 683.70)" stroke="#222" stroke-width="0.08">0.0</text>
<line x1="132.0" y1="704.0" x2="134.0" y2="704.0" stroke="#666" stroke-width="0.6"/>
<text x="129.60" y="704.00" font-size="4.3" fill="#222" text-anchor="middle" transform="rotate(-90.00 129.60 704.00)" stroke="#222" stroke-width="0.08">−0.5</text>
<line x1="137.9" y1="718.2" x2="204.7" y2="718.2" stroke="#666" stroke-width="0.6"/>
<line x1="137.9" y1="718.2" x2="137.9" y2="720.2" stroke="#666" stroke-width="0.6"/>
<text x="137.90" y="727.30" font-size="4.5" fill="#222" text-anchor="middle" stroke="#222" stroke-width="0.08">D35</text>
<line x1="171.3" y1="718.2" x2="171.3" y2="720.2" stroke="#666" stroke-width="0.6"/>
<text x="171.30" y="727.30" font-size="4.5" fill="#222" text-anchor="middle" stroke="#222" stroke-width="0.08">D40</text>
<line x1="204.7" y1="718.2" x2="204.7" y2="720.2" stroke="#666" stroke-width="0.6"/>
<text x="204.70" y="727.30" font-size="4.5" fill="#222" text-anchor="middle" stroke="#222" stroke-width="0.08">D45</text>
<text x="171.30" y="736.90" font-size="5.0" fill="#222" text-anchor="middle" stroke="#222" stroke-width="0.08">Time</text>
<text x="119.60" y="677.70" font-size="4.0" fill="#222" text-anchor="middle" transform="rotate(-90.00 119.60 677.70)" stroke="#222" stroke-width="0.08">Expression changes</text>
<text x="171.30" y="626.50" font-size="5.0" fill="#111" text-anchor="middle" font-weight="bold">Cluster 7</text>
<path d="M239.80,650.40 L273.20,716.52 L306.60,664.32" fill="none" stroke="#FFE800" stroke-width="1.4" stroke-linejoin="miter"/>
<path d="M239.80,651.56 L273.20,716.28 L306.60,663.42" fill="none" stroke="#F7F300" stroke-width="1.4" stroke-linejoin="miter"/>
<path d="M239.80,652.73 L273.20,716.04 L306.60,662.53" fill="none" stroke="#EEFC00" stroke-width="1.4" stroke-linejoin="miter"/>
<path d="M239.80,653.89 L273.20,715.80 L306.60,661.63" fill="none" stroke="#E0FD00" stroke-width="1.4" stroke-linejoin="miter"/>
<path d="M239.80,655.06 L273.20,715.56 L306.60,660.73" fill="none" stroke="#D3FE00" stroke-width="1.4" stroke-linejoin="miter"/>
<path d="M239.80,656.22 L273.20,715.32 L306.60,659.84" fill="none" stroke="#C6FF00" stroke-width="1.4" stroke-linejoin="miter"/>
<path d="M239.80,657.39 L273.20,715.07 L306.60,658.94" fill="none" stroke="#B9FF00" stroke-width="1.4" stroke-linejoin="miter"/>
<path d="M239.80,658.55 L273.20,714.83 L306.60,658.04" fill="none" stroke="#ABFF00" stroke-width="1.4" stroke-linejoin="miter"/>
<path d="M239.80,659.72 L273.20,714.59 L306.60,657.15" fill="none" stroke="#9EFF00" stroke-width="1.4" stroke-linejoin="miter"/>
<path d="M239.80,660.88 L273.20,714.35 L306.60,656.25" fill="none" stroke="#91FF00" stroke-width="1.4" stroke-linejoin="miter"/>
<path d="M239.80,662.04 L273.20,714.11 L306.60,655.35" fill="none" stroke="#84FF00" stroke-width="1.4" stroke-linejoin="miter"/>
<path d="M239.80,689.03 L273.20,704.34 L306.60,638.22" fill="none" stroke="#7FFF00" stroke-width="1.4" stroke-linejoin="miter"/>
<path d="M239.80,663.21 L273.20,713.87 L306.60,654.46" fill="none" stroke="#77FF00" stroke-width="1.4" stroke-linejoin="miter"/>
<path d="M239.80,688.71 L273.20,704.57 L306.60,638.33" fill="none" stroke="#77FF00" stroke-width="1.4" stroke-linejoin="miter"/>
<path d="M239.80,688.39 L273.20,704.80 L306.60,638.43" fill="none" stroke="#6FFF00" stroke-width="1.4" stroke-linejoin="miter"/>
<path d="M239.80,664.37 L273.20,713.63 L306.60,653.56" fill="none" stroke="#6BFF01" stroke-width="1.4" stroke-linejoin="miter"/>
<path d="M239.80,688.06 L273.20,705.02 L306.60,638.54" fill="none" stroke="#69FF01" stroke-width="1.4" stroke-linejoin="miter"/>
<path d="M239.80,687.74 L273.20,705.25 L306.60,638.65" fill="none" stroke="#62FF03" stroke-width="1.4" stroke-linejoin="miter"/>
<path d="M239.80,665.54 L273.20,713.39 L306.60,652.66" fill="none" stroke="#60FF03" stroke-width="1.4" stroke-linejoin="miter"/>
<path d="M239.80,687.42 L273.20,705.48 L306.60,638.76" fill="none" stroke="#5CFF04" stroke-width="1.4" stroke-linejoin="miter"/>
<path d="M239.80,666.70 L273.20,713.15 L306.60,651.77" fill="none" stroke="#56FF05" stroke-width="1.4" stroke-linejoin="miter"/>
<path d="M239.80,687.10 L273.20,705.71 L306.60,638.86" fill="none" stroke="#56FF05" stroke-width="1.4" stroke-linejoin="miter"/>
<path d="M239.80,686.78 L273.20,705.93 L306.60,638.97" fill="none" stroke="#50FF07" stroke-width="1.4" stroke-linejoin="miter"/>
<path d="M239.80,667.87 L273.20,712.91 L306.60,650.87" fill="none" stroke="#4BFF08" stroke-width="1.4" stroke-linejoin="miter"/>
<path d="M239.80,686.46 L273.20,706.16 L306.60,639.08" fill="none" stroke="#49FF08" stroke-width="1.4" stroke-linejoin="miter"/>
<path d="M239.80,686.14 L273.20,706.39 L306.60,639.18" fill="none" stroke="#43FF0A" stroke-width="1.4" stroke-linejoin="miter"/>
<path d="M239.80,669.03 L273.20,712.67 L306.60,649.97" fill="none" stroke="#41FF0A" stroke-width="1.4" stroke-linejoin="miter"/>
<path d="M239.80,685.82 L273.20,706.62 L306.60,639.29" fill="none" stroke="#3DFF0B" stroke-width="1.4" stroke-linejoin="miter"/>
<path d="M239.80,670.20 L273.20,712.42 L306.60,649.07" fill="none" stroke="#36FF0C" stroke-width="1.4" stroke-linejoin="miter"/>
<path d="M239.80,685.49 L273.20,706.84 L306.60,639.40" fill="none" stroke="#36FF0C" stroke-width="1.4" stroke-linejoin="miter"/>
<path d="M239.80,685.17 L273.20,707.07 L306.60,639.50" fill="none" stroke="#30FF0E" stroke-width="1.4" stroke-linejoin="miter"/>
<path d="M239.80,671.36 L273.20,712.18 L306.60,648.18" fill="none" stroke="#2CFF0F" stroke-width="1.4" stroke-linejoin="miter"/>
<path d="M239.80,684.85 L273.20,707.30 L306.60,639.61" fill="none" stroke="#2AFF0F" stroke-width="1.4" stroke-linejoin="miter"/>
<path d="M239.80,684.53 L273.20,707.53 L306.60,639.72" fill="none" stroke="#24FF11" stroke-width="1.4" stroke-linejoin="miter"/>
<path d="M239.80,672.52 L273.20,711.94 L306.60,647.28" fill="none" stroke="#21FF11" stroke-width="1.4" stroke-linejoin="miter"/>
<path d="M239.80,684.21 L273.20,707.75 L306.60,639.83" fill="none" stroke="#1DFF12" stroke-width="1.4" stroke-linejoin="miter"/>
<path d="M239.80,673.69 L273.20,711.70 L306.60,646.38" fill="none" stroke="#17FF13" stroke-width="1.4" stroke-linejoin="miter"/>
<path d="M239.80,683.89 L273.20,707.98 L306.60,639.93" fill="none" stroke="#17FF13" stroke-width="1.4" stroke-linejoin="miter"/>
<path d="M239.80,683.57 L273.20,708.21 L306.60,640.04" fill="none" stroke="#12FF24" stroke-width="1.4" stroke-linejoin="miter"/>
<path d="M239.80,674.85 L273.20,711.46 L306.60,645.49" fill="none" stroke="#0FFF37" stroke-width="1.4" stroke-linejoin="miter"/>
<path d="M239.80,683.25 L273.20,708.44 L306.60,640.15" fill="none" stroke="#0EFF41" stroke-width="1.4" stroke-linejoin="miter"/>
<path d="M239.80,682.92 L273.20,708.66 L306.60,640.25" fill="none" stroke="#09FF5E" stroke-width="1.4" stroke-linejoin="miter"/>
<path d="M239.80,676.02 L273.20,711.22 L306.60,644.59" fill="none" stroke="#08FF68" stroke-width="1.4" stroke-linejoin="miter"/>
<path d="M239.80,682.60 L273.20,708.89 L306.60,640.36" fill="none" stroke="#05FF7C" stroke-width="1.4" stroke-linejoin="miter"/>
<path d="M239.80,677.18 L273.20,710.98 L306.60,643.69" fill="none" stroke="#01FF99" stroke-width="1.4" stroke-linejoin="miter"/>
<path d="M239.80,682.28 L273.20,709.12 L306.60,640.47" fill="none" stroke="#01FF99" stroke-width="1.4" stroke-linejoin="miter"/>
<path d="M239.80,681.96 L273.20,709.35 L306.60,640.58" fill="none" stroke="#00F3C5" stroke-width="1.4" stroke-linejoin="miter"/>
<path d="M239.80,678.35 L273.20,710.74 L306.60,642.80" fill="none" stroke="#00E9E6" stroke-width="1.4" stroke-linejoin="miter"/>
<path d="M239.80,681.64 L273.20,709.57 L306.60,640.68" fill="none" stroke="#00E4F6" stroke-width="1.4" stroke-linejoin="miter"/>
<path d="M239.80,681.32 L273.20,709.80 L306.60,640.79" fill="none" stroke="#0099FF" stroke-width="1.4" stroke-linejoin="miter"/>
<path d="M239.80,679.51 L273.20,710.50 L306.60,641.90" fill="none" stroke="#007BFF" stroke-width="1.4" stroke-linejoin="miter"/>
<path d="M239.80,681.00 L273.20,710.03 L306.60,640.90" fill="none" stroke="#123EFF" stroke-width="1.4" stroke-linejoin="miter"/>
<path d="M239.80,680.68 L273.20,710.26 L306.60,641.00" fill="none" stroke="#2018FF" stroke-width="1.15"/>
<path d="M239.80,680.68 L273.20,710.26 L306.60,641.00" fill="none" stroke="#6A00FF" stroke-width="0.5"/>
<line x1="235.9" y1="641.7" x2="235.9" y2="711.3" stroke="#666" stroke-width="0.6"/>
<line x1="233.9" y1="641.7" x2="235.9" y2="641.7" stroke="#666" stroke-width="0.6"/>
<text x="231.50" y="641.70" font-size="4.3" fill="#222" text-anchor="middle" transform="rotate(-90.00 231.50 641.70)" stroke="#222" stroke-width="0.08">1.0</text>
<line x1="233.9" y1="659.1" x2="235.9" y2="659.1" stroke="#666" stroke-width="0.6"/>
<text x="231.50" y="659.10" font-size="4.3" fill="#222" text-anchor="middle" transform="rotate(-90.00 231.50 659.10)" stroke="#222" stroke-width="0.08">0.5</text>
<line x1="233.9" y1="676.5" x2="235.9" y2="676.5" stroke="#666" stroke-width="0.6"/>
<text x="231.50" y="676.50" font-size="4.3" fill="#222" text-anchor="middle" transform="rotate(-90.00 231.50 676.50)" stroke="#222" stroke-width="0.08">0.0</text>
<line x1="233.9" y1="693.9" x2="235.9" y2="693.9" stroke="#666" stroke-width="0.6"/>
<text x="231.50" y="693.90" font-size="4.3" fill="#222" text-anchor="middle" transform="rotate(-90.00 231.50 693.90)" stroke="#222" stroke-width="0.08">−0.5</text>
<line x1="233.9" y1="711.3" x2="235.9" y2="711.3" stroke="#666" stroke-width="0.6"/>
<text x="231.50" y="711.30" font-size="4.3" fill="#222" text-anchor="middle" transform="rotate(-90.00 231.50 711.30)" stroke="#222" stroke-width="0.08">−1.0</text>
<line x1="239.8" y1="718.2" x2="306.6" y2="718.2" stroke="#666" stroke-width="0.6"/>
<line x1="239.8" y1="718.2" x2="239.8" y2="720.2" stroke="#666" stroke-width="0.6"/>
<text x="239.80" y="727.30" font-size="4.5" fill="#222" text-anchor="middle" stroke="#222" stroke-width="0.08">D35</text>
<line x1="273.2" y1="718.2" x2="273.2" y2="720.2" stroke="#666" stroke-width="0.6"/>
<text x="273.20" y="727.30" font-size="4.5" fill="#222" text-anchor="middle" stroke="#222" stroke-width="0.08">D40</text>
<line x1="306.6" y1="718.2" x2="306.6" y2="720.2" stroke="#666" stroke-width="0.6"/>
<text x="306.60" y="727.30" font-size="4.5" fill="#222" text-anchor="middle" stroke="#222" stroke-width="0.08">D45</text>
<text x="273.20" y="736.90" font-size="5.0" fill="#222" text-anchor="middle" stroke="#222" stroke-width="0.08">Time</text>
<text x="221.50" y="677.70" font-size="4.0" fill="#222" text-anchor="middle" transform="rotate(-90.00 221.50 677.70)" stroke="#222" stroke-width="0.08">Expression changes</text>
<text x="273.20" y="626.50" font-size="5.0" fill="#111" text-anchor="middle" font-weight="bold">Cluster 8</text>
<path d="M341.70,679.61 L375.10,637.13 L408.50,707.93" fill="none" stroke="#E6FD00" stroke-width="1.4" stroke-linejoin="miter"/>
<path d="M341.70,679.00 L375.10,637.40 L408.50,708.13" fill="none" stroke="#DAFD00" stroke-width="1.4" stroke-linejoin="miter"/>
<path d="M341.70,678.38 L375.10,637.67 L408.50,708.34" fill="none" stroke="#CEFE00" stroke-width="1.4" stroke-linejoin="miter"/>
<path d="M341.70,677.77 L375.10,637.95 L408.50,708.54" fill="none" stroke="#C2FF00" stroke-width="1.4" stroke-linejoin="miter"/>
<path d="M341.70,677.16 L375.10,638.22 L408.50,708.75" fill="none" stroke="#B6FF00" stroke-width="1.4" stroke-linejoin="miter"/>
<path d="M341.70,676.55 L375.10,638.49 L408.50,708.95" fill="none" stroke="#AAFF00" stroke-width="1.4" stroke-linejoin="miter"/>
<path d="M341.70,675.93 L375.10,638.76 L408.50,709.16" fill="none" stroke="#9EFF00" stroke-width="1.4" stroke-linejoin="miter"/>
<path d="M341.70,675.32 L375.10,639.04 L408.50,709.36" fill="none" stroke="#93FF00" stroke-width="1.4" stroke-linejoin="miter"/>
<path d="M341.70,674.71 L375.10,639.31 L408.50,709.56" fill="none" stroke="#87FF00" stroke-width="1.4" stroke-linejoin="miter"/>
<path d="M341.70,659.43 L375.10,648.81 L408.50,713.95" fill="none" stroke="#7FFF00" stroke-width="1.4" stroke-linejoin="miter"/>
<path d="M341.70,674.10 L375.10,639.58 L408.50,709.77" fill="none" stroke="#7BFF00" stroke-width="1.4" stroke-linejoin="miter"/>
<path d="M341.70,659.60 L375.10,648.63 L408.50,713.92" fill="none" stroke="#77FF00" stroke-width="1.4" stroke-linejoin="miter"/>
<path d="M341.70,673.48 L375.10,639.85 L408.50,709.97" fill="none" stroke="#6FFF00" stroke-width="1.4" stroke-linejoin="miter"/>
<path d="M341.70,659.76 L375.10,648.46 L408.50,713.89" fill="none" stroke="#6FFF00" stroke-width="1.4" stroke-linejoin="miter"/>
<path d="M341.70,659.92 L375.10,648.28 L408.50,713.87" fill="none" stroke="#69FF01" stroke-width="1.4" stroke-linejoin="miter"/>
<path d="M341.70,672.87 L375.10,640.13 L408.50,710.18" fill="none" stroke="#66FF02" stroke-width="1.4" stroke-linejoin="miter"/>
<path d="M341.70,660.09 L375.10,648.10 L408.50,713.84" fill="none" stroke="#62FF03" stroke-width="1.4" stroke-linejoin="miter"/>
<path d="M341.70,672.26 L375.10,640.40 L408.50,710.38" fill="none" stroke="#5CFF04" stroke-width="1.4" stroke-linejoin="miter"/>
<path d="M341.70,660.25 L375.10,647.93 L408.50,713.81" fill="none" stroke="#5CFF04" stroke-width="1.4" stroke-linejoin="miter"/>
<path d="M341.70,660.41 L375.10,647.75 L408.50,713.78" fill="none" stroke="#56FF05" stroke-width="1.4" stroke-linejoin="miter"/>
<path d="M341.70,671.64 L375.10,640.67 L408.50,710.58" fill="none" stroke="#53FF06" stroke-width="1.4" stroke-linejoin="miter"/>
<path d="M341.70,660.58 L375.10,647.57 L408.50,713.76" fill="none" stroke="#50FF07" stroke-width="1.4" stroke-linejoin="miter"/>
<path d="M341.70,671.03 L375.10,640.94 L408.50,710.79" fill="none" stroke="#49FF08" stroke-width="1.4" stroke-linejoin="miter"/>
<path d="M341.70,660.74 L375.10,647.40 L408.50,713.73" fill="none" stroke="#49FF08" stroke-width="1.4" stroke-linejoin="miter"/>
<path d="M341.70,660.90 L375.10,647.22 L408.50,713.70" fill="none" stroke="#43FF0A" stroke-width="1.4" stroke-linejoin="miter"/>
<path d="M341.70,670.42 L375.10,641.21 L408.50,710.99" fill="none" stroke="#40FF0A" stroke-width="1.4" stroke-linejoin="miter"/>
<path d="M341.70,661.07 L375.10,647.04 L408.50,713.68" fill="none" stroke="#3DFF0B" stroke-width="1.4" stroke-linejoin="miter"/>
<path d="M341.70,669.81 L375.10,641.49 L408.50,711.20" fill="none" stroke="#36FF0C" stroke-width="1.4" stroke-linejoin="miter"/>
<path d="M341.70,661.23 L375.10,646.87 L408.50,713.65" fill="none" stroke="#36FF0C" stroke-width="1.4" stroke-linejoin="miter"/>
<path d="M341.70,661.39 L375.10,646.69 L408.50,713.62" fill="none" stroke="#30FF0E" stroke-width="1.4" stroke-linejoin="miter"/>
<path d="M341.70,669.19 L375.10,641.76 L408.50,711.40" fill="none" stroke="#2DFF0E" stroke-width="1.4" stroke-linejoin="miter"/>
<path d="M341.70,661.56 L375.10,646.51 L408.50,713.59" fill="none" stroke="#2AFF0F" stroke-width="1.4" stroke-linejoin="miter"/>
<path d="M341.70,668.58 L375.10,642.03 L408.50,711.61" fill="none" stroke="#24FF11" stroke-width="1.4" stroke-linejoin="miter"/>
<path d="M341.70,661.72 L375.10,646.33 L408.50,713.57" fill="none" stroke="#24FF11" stroke-width="1.4" stroke-linejoin="miter"/>
<path d="M341.70,661.88 L375.10,646.16 L408.50,713.54" fill="none" stroke="#1DFF12" stroke-width="1.4" stroke-linejoin="miter"/>
<path d="M341.70,667.97 L375.10,642.30 L408.50,711.81" fill="none" stroke="#1AFF13" stroke-width="1.4" stroke-linejoin="miter"/>
<path d="M341.70,662.05 L375.10,645.98 L408.50,713.51" fill="none" stroke="#17FF13" stroke-width="1.4" stroke-linejoin="miter"/>
<path d="M341.70,667.36 L375.10,642.58 L408.50,712.01" fill="none" stroke="#12FF24" stroke-width="1.4" stroke-linejoin="miter"/>
<path d="M341.70,662.21 L375.10,645.80 L408.50,713.49" fill="none" stroke="#12FF24" stroke-width="1.4" stroke-linejoin="miter"/>
<path d="M341.70,662.37 L375.10,645.63 L408.50,713.46" fill="none" stroke="#0EFF41" stroke-width="1.4" stroke-linejoin="miter"/>
<path d="M341.70,666.74 L375.10,642.85 L408.50,712.22" fill="none" stroke="#0BFF50" stroke-width="1.4" stroke-linejoin="miter"/>
<path d="M341.70,662.54 L375.10,645.45 L408.50,713.43" fill="none" stroke="#09FF5E" stroke-width="1.4" stroke-linejoin="miter"/>
<path d="M341.70,666.13 L375.10,643.12 L408.50,712.42" fill="none" stroke="#05FF7C" stroke-width="1.4" stroke-linejoin="miter"/>
<path d="M341.70,662.70 L375.10,645.27 L408.50,713.40" fill="none" stroke="#05FF7C" stroke-width="1.4" stroke-linejoin="miter"/>
<path d="M341.70,662.86 L375.10,645.09 L408.50,713.38" fill="none" stroke="#01FF99" stroke-width="1.4" stroke-linejoin="miter"/>
<path d="M341.70,665.52 L375.10,643.39 L408.50,712.63" fill="none" stroke="#00FBAD" stroke-width="1.4" stroke-linejoin="miter"/>
<path d="M341.70,663.03 L375.10,644.92 L408.50,713.35" fill="none" stroke="#00F3C5" stroke-width="1.4" stroke-linejoin="miter"/>
<path d="M341.70,664.91 L375.10,643.67 L408.50,712.83" fill="none" stroke="#00E4F6" stroke-width="1.4" stroke-linejoin="miter"/>
<path d="M341.70,663.19 L375.10,644.74 L408.50,713.32" fill="none" stroke="#00E4F6" stroke-width="1.4" stroke-linejoin="miter"/>
<path d="M341.70,663.35 L375.10,644.56 L408.50,713.29" fill="none" stroke="#0099FF" stroke-width="1.4" stroke-linejoin="miter"/>
<path d="M341.70,664.29 L375.10,643.94 L408.50,713.04" fill="none" stroke="#016CFF" stroke-width="1.4" stroke-linejoin="miter"/>
<path d="M341.70,663.52 L375.10,644.39 L408.50,713.27" fill="none" stroke="#123EFF" stroke-width="1.4" stroke-linejoin="miter"/>
<path d="M341.70,663.68 L375.10,644.21 L408.50,713.24" fill="none" stroke="#2018FF" stroke-width="1.15"/>
<path d="M341.70,663.68 L375.10,644.21 L408.50,713.24" fill="none" stroke="#6A00FF" stroke-width="0.5"/>
<line x1="337.8" y1="638.9" x2="337.8" y2="709.7" stroke="#666" stroke-width="0.6"/>
<line x1="335.8" y1="638.9" x2="337.8" y2="638.9" stroke="#666" stroke-width="0.6"/>
<text x="333.40" y="638.90" font-size="4.3" fill="#222" text-anchor="middle" transform="rotate(-90.00 333.40 638.90)" stroke="#222" stroke-width="0.08">1.0</text>
<line x1="335.8" y1="656.6" x2="337.8" y2="656.6" stroke="#666" stroke-width="0.6"/>
<text x="333.40" y="656.60" font-size="4.3" fill="#222" text-anchor="middle" transform="rotate(-90.00 333.40 656.60)" stroke="#222" stroke-width="0.08">0.5</text>
<line x1="335.8" y1="674.3" x2="337.8" y2="674.3" stroke="#666" stroke-width="0.6"/>
<text x="333.40" y="674.30" font-size="4.3" fill="#222" text-anchor="middle" transform="rotate(-90.00 333.40 674.30)" stroke="#222" stroke-width="0.08">0.0</text>
<line x1="335.8" y1="692.0" x2="337.8" y2="692.0" stroke="#666" stroke-width="0.6"/>
<text x="333.40" y="692.00" font-size="4.3" fill="#222" text-anchor="middle" transform="rotate(-90.00 333.40 692.00)" stroke="#222" stroke-width="0.08">−0.5</text>
<line x1="335.8" y1="709.7" x2="337.8" y2="709.7" stroke="#666" stroke-width="0.6"/>
<text x="333.40" y="709.70" font-size="4.3" fill="#222" text-anchor="middle" transform="rotate(-90.00 333.40 709.70)" stroke="#222" stroke-width="0.08">−1.0</text>
<line x1="341.7" y1="718.2" x2="408.5" y2="718.2" stroke="#666" stroke-width="0.6"/>
<line x1="341.7" y1="718.2" x2="341.7" y2="720.2" stroke="#666" stroke-width="0.6"/>
<text x="341.70" y="727.30" font-size="4.5" fill="#222" text-anchor="middle" stroke="#222" stroke-width="0.08">D35</text>
<line x1="375.1" y1="718.2" x2="375.1" y2="720.2" stroke="#666" stroke-width="0.6"/>
<text x="375.10" y="727.30" font-size="4.5" fill="#222" text-anchor="middle" stroke="#222" stroke-width="0.08">D40</text>
<line x1="408.5" y1="718.2" x2="408.5" y2="720.2" stroke="#666" stroke-width="0.6"/>
<text x="408.50" y="727.30" font-size="4.5" fill="#222" text-anchor="middle" stroke="#222" stroke-width="0.08">D45</text>
<text x="375.10" y="736.90" font-size="5.0" fill="#222" text-anchor="middle" stroke="#222" stroke-width="0.08">Time</text>
<text x="323.40" y="677.70" font-size="4.0" fill="#222" text-anchor="middle" transform="rotate(-90.00 323.40 677.70)" stroke="#222" stroke-width="0.08">Expression changes</text>
<text x="375.10" y="626.50" font-size="5.0" fill="#111" text-anchor="middle" font-weight="bold">Cluster 9</text>
<path d="M443.60,638.00 L477.00,649.48 L510.40,715.90" fill="none" stroke="#2AFF0F" stroke-width="1.4" stroke-linejoin="miter"/>
<path d="M443.60,648.25 L477.00,638.82 L510.40,715.90" fill="none" stroke="#2AFF0F" stroke-width="1.4" stroke-linejoin="miter"/>
<path d="M443.60,638.16 L477.00,649.28 L510.40,715.90" fill="none" stroke="#27FF10" stroke-width="1.4" stroke-linejoin="miter"/>
<path d="M443.60,648.01 L477.00,639.03 L510.40,715.90" fill="none" stroke="#27FF10" stroke-width="1.4" stroke-linejoin="miter"/>
<path d="M443.60,638.32 L477.00,649.07 L510.40,715.90" fill="none" stroke="#24FF11" stroke-width="1.4" stroke-linejoin="miter"/>
<path d="M443.60,647.78 L477.00,639.23 L510.40,715.90" fill="none" stroke="#24FF11" stroke-width="1.4" stroke-linejoin="miter"/>
<path d="M443.60,638.47 L477.00,648.87 L510.40,715.90" fill="none" stroke="#20FF11" stroke-width="1.4" stroke-linejoin="miter"/>
<path d="M443.60,647.54 L477.00,639.44 L510.40,715.90" fill="none" stroke="#20FF11" stroke-width="1.4" stroke-linejoin="miter"/>
<path d="M443.60,638.63 L477.00,648.66 L510.40,715.90" fill="none" stroke="#1DFF12" stroke-width="1.4" stroke-linejoin="miter"/>
<path d="M443.60,647.30 L477.00,639.64 L510.40,715.90" fill="none" stroke="#1DFF12" stroke-width="1.4" stroke-linejoin="miter"/>
<path d="M443.60,638.79 L477.00,648.46 L510.40,715.90" fill="none" stroke="#1AFF13" stroke-width="1.4" stroke-linejoin="miter"/>
<path d="M443.60,647.07 L477.00,639.85 L510.40,715.90" fill="none" stroke="#1AFF13" stroke-width="1.4" stroke-linejoin="miter"/>
<path d="M443.60,638.95 L477.00,648.25 L510.40,715.90" fill="none" stroke="#17FF13" stroke-width="1.4" stroke-linejoin="miter"/>
<path d="M443.60,646.83 L477.00,640.05 L510.40,715.90" fill="none" stroke="#17FF13" stroke-width="1.4" stroke-linejoin="miter"/>
<path d="M443.60,639.10 L477.00,648.05 L510.40,715.90" fill="none" stroke="#14FF15" stroke-width="1.4" stroke-linejoin="miter"/>
<path d="M443.60,646.59 L477.00,640.25 L510.40,715.90" fill="none" stroke="#14FF15" stroke-width="1.4" stroke-linejoin="miter"/>
<path d="M443.60,639.26 L477.00,647.84 L510.40,715.90" fill="none" stroke="#12FF24" stroke-width="1.4" stroke-linejoin="miter"/>
<path d="M443.60,646.36 L477.00,640.46 L510.40,715.90" fill="none" stroke="#12FF24" stroke-width="1.4" stroke-linejoin="miter"/>
<path d="M443.60,639.42 L477.00,647.63 L510.40,715.90" fill="none" stroke="#10FF32" stroke-width="1.4" stroke-linejoin="miter"/>
<path d="M443.60,646.12 L477.00,640.67 L510.40,715.90" fill="none" stroke="#10FF32" stroke-width="1.4" stroke-linejoin="miter"/>
<path d="M443.60,639.58 L477.00,647.43 L510.40,715.90" fill="none" stroke="#0EFF41" stroke-width="1.4" stroke-linejoin="miter"/>
<path d="M443.60,645.88 L477.00,640.87 L510.40,715.90" fill="none" stroke="#0EFF41" stroke-width="1.4" stroke-linejoin="miter"/>
<path d="M443.60,639.73 L477.00,647.23 L510.40,715.90" fill="none" stroke="#0BFF50" stroke-width="1.4" stroke-linejoin="miter"/>
<path d="M443.60,645.65 L477.00,641.08 L510.40,715.90" fill="none" stroke="#0BFF50" stroke-width="1.4" stroke-linejoin="miter"/>
<path d="M443.60,639.89 L477.00,647.02 L510.40,715.90" fill="none" stroke="#09FF5E" stroke-width="1.4" stroke-linejoin="miter"/>
<path d="M443.60,645.41 L477.00,641.28 L510.40,715.90" fill="none" stroke="#09FF5E" stroke-width="1.4" stroke-linejoin="miter"/>
<path d="M443.60,640.05 L477.00,646.82 L510.40,715.90" fill="none" stroke="#07FF6D" stroke-width="1.4" stroke-linejoin="miter"/>
<path d="M443.60,645.18 L477.00,641.49 L510.40,715.90" fill="none" stroke="#07FF6D" stroke-width="1.4" stroke-linejoin="miter"/>
<path d="M443.60,640.21 L477.00,646.61 L510.40,715.90" fill="none" stroke="#05FF7C" stroke-width="1.4" stroke-linejoin="miter"/>
<path d="M443.60,644.94 L477.00,641.69 L510.40,715.90" fill="none" stroke="#05FF7C" stroke-width="1.4" stroke-linejoin="miter"/>
<path d="M443.60,640.37 L477.00,646.41 L510.40,715.90" fill="none" stroke="#03FF8A" stroke-width="1.4" stroke-linejoin="miter"/>
<path d="M443.60,644.70 L477.00,641.90 L510.40,715.90" fill="none" stroke="#03FF8A" stroke-width="1.4" stroke-linejoin="miter"/>
<path d="M443.60,640.52 L477.00,646.20 L510.40,715.90" fill="none" stroke="#01FF99" stroke-width="1.4" stroke-linejoin="miter"/>
<path d="M443.60,644.47 L477.00,642.10 L510.40,715.90" fill="none" stroke="#01FF99" stroke-width="1.4" stroke-linejoin="miter"/>
<path d="M443.60,640.68 L477.00,646.00 L510.40,715.90" fill="none" stroke="#00FBAD" stroke-width="1.4" stroke-linejoin="miter"/>
<path d="M443.60,644.23 L477.00,642.31 L510.40,715.90" fill="none" stroke="#00FBAD" stroke-width="1.4" stroke-linejoin="miter"/>
<path d="M443.60,640.84 L477.00,645.79 L510.40,715.90" fill="none" stroke="#00F3C5" stroke-width="1.4" stroke-linejoin="miter"/>
<path d="M443.60,643.99 L477.00,642.51 L510.40,715.90" fill="none" stroke="#00F3C5" stroke-width="1.4" stroke-linejoin="miter"/>
<path d="M443.60,641.00 L477.00,645.59 L510.40,715.90" fill="none" stroke="#00ECDE" stroke-width="1.4" stroke-linejoin="miter"/>
<path d="M443.60,643.76 L477.00,642.72 L510.40,715.90" fill="none" stroke="#00ECDE" stroke-width="1.4" stroke-linejoin="miter"/>
<path d="M443.60,641.15 L477.00,645.38 L510.40,715.90" fill="none" stroke="#00E4F6" stroke-width="1.4" stroke-linejoin="miter"/>
<path d="M443.60,643.52 L477.00,642.92 L510.40,715.90" fill="none" stroke="#00E4F6" stroke-width="1.4" stroke-linejoin="miter"/>
<path d="M443.60,641.31 L477.00,645.18 L510.40,715.90" fill="none" stroke="#00C5FF" stroke-width="1.4" stroke-linejoin="miter"/>
<path d="M443.60,643.28 L477.00,643.12 L510.40,715.90" fill="none" stroke="#00C5FF" stroke-width="1.4" stroke-linejoin="miter"/>
<path d="M443.60,641.47 L477.00,644.97 L510.40,715.90" fill="none" stroke="#0099FF" stroke-width="1.4" stroke-linejoin="miter"/>
<path d="M443.60,643.05 L477.00,643.33 L510.40,715.90" fill="none" stroke="#0099FF" stroke-width="1.4" stroke-linejoin="miter"/>
<path d="M443.60,641.63 L477.00,644.77 L510.40,715.90" fill="none" stroke="#016CFF" stroke-width="1.4" stroke-linejoin="miter"/>
<path d="M443.60,642.81 L477.00,643.54 L510.40,715.90" fill="none" stroke="#016CFF" stroke-width="1.4" stroke-linejoin="miter"/>
<path d="M443.60,641.78 L477.00,644.56 L510.40,715.90" fill="none" stroke="#123EFF" stroke-width="1.4" stroke-linejoin="miter"/>
<path d="M443.60,642.57 L477.00,643.74 L510.40,715.90" fill="none" stroke="#123EFF" stroke-width="1.4" stroke-linejoin="miter"/>
<path d="M443.60,641.94 L477.00,644.36 L510.40,715.90" fill="none" stroke="#2517FF" stroke-width="1.4" stroke-linejoin="miter"/>
<path d="M443.60,642.34 L477.00,643.95 L510.40,715.90" fill="none" stroke="#2517FF" stroke-width="1.4" stroke-linejoin="miter"/>
<path d="M443.60,642.10 L477.00,644.15 L510.40,715.90" fill="none" stroke="#2018FF" stroke-width="1.15"/>
<path d="M443.60,642.10 L477.00,644.15 L510.40,715.90" fill="none" stroke="#6A00FF" stroke-width="0.5"/>
<line x1="439.7" y1="646.2" x2="439.7" y2="707.7" stroke="#666" stroke-width="0.6"/>
<line x1="437.7" y1="646.2" x2="439.7" y2="646.2" stroke="#666" stroke-width="0.6"/>
<text x="435.30" y="646.20" font-size="4.3" fill="#222" text-anchor="middle" transform="rotate(-90.00 435.30 646.20)" stroke="#222" stroke-width="0.08">0.5</text>
<line x1="437.7" y1="666.7" x2="439.7" y2="666.7" stroke="#666" stroke-width="0.6"/>
<text x="435.30" y="666.70" font-size="4.3" fill="#222" text-anchor="middle" transform="rotate(-90.00 435.30 666.70)" stroke="#222" stroke-width="0.08">0.0</text>
<line x1="437.7" y1="687.2" x2="439.7" y2="687.2" stroke="#666" stroke-width="0.6"/>
<text x="435.30" y="687.20" font-size="4.3" fill="#222" text-anchor="middle" transform="rotate(-90.00 435.30 687.20)" stroke="#222" stroke-width="0.08">−0.5</text>
<line x1="437.7" y1="707.7" x2="439.7" y2="707.7" stroke="#666" stroke-width="0.6"/>
<text x="435.30" y="707.70" font-size="4.3" fill="#222" text-anchor="middle" transform="rotate(-90.00 435.30 707.70)" stroke="#222" stroke-width="0.08">−1.0</text>
<line x1="443.6" y1="718.2" x2="510.4" y2="718.2" stroke="#666" stroke-width="0.6"/>
<line x1="443.6" y1="718.2" x2="443.6" y2="720.2" stroke="#666" stroke-width="0.6"/>
<text x="443.60" y="727.30" font-size="4.5" fill="#222" text-anchor="middle" stroke="#222" stroke-width="0.08">D35</text>
<line x1="477.0" y1="718.2" x2="477.0" y2="720.2" stroke="#666" stroke-width="0.6"/>
<text x="477.00" y="727.30" font-size="4.5" fill="#222" text-anchor="middle" stroke="#222" stroke-width="0.08">D40</text>
<line x1="510.4" y1="718.2" x2="510.4" y2="720.2" stroke="#666" stroke-width="0.6"/>
<text x="510.40" y="727.30" font-size="4.5" fill="#222" text-anchor="middle" stroke="#222" stroke-width="0.08">D45</text>
<text x="477.00" y="736.90" font-size="5.0" fill="#222" text-anchor="middle" stroke="#222" stroke-width="0.08">Time</text>
<text x="425.30" y="677.70" font-size="4.0" fill="#222" text-anchor="middle" transform="rotate(-90.00 425.30 677.70)" stroke="#222" stroke-width="0.08">Expression changes</text>
<text x="477.00" y="626.50" font-size="5.0" fill="#111" text-anchor="middle" font-weight="bold">Cluster 10</text>
</svg>
</body></html>
